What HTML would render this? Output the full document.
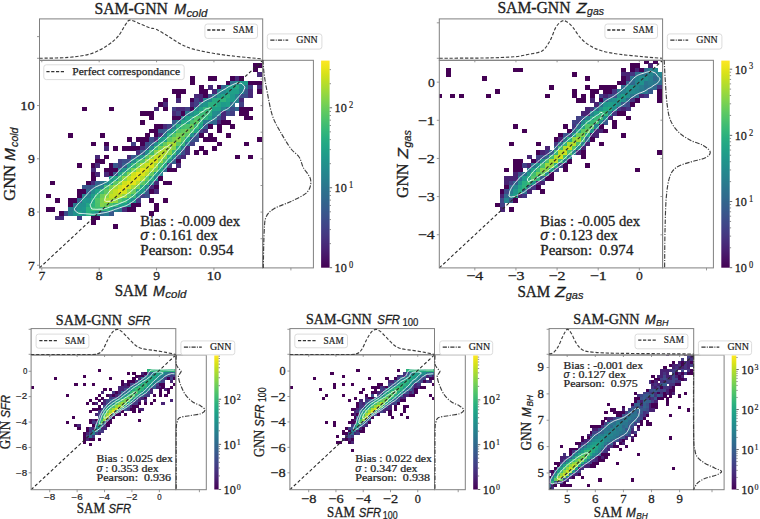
<!DOCTYPE html>
<html><head><meta charset="utf-8"><style>html,body{margin:0;padding:0;background:#fff;overflow:hidden}svg{display:block}</style></head>
<body>
<svg width="760" height="519" viewBox="0 0 760 519">
<rect width="760" height="519" fill="#ffffff"/>
<defs><linearGradient id="vir" x1="0" y1="1" x2="0" y2="0"><stop offset="0.0000" stop-color="#440154"/><stop offset="0.0312" stop-color="#470d60"/><stop offset="0.0625" stop-color="#48186a"/><stop offset="0.0938" stop-color="#482374"/><stop offset="0.1250" stop-color="#472d7b"/><stop offset="0.1562" stop-color="#453781"/><stop offset="0.1875" stop-color="#424086"/><stop offset="0.2188" stop-color="#3e4989"/><stop offset="0.2500" stop-color="#3b528b"/><stop offset="0.2812" stop-color="#375b8d"/><stop offset="0.3125" stop-color="#33638d"/><stop offset="0.3438" stop-color="#2f6b8e"/><stop offset="0.3750" stop-color="#2c728e"/><stop offset="0.4062" stop-color="#297a8e"/><stop offset="0.4375" stop-color="#26828e"/><stop offset="0.4688" stop-color="#23898e"/><stop offset="0.5000" stop-color="#21918c"/><stop offset="0.5312" stop-color="#1f988b"/><stop offset="0.5625" stop-color="#1fa088"/><stop offset="0.5938" stop-color="#22a785"/><stop offset="0.6250" stop-color="#28ae80"/><stop offset="0.6562" stop-color="#32b67a"/><stop offset="0.6875" stop-color="#3fbc73"/><stop offset="0.7188" stop-color="#4ec36b"/><stop offset="0.7500" stop-color="#5ec962"/><stop offset="0.7812" stop-color="#70cf57"/><stop offset="0.8125" stop-color="#84d44b"/><stop offset="0.8438" stop-color="#98d83e"/><stop offset="0.8750" stop-color="#addc30"/><stop offset="0.9062" stop-color="#c2df23"/><stop offset="0.9375" stop-color="#d8e219"/><stop offset="0.9688" stop-color="#ece51b"/><stop offset="1.0000" stop-color="#fde725"/></linearGradient></defs>
<g shape-rendering="crispEdges">
<rect x="252.80" y="63.30" width="4.80" height="4.65" fill="#440154"/>
<rect x="257.30" y="63.30" width="4.80" height="4.65" fill="#440154"/>
<rect x="252.80" y="67.65" width="4.80" height="4.65" fill="#440154"/>
<rect x="144.80" y="72.00" width="4.80" height="4.65" fill="#440154"/>
<rect x="257.30" y="72.00" width="4.80" height="4.65" fill="#482979"/>
<rect x="189.80" y="76.35" width="4.80" height="4.65" fill="#440154"/>
<rect x="207.80" y="76.35" width="4.80" height="4.65" fill="#440154"/>
<rect x="212.30" y="76.35" width="4.80" height="4.65" fill="#440154"/>
<rect x="230.30" y="76.35" width="4.80" height="4.65" fill="#440154"/>
<rect x="234.80" y="76.35" width="4.80" height="4.65" fill="#482979"/>
<rect x="239.30" y="76.35" width="4.80" height="4.65" fill="#440154"/>
<rect x="189.80" y="80.70" width="4.80" height="4.65" fill="#440154"/>
<rect x="225.80" y="80.70" width="4.80" height="4.65" fill="#440154"/>
<rect x="230.30" y="80.70" width="4.80" height="4.65" fill="#2d718e"/>
<rect x="234.80" y="80.70" width="4.80" height="4.65" fill="#238a8d"/>
<rect x="239.30" y="80.70" width="4.80" height="4.65" fill="#1f988b"/>
<rect x="243.80" y="80.70" width="4.80" height="4.65" fill="#1e9d89"/>
<rect x="248.30" y="80.70" width="4.80" height="4.65" fill="#440154"/>
<rect x="252.80" y="80.70" width="4.80" height="4.65" fill="#440154"/>
<rect x="257.30" y="80.70" width="4.80" height="4.65" fill="#440154"/>
<rect x="198.80" y="85.05" width="4.80" height="4.65" fill="#440154"/>
<rect x="207.80" y="85.05" width="4.80" height="4.65" fill="#482979"/>
<rect x="216.80" y="85.05" width="4.80" height="4.65" fill="#440154"/>
<rect x="221.30" y="85.05" width="4.80" height="4.65" fill="#31668e"/>
<rect x="225.80" y="85.05" width="4.80" height="4.65" fill="#1f968b"/>
<rect x="230.30" y="85.05" width="4.80" height="4.65" fill="#1fa088"/>
<rect x="234.80" y="85.05" width="4.80" height="4.65" fill="#24aa83"/>
<rect x="239.30" y="85.05" width="4.80" height="4.65" fill="#218f8d"/>
<rect x="243.80" y="85.05" width="4.80" height="4.65" fill="#2a788e"/>
<rect x="248.30" y="85.05" width="4.80" height="4.65" fill="#423f85"/>
<rect x="257.30" y="85.05" width="4.80" height="4.65" fill="#482979"/>
<rect x="171.80" y="89.40" width="4.80" height="4.65" fill="#440154"/>
<rect x="176.30" y="89.40" width="4.80" height="4.65" fill="#440154"/>
<rect x="180.80" y="89.40" width="4.80" height="4.65" fill="#440154"/>
<rect x="198.80" y="89.40" width="4.80" height="4.65" fill="#440154"/>
<rect x="203.30" y="89.40" width="4.80" height="4.65" fill="#440154"/>
<rect x="212.30" y="89.40" width="4.80" height="4.65" fill="#482979"/>
<rect x="216.80" y="89.40" width="4.80" height="4.65" fill="#26828e"/>
<rect x="221.30" y="89.40" width="4.80" height="4.65" fill="#23888e"/>
<rect x="225.80" y="89.40" width="4.80" height="4.65" fill="#1e9b8a"/>
<rect x="230.30" y="89.40" width="4.80" height="4.65" fill="#1fa088"/>
<rect x="234.80" y="89.40" width="4.80" height="4.65" fill="#1fa088"/>
<rect x="239.30" y="89.40" width="4.80" height="4.65" fill="#23888e"/>
<rect x="243.80" y="89.40" width="4.80" height="4.65" fill="#38588c"/>
<rect x="248.30" y="89.40" width="4.80" height="4.65" fill="#482979"/>
<rect x="257.30" y="89.40" width="4.80" height="4.65" fill="#440154"/>
<rect x="176.30" y="93.75" width="4.80" height="4.65" fill="#440154"/>
<rect x="194.30" y="93.75" width="4.80" height="4.65" fill="#482979"/>
<rect x="198.80" y="93.75" width="4.80" height="4.65" fill="#482979"/>
<rect x="203.30" y="93.75" width="4.80" height="4.65" fill="#440154"/>
<rect x="207.80" y="93.75" width="4.80" height="4.65" fill="#3d4d8a"/>
<rect x="212.30" y="93.75" width="4.80" height="4.65" fill="#2a788e"/>
<rect x="216.80" y="93.75" width="4.80" height="4.65" fill="#1f988b"/>
<rect x="221.30" y="93.75" width="4.80" height="4.65" fill="#21a585"/>
<rect x="225.80" y="93.75" width="4.80" height="4.65" fill="#28ae80"/>
<rect x="230.30" y="93.75" width="4.80" height="4.65" fill="#1f9a8a"/>
<rect x="234.80" y="93.75" width="4.80" height="4.65" fill="#25858e"/>
<rect x="239.30" y="93.75" width="4.80" height="4.65" fill="#3d4d8a"/>
<rect x="243.80" y="93.75" width="4.80" height="4.65" fill="#3d4d8a"/>
<rect x="248.30" y="93.75" width="4.80" height="4.65" fill="#482979"/>
<rect x="162.80" y="98.10" width="4.80" height="4.65" fill="#440154"/>
<rect x="176.30" y="98.10" width="4.80" height="4.65" fill="#482979"/>
<rect x="189.80" y="98.10" width="4.80" height="4.65" fill="#440154"/>
<rect x="194.30" y="98.10" width="4.80" height="4.65" fill="#423f85"/>
<rect x="198.80" y="98.10" width="4.80" height="4.65" fill="#482979"/>
<rect x="203.30" y="98.10" width="4.80" height="4.65" fill="#25858e"/>
<rect x="207.80" y="98.10" width="4.80" height="4.65" fill="#238a8d"/>
<rect x="212.30" y="98.10" width="4.80" height="4.65" fill="#25ab82"/>
<rect x="216.80" y="98.10" width="4.80" height="4.65" fill="#29af7f"/>
<rect x="221.30" y="98.10" width="4.80" height="4.65" fill="#2fb47c"/>
<rect x="225.80" y="98.10" width="4.80" height="4.65" fill="#21a585"/>
<rect x="230.30" y="98.10" width="4.80" height="4.65" fill="#1f9a8a"/>
<rect x="234.80" y="98.10" width="4.80" height="4.65" fill="#27808e"/>
<rect x="239.30" y="98.10" width="4.80" height="4.65" fill="#482979"/>
<rect x="158.30" y="102.45" width="4.80" height="4.65" fill="#440154"/>
<rect x="162.80" y="102.45" width="4.80" height="4.65" fill="#482979"/>
<rect x="189.80" y="102.45" width="4.80" height="4.65" fill="#482979"/>
<rect x="194.30" y="102.45" width="4.80" height="4.65" fill="#423f85"/>
<rect x="198.80" y="102.45" width="4.80" height="4.65" fill="#238a8d"/>
<rect x="203.30" y="102.45" width="4.80" height="4.65" fill="#1f968b"/>
<rect x="207.80" y="102.45" width="4.80" height="4.65" fill="#29af7f"/>
<rect x="212.30" y="102.45" width="4.80" height="4.65" fill="#2ab07f"/>
<rect x="216.80" y="102.45" width="4.80" height="4.65" fill="#21a585"/>
<rect x="221.30" y="102.45" width="4.80" height="4.65" fill="#1e9b8a"/>
<rect x="225.80" y="102.45" width="4.80" height="4.65" fill="#1fa088"/>
<rect x="230.30" y="102.45" width="4.80" height="4.65" fill="#2d718e"/>
<rect x="239.30" y="102.45" width="4.80" height="4.65" fill="#423f85"/>
<rect x="261.80" y="102.45" width="1.20" height="4.65" fill="#440154"/>
<rect x="81.80" y="106.80" width="4.80" height="4.65" fill="#440154"/>
<rect x="108.80" y="106.80" width="4.80" height="4.65" fill="#440154"/>
<rect x="153.80" y="106.80" width="4.80" height="4.65" fill="#482979"/>
<rect x="162.80" y="106.80" width="4.80" height="4.65" fill="#440154"/>
<rect x="171.80" y="106.80" width="4.80" height="4.65" fill="#423f85"/>
<rect x="176.30" y="106.80" width="4.80" height="4.65" fill="#482979"/>
<rect x="180.80" y="106.80" width="4.80" height="4.65" fill="#482979"/>
<rect x="185.30" y="106.80" width="4.80" height="4.65" fill="#423f85"/>
<rect x="189.80" y="106.80" width="4.80" height="4.65" fill="#440154"/>
<rect x="194.30" y="106.80" width="4.80" height="4.65" fill="#238a8d"/>
<rect x="198.80" y="106.80" width="4.80" height="4.65" fill="#1fa287"/>
<rect x="203.30" y="106.80" width="4.80" height="4.65" fill="#31b57b"/>
<rect x="207.80" y="106.80" width="4.80" height="4.65" fill="#3bbb75"/>
<rect x="212.30" y="106.80" width="4.80" height="4.65" fill="#1fa287"/>
<rect x="216.80" y="106.80" width="4.80" height="4.65" fill="#1fa088"/>
<rect x="221.30" y="106.80" width="4.80" height="4.65" fill="#25858e"/>
<rect x="225.80" y="106.80" width="4.80" height="4.65" fill="#2f6c8e"/>
<rect x="230.30" y="106.80" width="4.80" height="4.65" fill="#3d4d8a"/>
<rect x="234.80" y="106.80" width="4.80" height="4.65" fill="#31668e"/>
<rect x="239.30" y="106.80" width="4.80" height="4.65" fill="#440154"/>
<rect x="243.80" y="106.80" width="4.80" height="4.65" fill="#440154"/>
<rect x="248.30" y="106.80" width="4.80" height="4.65" fill="#440154"/>
<rect x="140.30" y="111.15" width="4.80" height="4.65" fill="#440154"/>
<rect x="144.80" y="111.15" width="4.80" height="4.65" fill="#440154"/>
<rect x="149.30" y="111.15" width="4.80" height="4.65" fill="#440154"/>
<rect x="171.80" y="111.15" width="4.80" height="4.65" fill="#482979"/>
<rect x="176.30" y="111.15" width="4.80" height="4.65" fill="#423f85"/>
<rect x="180.80" y="111.15" width="4.80" height="4.65" fill="#440154"/>
<rect x="185.30" y="111.15" width="4.80" height="4.65" fill="#2b748e"/>
<rect x="189.80" y="111.15" width="4.80" height="4.65" fill="#21918c"/>
<rect x="194.30" y="111.15" width="4.80" height="4.65" fill="#1fa287"/>
<rect x="198.80" y="111.15" width="4.80" height="4.65" fill="#38b977"/>
<rect x="203.30" y="111.15" width="4.80" height="4.65" fill="#3dbc74"/>
<rect x="207.80" y="111.15" width="4.80" height="4.65" fill="#29af7f"/>
<rect x="212.30" y="111.15" width="4.80" height="4.65" fill="#228d8d"/>
<rect x="216.80" y="111.15" width="4.80" height="4.65" fill="#25858e"/>
<rect x="221.30" y="111.15" width="4.80" height="4.65" fill="#482979"/>
<rect x="225.80" y="111.15" width="4.80" height="4.65" fill="#3d4d8a"/>
<rect x="230.30" y="111.15" width="4.80" height="4.65" fill="#423f85"/>
<rect x="239.30" y="111.15" width="4.80" height="4.65" fill="#440154"/>
<rect x="243.80" y="111.15" width="4.80" height="4.65" fill="#440154"/>
<rect x="149.30" y="115.50" width="4.80" height="4.65" fill="#440154"/>
<rect x="171.80" y="115.50" width="4.80" height="4.65" fill="#440154"/>
<rect x="176.30" y="115.50" width="4.80" height="4.65" fill="#440154"/>
<rect x="180.80" y="115.50" width="4.80" height="4.65" fill="#2a788e"/>
<rect x="185.30" y="115.50" width="4.80" height="4.65" fill="#1fa088"/>
<rect x="189.80" y="115.50" width="4.80" height="4.65" fill="#24aa83"/>
<rect x="194.30" y="115.50" width="4.80" height="4.65" fill="#50c46a"/>
<rect x="198.80" y="115.50" width="4.80" height="4.65" fill="#48c16e"/>
<rect x="203.30" y="115.50" width="4.80" height="4.65" fill="#2db27d"/>
<rect x="207.80" y="115.50" width="4.80" height="4.65" fill="#1fa088"/>
<rect x="212.30" y="115.50" width="4.80" height="4.65" fill="#27808e"/>
<rect x="216.80" y="115.50" width="4.80" height="4.65" fill="#3d4d8a"/>
<rect x="221.30" y="115.50" width="4.80" height="4.65" fill="#482979"/>
<rect x="243.80" y="115.50" width="4.80" height="4.65" fill="#440154"/>
<rect x="248.30" y="115.50" width="4.80" height="4.65" fill="#440154"/>
<rect x="140.30" y="119.85" width="4.80" height="4.65" fill="#440154"/>
<rect x="171.80" y="119.85" width="4.80" height="4.65" fill="#38588c"/>
<rect x="176.30" y="119.85" width="4.80" height="4.65" fill="#2a788e"/>
<rect x="180.80" y="119.85" width="4.80" height="4.65" fill="#22a884"/>
<rect x="185.30" y="119.85" width="4.80" height="4.65" fill="#21a685"/>
<rect x="189.80" y="119.85" width="4.80" height="4.65" fill="#4ac16d"/>
<rect x="194.30" y="119.85" width="4.80" height="4.65" fill="#5ec962"/>
<rect x="198.80" y="119.85" width="4.80" height="4.65" fill="#27ad81"/>
<rect x="203.30" y="119.85" width="4.80" height="4.65" fill="#287c8e"/>
<rect x="207.80" y="119.85" width="4.80" height="4.65" fill="#2d718e"/>
<rect x="212.30" y="119.85" width="4.80" height="4.65" fill="#31668e"/>
<rect x="216.80" y="119.85" width="4.80" height="4.65" fill="#482979"/>
<rect x="221.30" y="119.85" width="4.80" height="4.65" fill="#440154"/>
<rect x="225.80" y="119.85" width="4.80" height="4.65" fill="#440154"/>
<rect x="153.80" y="124.20" width="4.80" height="4.65" fill="#440154"/>
<rect x="158.30" y="124.20" width="4.80" height="4.65" fill="#440154"/>
<rect x="162.80" y="124.20" width="4.80" height="4.65" fill="#482979"/>
<rect x="167.30" y="124.20" width="4.80" height="4.65" fill="#423f85"/>
<rect x="171.80" y="124.20" width="4.80" height="4.65" fill="#287c8e"/>
<rect x="176.30" y="124.20" width="4.80" height="4.65" fill="#26ad81"/>
<rect x="180.80" y="124.20" width="4.80" height="4.65" fill="#40bd72"/>
<rect x="185.30" y="124.20" width="4.80" height="4.65" fill="#4ac16d"/>
<rect x="189.80" y="124.20" width="4.80" height="4.65" fill="#6ece58"/>
<rect x="194.30" y="124.20" width="4.80" height="4.65" fill="#35b779"/>
<rect x="198.80" y="124.20" width="4.80" height="4.65" fill="#1fa088"/>
<rect x="203.30" y="124.20" width="4.80" height="4.65" fill="#38588c"/>
<rect x="207.80" y="124.20" width="4.80" height="4.65" fill="#440154"/>
<rect x="216.80" y="124.20" width="4.80" height="4.65" fill="#440154"/>
<rect x="230.30" y="124.20" width="4.80" height="4.65" fill="#440154"/>
<rect x="149.30" y="128.55" width="4.80" height="4.65" fill="#440154"/>
<rect x="153.80" y="128.55" width="4.80" height="4.65" fill="#440154"/>
<rect x="158.30" y="128.55" width="4.80" height="4.65" fill="#38588c"/>
<rect x="162.80" y="128.55" width="4.80" height="4.65" fill="#38588c"/>
<rect x="167.30" y="128.55" width="4.80" height="4.65" fill="#238a8d"/>
<rect x="171.80" y="128.55" width="4.80" height="4.65" fill="#1fa287"/>
<rect x="176.30" y="128.55" width="4.80" height="4.65" fill="#52c569"/>
<rect x="180.80" y="128.55" width="4.80" height="4.65" fill="#60ca60"/>
<rect x="185.30" y="128.55" width="4.80" height="4.65" fill="#73d056"/>
<rect x="189.80" y="128.55" width="4.80" height="4.65" fill="#46c06f"/>
<rect x="194.30" y="128.55" width="4.80" height="4.65" fill="#21a585"/>
<rect x="198.80" y="128.55" width="4.80" height="4.65" fill="#423f85"/>
<rect x="203.30" y="128.55" width="4.80" height="4.65" fill="#482979"/>
<rect x="216.80" y="128.55" width="4.80" height="4.65" fill="#440154"/>
<rect x="68.30" y="132.90" width="4.80" height="4.65" fill="#440154"/>
<rect x="99.80" y="132.90" width="4.80" height="4.65" fill="#440154"/>
<rect x="144.80" y="132.90" width="4.80" height="4.65" fill="#440154"/>
<rect x="153.80" y="132.90" width="4.80" height="4.65" fill="#440154"/>
<rect x="158.30" y="132.90" width="4.80" height="4.65" fill="#482979"/>
<rect x="162.80" y="132.90" width="4.80" height="4.65" fill="#287c8e"/>
<rect x="167.30" y="132.90" width="4.80" height="4.65" fill="#27ad81"/>
<rect x="171.80" y="132.90" width="4.80" height="4.65" fill="#52c569"/>
<rect x="176.30" y="132.90" width="4.80" height="4.65" fill="#75d054"/>
<rect x="180.80" y="132.90" width="4.80" height="4.65" fill="#77d153"/>
<rect x="185.30" y="132.90" width="4.80" height="4.65" fill="#56c667"/>
<rect x="189.80" y="132.90" width="4.80" height="4.65" fill="#1f948c"/>
<rect x="194.30" y="132.90" width="4.80" height="4.65" fill="#355f8d"/>
<rect x="198.80" y="132.90" width="4.80" height="4.65" fill="#440154"/>
<rect x="207.80" y="132.90" width="4.80" height="4.65" fill="#440154"/>
<rect x="225.80" y="132.90" width="4.80" height="4.65" fill="#440154"/>
<rect x="126.80" y="137.25" width="4.80" height="4.65" fill="#440154"/>
<rect x="135.80" y="137.25" width="4.80" height="4.65" fill="#440154"/>
<rect x="140.30" y="137.25" width="4.80" height="4.65" fill="#440154"/>
<rect x="144.80" y="137.25" width="4.80" height="4.65" fill="#440154"/>
<rect x="149.30" y="137.25" width="4.80" height="4.65" fill="#3d4d8a"/>
<rect x="153.80" y="137.25" width="4.80" height="4.65" fill="#482979"/>
<rect x="158.30" y="137.25" width="4.80" height="4.65" fill="#1f968b"/>
<rect x="162.80" y="137.25" width="4.80" height="4.65" fill="#1fa287"/>
<rect x="167.30" y="137.25" width="4.80" height="4.65" fill="#5cc863"/>
<rect x="171.80" y="137.25" width="4.80" height="4.65" fill="#7ad151"/>
<rect x="176.30" y="137.25" width="4.80" height="4.65" fill="#8ed645"/>
<rect x="180.80" y="137.25" width="4.80" height="4.65" fill="#5ac864"/>
<rect x="185.30" y="137.25" width="4.80" height="4.65" fill="#1fa187"/>
<rect x="189.80" y="137.25" width="4.80" height="4.65" fill="#38588c"/>
<rect x="194.30" y="137.25" width="4.80" height="4.65" fill="#3d4d8a"/>
<rect x="203.30" y="137.25" width="4.80" height="4.65" fill="#440154"/>
<rect x="207.80" y="137.25" width="4.80" height="4.65" fill="#440154"/>
<rect x="212.30" y="137.25" width="4.80" height="4.65" fill="#440154"/>
<rect x="257.30" y="137.25" width="4.80" height="4.65" fill="#440154"/>
<rect x="90.80" y="141.60" width="4.80" height="4.65" fill="#440154"/>
<rect x="104.30" y="141.60" width="4.80" height="4.65" fill="#440154"/>
<rect x="131.30" y="141.60" width="4.80" height="4.65" fill="#423f85"/>
<rect x="140.30" y="141.60" width="4.80" height="4.65" fill="#440154"/>
<rect x="144.80" y="141.60" width="4.80" height="4.65" fill="#3d4d8a"/>
<rect x="149.30" y="141.60" width="4.80" height="4.65" fill="#355f8d"/>
<rect x="153.80" y="141.60" width="4.80" height="4.65" fill="#218f8d"/>
<rect x="158.30" y="141.60" width="4.80" height="4.65" fill="#34b679"/>
<rect x="162.80" y="141.60" width="4.80" height="4.65" fill="#65cb5e"/>
<rect x="167.30" y="141.60" width="4.80" height="4.65" fill="#9bd93c"/>
<rect x="171.80" y="141.60" width="4.80" height="4.65" fill="#addc30"/>
<rect x="176.30" y="141.60" width="4.80" height="4.65" fill="#5ec962"/>
<rect x="180.80" y="141.60" width="4.80" height="4.65" fill="#31b57b"/>
<rect x="185.30" y="141.60" width="4.80" height="4.65" fill="#2b748e"/>
<rect x="189.80" y="141.60" width="4.80" height="4.65" fill="#423f85"/>
<rect x="216.80" y="141.60" width="4.80" height="4.65" fill="#440154"/>
<rect x="243.80" y="141.60" width="4.80" height="4.65" fill="#440154"/>
<rect x="104.30" y="145.95" width="4.80" height="4.65" fill="#482979"/>
<rect x="113.30" y="145.95" width="4.80" height="4.65" fill="#440154"/>
<rect x="122.30" y="145.95" width="4.80" height="4.65" fill="#440154"/>
<rect x="126.80" y="145.95" width="4.80" height="4.65" fill="#440154"/>
<rect x="131.30" y="145.95" width="4.80" height="4.65" fill="#440154"/>
<rect x="135.80" y="145.95" width="4.80" height="4.65" fill="#440154"/>
<rect x="140.30" y="145.95" width="4.80" height="4.65" fill="#482979"/>
<rect x="144.80" y="145.95" width="4.80" height="4.65" fill="#3d4d8a"/>
<rect x="149.30" y="145.95" width="4.80" height="4.65" fill="#23888e"/>
<rect x="153.80" y="145.95" width="4.80" height="4.65" fill="#3bbb75"/>
<rect x="158.30" y="145.95" width="4.80" height="4.65" fill="#6ece58"/>
<rect x="162.80" y="145.95" width="4.80" height="4.65" fill="#a5db36"/>
<rect x="167.30" y="145.95" width="4.80" height="4.65" fill="#a0da39"/>
<rect x="171.80" y="145.95" width="4.80" height="4.65" fill="#84d44b"/>
<rect x="176.30" y="145.95" width="4.80" height="4.65" fill="#2ab07f"/>
<rect x="180.80" y="145.95" width="4.80" height="4.65" fill="#27808e"/>
<rect x="185.30" y="145.95" width="4.80" height="4.65" fill="#482979"/>
<rect x="198.80" y="145.95" width="4.80" height="4.65" fill="#440154"/>
<rect x="212.30" y="145.95" width="4.80" height="4.65" fill="#440154"/>
<rect x="135.80" y="150.30" width="4.80" height="4.65" fill="#482979"/>
<rect x="140.30" y="150.30" width="4.80" height="4.65" fill="#355f8d"/>
<rect x="144.80" y="150.30" width="4.80" height="4.65" fill="#228d8d"/>
<rect x="149.30" y="150.30" width="4.80" height="4.65" fill="#40bd72"/>
<rect x="153.80" y="150.30" width="4.80" height="4.65" fill="#86d549"/>
<rect x="158.30" y="150.30" width="4.80" height="4.65" fill="#b8de29"/>
<rect x="162.80" y="150.30" width="4.80" height="4.65" fill="#b2dd2d"/>
<rect x="167.30" y="150.30" width="4.80" height="4.65" fill="#86d549"/>
<rect x="171.80" y="150.30" width="4.80" height="4.65" fill="#3aba76"/>
<rect x="176.30" y="150.30" width="4.80" height="4.65" fill="#23888e"/>
<rect x="180.80" y="150.30" width="4.80" height="4.65" fill="#3d4d8a"/>
<rect x="185.30" y="150.30" width="4.80" height="4.65" fill="#482979"/>
<rect x="194.30" y="150.30" width="4.80" height="4.65" fill="#440154"/>
<rect x="203.30" y="150.30" width="4.80" height="4.65" fill="#440154"/>
<rect x="95.30" y="154.65" width="4.80" height="4.65" fill="#482979"/>
<rect x="104.30" y="154.65" width="4.80" height="4.65" fill="#440154"/>
<rect x="126.80" y="154.65" width="4.80" height="4.65" fill="#482979"/>
<rect x="131.30" y="154.65" width="4.80" height="4.65" fill="#38588c"/>
<rect x="135.80" y="154.65" width="4.80" height="4.65" fill="#287c8e"/>
<rect x="140.30" y="154.65" width="4.80" height="4.65" fill="#1f988b"/>
<rect x="144.80" y="154.65" width="4.80" height="4.65" fill="#58c765"/>
<rect x="149.30" y="154.65" width="4.80" height="4.65" fill="#8ed645"/>
<rect x="153.80" y="154.65" width="4.80" height="4.65" fill="#c8e020"/>
<rect x="158.30" y="154.65" width="4.80" height="4.65" fill="#c8e020"/>
<rect x="162.80" y="154.65" width="4.80" height="4.65" fill="#89d548"/>
<rect x="167.30" y="154.65" width="4.80" height="4.65" fill="#35b779"/>
<rect x="171.80" y="154.65" width="4.80" height="4.65" fill="#218f8d"/>
<rect x="176.30" y="154.65" width="4.80" height="4.65" fill="#423f85"/>
<rect x="180.80" y="154.65" width="4.80" height="4.65" fill="#482979"/>
<rect x="234.80" y="154.65" width="4.80" height="4.65" fill="#440154"/>
<rect x="248.30" y="154.65" width="4.80" height="4.65" fill="#440154"/>
<rect x="95.30" y="159.00" width="4.80" height="4.65" fill="#440154"/>
<rect x="99.80" y="159.00" width="4.80" height="4.65" fill="#440154"/>
<rect x="117.80" y="159.00" width="4.80" height="4.65" fill="#423f85"/>
<rect x="122.30" y="159.00" width="4.80" height="4.65" fill="#3d4d8a"/>
<rect x="126.80" y="159.00" width="4.80" height="4.65" fill="#3d4d8a"/>
<rect x="131.30" y="159.00" width="4.80" height="4.65" fill="#228d8d"/>
<rect x="135.80" y="159.00" width="4.80" height="4.65" fill="#2fb47c"/>
<rect x="140.30" y="159.00" width="4.80" height="4.65" fill="#54c568"/>
<rect x="144.80" y="159.00" width="4.80" height="4.65" fill="#95d840"/>
<rect x="149.30" y="159.00" width="4.80" height="4.65" fill="#d0e11c"/>
<rect x="153.80" y="159.00" width="4.80" height="4.65" fill="#d8e219"/>
<rect x="158.30" y="159.00" width="4.80" height="4.65" fill="#95d840"/>
<rect x="162.80" y="159.00" width="4.80" height="4.65" fill="#4ac16d"/>
<rect x="167.30" y="159.00" width="4.80" height="4.65" fill="#1f9a8a"/>
<rect x="171.80" y="159.00" width="4.80" height="4.65" fill="#355f8d"/>
<rect x="176.30" y="159.00" width="4.80" height="4.65" fill="#440154"/>
<rect x="77.30" y="163.35" width="4.80" height="4.65" fill="#440154"/>
<rect x="90.80" y="163.35" width="4.80" height="4.65" fill="#440154"/>
<rect x="95.30" y="163.35" width="4.80" height="4.65" fill="#482979"/>
<rect x="108.80" y="163.35" width="4.80" height="4.65" fill="#440154"/>
<rect x="113.30" y="163.35" width="4.80" height="4.65" fill="#38588c"/>
<rect x="117.80" y="163.35" width="4.80" height="4.65" fill="#423f85"/>
<rect x="122.30" y="163.35" width="4.80" height="4.65" fill="#355f8d"/>
<rect x="126.80" y="163.35" width="4.80" height="4.65" fill="#1f968b"/>
<rect x="131.30" y="163.35" width="4.80" height="4.65" fill="#31b57b"/>
<rect x="135.80" y="163.35" width="4.80" height="4.65" fill="#5cc863"/>
<rect x="140.30" y="163.35" width="4.80" height="4.65" fill="#b2dd2d"/>
<rect x="144.80" y="163.35" width="4.80" height="4.65" fill="#cde11d"/>
<rect x="149.30" y="163.35" width="4.80" height="4.65" fill="#dde318"/>
<rect x="153.80" y="163.35" width="4.80" height="4.65" fill="#98d83e"/>
<rect x="158.30" y="163.35" width="4.80" height="4.65" fill="#4ac16d"/>
<rect x="162.80" y="163.35" width="4.80" height="4.65" fill="#21a585"/>
<rect x="167.30" y="163.35" width="4.80" height="4.65" fill="#423f85"/>
<rect x="176.30" y="163.35" width="4.80" height="4.65" fill="#482979"/>
<rect x="90.80" y="167.70" width="4.80" height="4.65" fill="#482979"/>
<rect x="104.30" y="167.70" width="4.80" height="4.65" fill="#440154"/>
<rect x="108.80" y="167.70" width="4.80" height="4.65" fill="#440154"/>
<rect x="113.30" y="167.70" width="4.80" height="4.65" fill="#440154"/>
<rect x="117.80" y="167.70" width="4.80" height="4.65" fill="#287c8e"/>
<rect x="122.30" y="167.70" width="4.80" height="4.65" fill="#20928c"/>
<rect x="126.80" y="167.70" width="4.80" height="4.65" fill="#38b977"/>
<rect x="131.30" y="167.70" width="4.80" height="4.65" fill="#75d054"/>
<rect x="135.80" y="167.70" width="4.80" height="4.65" fill="#b5de2b"/>
<rect x="140.30" y="167.70" width="4.80" height="4.65" fill="#e7e419"/>
<rect x="144.80" y="167.70" width="4.80" height="4.65" fill="#d2e21b"/>
<rect x="149.30" y="167.70" width="4.80" height="4.65" fill="#a5db36"/>
<rect x="153.80" y="167.70" width="4.80" height="4.65" fill="#6ece58"/>
<rect x="158.30" y="167.70" width="4.80" height="4.65" fill="#22a884"/>
<rect x="162.80" y="167.70" width="4.80" height="4.65" fill="#2f6c8e"/>
<rect x="167.30" y="167.70" width="4.80" height="4.65" fill="#440154"/>
<rect x="171.80" y="167.70" width="4.80" height="4.65" fill="#440154"/>
<rect x="90.80" y="172.05" width="4.80" height="4.65" fill="#440154"/>
<rect x="95.30" y="172.05" width="4.80" height="4.65" fill="#482979"/>
<rect x="104.30" y="172.05" width="4.80" height="4.65" fill="#482979"/>
<rect x="108.80" y="172.05" width="4.80" height="4.65" fill="#440154"/>
<rect x="113.30" y="172.05" width="4.80" height="4.65" fill="#38588c"/>
<rect x="117.80" y="172.05" width="4.80" height="4.65" fill="#1fa088"/>
<rect x="122.30" y="172.05" width="4.80" height="4.65" fill="#40bd72"/>
<rect x="126.80" y="172.05" width="4.80" height="4.65" fill="#7fd34e"/>
<rect x="131.30" y="172.05" width="4.80" height="4.65" fill="#cde11d"/>
<rect x="135.80" y="172.05" width="4.80" height="4.65" fill="#eae51a"/>
<rect x="140.30" y="172.05" width="4.80" height="4.65" fill="#dae319"/>
<rect x="144.80" y="172.05" width="4.80" height="4.65" fill="#b5de2b"/>
<rect x="149.30" y="172.05" width="4.80" height="4.65" fill="#65cb5e"/>
<rect x="153.80" y="172.05" width="4.80" height="4.65" fill="#1fa088"/>
<rect x="158.30" y="172.05" width="4.80" height="4.65" fill="#25858e"/>
<rect x="90.80" y="176.40" width="4.80" height="4.65" fill="#440154"/>
<rect x="108.80" y="176.40" width="4.80" height="4.65" fill="#1f948c"/>
<rect x="113.30" y="176.40" width="4.80" height="4.65" fill="#21a585"/>
<rect x="117.80" y="176.40" width="4.80" height="4.65" fill="#4cc26c"/>
<rect x="122.30" y="176.40" width="4.80" height="4.65" fill="#8bd646"/>
<rect x="126.80" y="176.40" width="4.80" height="4.65" fill="#c2df23"/>
<rect x="131.30" y="176.40" width="4.80" height="4.65" fill="#dfe318"/>
<rect x="135.80" y="176.40" width="4.80" height="4.65" fill="#dfe318"/>
<rect x="140.30" y="176.40" width="4.80" height="4.65" fill="#b5de2b"/>
<rect x="144.80" y="176.40" width="4.80" height="4.65" fill="#5cc863"/>
<rect x="149.30" y="176.40" width="4.80" height="4.65" fill="#2ab07f"/>
<rect x="153.80" y="176.40" width="4.80" height="4.65" fill="#23888e"/>
<rect x="158.30" y="176.40" width="4.80" height="4.65" fill="#440154"/>
<rect x="50.30" y="180.75" width="4.80" height="4.65" fill="#440154"/>
<rect x="86.30" y="180.75" width="4.80" height="4.65" fill="#440154"/>
<rect x="90.80" y="180.75" width="4.80" height="4.65" fill="#482979"/>
<rect x="95.30" y="180.75" width="4.80" height="4.65" fill="#355f8d"/>
<rect x="99.80" y="180.75" width="4.80" height="4.65" fill="#2d718e"/>
<rect x="104.30" y="180.75" width="4.80" height="4.65" fill="#228d8d"/>
<rect x="108.80" y="180.75" width="4.80" height="4.65" fill="#21a585"/>
<rect x="113.30" y="180.75" width="4.80" height="4.65" fill="#5cc863"/>
<rect x="117.80" y="180.75" width="4.80" height="4.65" fill="#89d548"/>
<rect x="122.30" y="180.75" width="4.80" height="4.65" fill="#cde11d"/>
<rect x="126.80" y="180.75" width="4.80" height="4.65" fill="#e2e418"/>
<rect x="131.30" y="180.75" width="4.80" height="4.65" fill="#e5e419"/>
<rect x="135.80" y="180.75" width="4.80" height="4.65" fill="#b8de29"/>
<rect x="140.30" y="180.75" width="4.80" height="4.65" fill="#5ac864"/>
<rect x="144.80" y="180.75" width="4.80" height="4.65" fill="#38b977"/>
<rect x="149.30" y="180.75" width="4.80" height="4.65" fill="#228d8d"/>
<rect x="153.80" y="180.75" width="4.80" height="4.65" fill="#482979"/>
<rect x="162.80" y="180.75" width="4.80" height="4.65" fill="#440154"/>
<rect x="167.30" y="180.75" width="4.80" height="4.65" fill="#440154"/>
<rect x="81.80" y="185.10" width="4.80" height="4.65" fill="#38588c"/>
<rect x="86.30" y="185.10" width="4.80" height="4.65" fill="#38588c"/>
<rect x="90.80" y="185.10" width="4.80" height="4.65" fill="#355f8d"/>
<rect x="95.30" y="185.10" width="4.80" height="4.65" fill="#27808e"/>
<rect x="99.80" y="185.10" width="4.80" height="4.65" fill="#25858e"/>
<rect x="104.30" y="185.10" width="4.80" height="4.65" fill="#40bd72"/>
<rect x="108.80" y="185.10" width="4.80" height="4.65" fill="#70cf57"/>
<rect x="113.30" y="185.10" width="4.80" height="4.65" fill="#a2da37"/>
<rect x="117.80" y="185.10" width="4.80" height="4.65" fill="#cae11f"/>
<rect x="122.30" y="185.10" width="4.80" height="4.65" fill="#e5e419"/>
<rect x="126.80" y="185.10" width="4.80" height="4.65" fill="#d2e21b"/>
<rect x="131.30" y="185.10" width="4.80" height="4.65" fill="#a0da39"/>
<rect x="135.80" y="185.10" width="4.80" height="4.65" fill="#6ccd5a"/>
<rect x="140.30" y="185.10" width="4.80" height="4.65" fill="#29af7f"/>
<rect x="144.80" y="185.10" width="4.80" height="4.65" fill="#23888e"/>
<rect x="149.30" y="185.10" width="4.80" height="4.65" fill="#482979"/>
<rect x="153.80" y="185.10" width="4.80" height="4.65" fill="#440154"/>
<rect x="77.30" y="189.45" width="4.80" height="4.65" fill="#440154"/>
<rect x="81.80" y="189.45" width="4.80" height="4.65" fill="#440154"/>
<rect x="86.30" y="189.45" width="4.80" height="4.65" fill="#31668e"/>
<rect x="90.80" y="189.45" width="4.80" height="4.65" fill="#238a8d"/>
<rect x="95.30" y="189.45" width="4.80" height="4.65" fill="#1fa187"/>
<rect x="99.80" y="189.45" width="4.80" height="4.65" fill="#3dbc74"/>
<rect x="104.30" y="189.45" width="4.80" height="4.65" fill="#5cc863"/>
<rect x="108.80" y="189.45" width="4.80" height="4.65" fill="#aadc32"/>
<rect x="113.30" y="189.45" width="4.80" height="4.65" fill="#c5e021"/>
<rect x="117.80" y="189.45" width="4.80" height="4.65" fill="#e5e419"/>
<rect x="122.30" y="189.45" width="4.80" height="4.65" fill="#d2e21b"/>
<rect x="126.80" y="189.45" width="4.80" height="4.65" fill="#90d743"/>
<rect x="131.30" y="189.45" width="4.80" height="4.65" fill="#65cb5e"/>
<rect x="135.80" y="189.45" width="4.80" height="4.65" fill="#21a685"/>
<rect x="140.30" y="189.45" width="4.80" height="4.65" fill="#1f988b"/>
<rect x="144.80" y="189.45" width="4.80" height="4.65" fill="#38588c"/>
<rect x="149.30" y="189.45" width="4.80" height="4.65" fill="#440154"/>
<rect x="153.80" y="189.45" width="4.80" height="4.65" fill="#482979"/>
<rect x="45.80" y="193.80" width="4.80" height="4.65" fill="#440154"/>
<rect x="77.30" y="193.80" width="4.80" height="4.65" fill="#440154"/>
<rect x="81.80" y="193.80" width="4.80" height="4.65" fill="#26828e"/>
<rect x="86.30" y="193.80" width="4.80" height="4.65" fill="#25858e"/>
<rect x="90.80" y="193.80" width="4.80" height="4.65" fill="#1e9d89"/>
<rect x="95.30" y="193.80" width="4.80" height="4.65" fill="#3aba76"/>
<rect x="99.80" y="193.80" width="4.80" height="4.65" fill="#6ccd5a"/>
<rect x="104.30" y="193.80" width="4.80" height="4.65" fill="#86d549"/>
<rect x="108.80" y="193.80" width="4.80" height="4.65" fill="#c2df23"/>
<rect x="113.30" y="193.80" width="4.80" height="4.65" fill="#c5e021"/>
<rect x="117.80" y="193.80" width="4.80" height="4.65" fill="#bade28"/>
<rect x="122.30" y="193.80" width="4.80" height="4.65" fill="#90d743"/>
<rect x="126.80" y="193.80" width="4.80" height="4.65" fill="#56c667"/>
<rect x="131.30" y="193.80" width="4.80" height="4.65" fill="#34b679"/>
<rect x="135.80" y="193.80" width="4.80" height="4.65" fill="#238a8d"/>
<rect x="140.30" y="193.80" width="4.80" height="4.65" fill="#423f85"/>
<rect x="144.80" y="193.80" width="4.80" height="4.65" fill="#3d4d8a"/>
<rect x="54.80" y="198.15" width="4.80" height="4.65" fill="#440154"/>
<rect x="68.30" y="198.15" width="4.80" height="4.65" fill="#440154"/>
<rect x="72.80" y="198.15" width="4.80" height="4.65" fill="#440154"/>
<rect x="77.30" y="198.15" width="4.80" height="4.65" fill="#31668e"/>
<rect x="81.80" y="198.15" width="4.80" height="4.65" fill="#1f988b"/>
<rect x="86.30" y="198.15" width="4.80" height="4.65" fill="#1f948c"/>
<rect x="90.80" y="198.15" width="4.80" height="4.65" fill="#25ac82"/>
<rect x="95.30" y="198.15" width="4.80" height="4.65" fill="#4ec36b"/>
<rect x="99.80" y="198.15" width="4.80" height="4.65" fill="#7ad151"/>
<rect x="104.30" y="198.15" width="4.80" height="4.65" fill="#a8db34"/>
<rect x="108.80" y="198.15" width="4.80" height="4.65" fill="#addc30"/>
<rect x="113.30" y="198.15" width="4.80" height="4.65" fill="#90d743"/>
<rect x="117.80" y="198.15" width="4.80" height="4.65" fill="#52c569"/>
<rect x="122.30" y="198.15" width="4.80" height="4.65" fill="#3aba76"/>
<rect x="126.80" y="198.15" width="4.80" height="4.65" fill="#1fa088"/>
<rect x="131.30" y="198.15" width="4.80" height="4.65" fill="#20928c"/>
<rect x="135.80" y="198.15" width="4.80" height="4.65" fill="#423f85"/>
<rect x="149.30" y="198.15" width="4.80" height="4.65" fill="#440154"/>
<rect x="162.80" y="198.15" width="4.80" height="4.65" fill="#440154"/>
<rect x="68.30" y="202.50" width="4.80" height="4.65" fill="#440154"/>
<rect x="72.80" y="202.50" width="4.80" height="4.65" fill="#2a788e"/>
<rect x="77.30" y="202.50" width="4.80" height="4.65" fill="#21918c"/>
<rect x="81.80" y="202.50" width="4.80" height="4.65" fill="#21918c"/>
<rect x="86.30" y="202.50" width="4.80" height="4.65" fill="#21a685"/>
<rect x="90.80" y="202.50" width="4.80" height="4.65" fill="#2db27d"/>
<rect x="95.30" y="202.50" width="4.80" height="4.65" fill="#4ac16d"/>
<rect x="99.80" y="202.50" width="4.80" height="4.65" fill="#84d44b"/>
<rect x="104.30" y="202.50" width="4.80" height="4.65" fill="#70cf57"/>
<rect x="108.80" y="202.50" width="4.80" height="4.65" fill="#48c16e"/>
<rect x="113.30" y="202.50" width="4.80" height="4.65" fill="#34b679"/>
<rect x="117.80" y="202.50" width="4.80" height="4.65" fill="#1fa088"/>
<rect x="122.30" y="202.50" width="4.80" height="4.65" fill="#1fa287"/>
<rect x="126.80" y="202.50" width="4.80" height="4.65" fill="#26828e"/>
<rect x="131.30" y="202.50" width="4.80" height="4.65" fill="#440154"/>
<rect x="135.80" y="202.50" width="4.80" height="4.65" fill="#440154"/>
<rect x="153.80" y="202.50" width="4.80" height="4.65" fill="#440154"/>
<rect x="45.80" y="206.85" width="4.80" height="4.65" fill="#440154"/>
<rect x="50.30" y="206.85" width="4.80" height="4.65" fill="#440154"/>
<rect x="68.30" y="206.85" width="4.80" height="4.65" fill="#2a788e"/>
<rect x="72.80" y="206.85" width="4.80" height="4.65" fill="#25858e"/>
<rect x="77.30" y="206.85" width="4.80" height="4.65" fill="#20928c"/>
<rect x="81.80" y="206.85" width="4.80" height="4.65" fill="#1f968b"/>
<rect x="86.30" y="206.85" width="4.80" height="4.65" fill="#2cb17e"/>
<rect x="90.80" y="206.85" width="4.80" height="4.65" fill="#3dbc74"/>
<rect x="95.30" y="206.85" width="4.80" height="4.65" fill="#40bd72"/>
<rect x="99.80" y="206.85" width="4.80" height="4.65" fill="#3bbb75"/>
<rect x="104.30" y="206.85" width="4.80" height="4.65" fill="#31b57b"/>
<rect x="108.80" y="206.85" width="4.80" height="4.65" fill="#1f9f88"/>
<rect x="113.30" y="206.85" width="4.80" height="4.65" fill="#27808e"/>
<rect x="117.80" y="206.85" width="4.80" height="4.65" fill="#2b748e"/>
<rect x="122.30" y="206.85" width="4.80" height="4.65" fill="#482979"/>
<rect x="126.80" y="206.85" width="4.80" height="4.65" fill="#440154"/>
<rect x="131.30" y="206.85" width="4.80" height="4.65" fill="#440154"/>
<rect x="153.80" y="206.85" width="4.80" height="4.65" fill="#440154"/>
<rect x="59.30" y="211.20" width="4.80" height="4.65" fill="#440154"/>
<rect x="63.80" y="211.20" width="4.80" height="4.65" fill="#3d4d8a"/>
<rect x="68.30" y="211.20" width="4.80" height="4.65" fill="#287c8e"/>
<rect x="72.80" y="211.20" width="4.80" height="4.65" fill="#20928c"/>
<rect x="77.30" y="211.20" width="4.80" height="4.65" fill="#1f9f88"/>
<rect x="81.80" y="211.20" width="4.80" height="4.65" fill="#218f8d"/>
<rect x="86.30" y="211.20" width="4.80" height="4.65" fill="#2ab07f"/>
<rect x="90.80" y="211.20" width="4.80" height="4.65" fill="#21a685"/>
<rect x="95.30" y="211.20" width="4.80" height="4.65" fill="#21918c"/>
<rect x="99.80" y="211.20" width="4.80" height="4.65" fill="#2f6c8e"/>
<rect x="104.30" y="211.20" width="4.80" height="4.65" fill="#287c8e"/>
<rect x="108.80" y="211.20" width="4.80" height="4.65" fill="#38588c"/>
<rect x="149.30" y="211.20" width="4.80" height="4.65" fill="#440154"/>
<rect x="54.80" y="215.55" width="4.80" height="4.65" fill="#482979"/>
<rect x="59.30" y="215.55" width="4.80" height="4.65" fill="#482979"/>
<rect x="77.30" y="215.55" width="4.80" height="4.65" fill="#423f85"/>
<rect x="90.80" y="215.55" width="4.80" height="4.65" fill="#440154"/>
<rect x="95.30" y="215.55" width="4.80" height="4.65" fill="#440154"/>
<rect x="90.80" y="219.90" width="4.80" height="4.65" fill="#440154"/>
<rect x="113.30" y="224.25" width="4.80" height="4.65" fill="#440154"/>
</g>
<path d="M93.4,214.3 L92.3,214.3 L92.1,214.2 L91.1,214.2 L90.0,214.1 L88.9,214.0 L87.8,213.9 L86.7,213.8 L85.6,213.7 L84.5,213.6 L83.4,213.5 L82.3,213.5 L81.2,213.5 L80.1,213.4 L79.0,213.3 L78.5,213.2 L77.8,212.8 L76.8,212.1 L76.7,212.1 L75.6,211.3 L75.4,211.0 L74.6,210.0 L74.5,209.7 L74.3,208.9 L74.5,208.5 L75.1,207.8 L75.6,207.0 L75.9,206.7 L76.7,205.7 L76.7,205.6 L77.4,204.6 L77.8,204.2 L78.6,203.5 L79.0,203.2 L79.7,202.5 L80.1,202.1 L80.8,201.4 L81.2,200.9 L81.6,200.3 L82.3,199.7 L82.7,199.3 L83.4,198.4 L83.6,198.2 L84.5,197.2 L84.5,197.1 L85.6,196.0 L85.6,196.0 L86.6,195.0 L86.7,194.8 L87.5,193.9 L87.8,193.6 L88.5,192.8 L88.9,192.3 L89.4,191.8 L90.0,191.2 L90.6,190.7 L91.1,190.2 L91.9,189.6 L92.3,189.3 L93.2,188.5 L93.4,188.4 L94.5,187.7 L94.8,187.5 L95.6,187.0 L96.7,186.5 L96.8,186.4 L97.8,186.0 L98.9,185.5 L99.3,185.3 L100.0,185.1 L101.1,184.6 L102.1,184.3 L102.2,184.2 L103.3,183.6 L104.1,183.2 L104.4,183.0 L105.6,182.5 L106.3,182.1 L106.7,181.9 L107.8,181.2 L107.9,181.1 L108.9,180.3 L109.3,180.0 L110.0,179.4 L110.6,178.9 L111.1,178.4 L111.8,177.8 L112.2,177.4 L113.0,176.8 L113.3,176.5 L114.2,175.7 L114.4,175.5 L115.5,174.6 L115.5,174.6 L116.5,173.6 L116.6,173.4 L117.4,172.5 L117.7,172.1 L118.4,171.4 L118.9,170.9 L119.3,170.3 L120.0,169.6 L120.3,169.3 L121.1,168.5 L121.4,168.2 L122.2,167.4 L122.5,167.1 L123.3,166.5 L123.8,166.1 L124.4,165.7 L125.3,165.0 L125.5,164.8 L126.6,164.0 L126.8,163.9 L127.7,163.3 L128.4,162.8 L128.8,162.6 L129.9,161.8 L129.9,161.7 L131.0,160.9 L131.3,160.7 L132.2,160.1 L132.9,159.6 L133.3,159.4 L134.4,158.7 L134.5,158.6 L135.5,157.9 L136.1,157.5 L136.6,157.1 L137.6,156.4 L137.7,156.4 L138.8,155.6 L139.2,155.4 L139.9,154.8 L140.7,154.3 L141.0,154.1 L142.1,153.3 L142.2,153.2 L143.2,152.4 L143.5,152.1 L144.3,151.4 L144.7,151.1 L145.5,150.4 L145.9,150.0 L146.6,149.4 L147.1,148.9 L147.7,148.4 L148.3,147.9 L148.8,147.3 L149.2,146.8 L149.9,146.1 L150.3,145.7 L151.0,145.1 L151.5,144.6 L152.1,144.1 L152.8,143.6 L153.2,143.2 L154.3,142.5 L154.3,142.5 L155.4,141.7 L155.9,141.4 L156.5,141.0 L157.3,140.4 L157.6,140.1 L158.6,139.3 L158.8,139.2 L159.7,138.2 L159.9,138.1 L160.9,137.1 L161.0,137.1 L162.0,136.1 L162.1,136.0 L163.1,135.0 L163.2,134.8 L163.9,133.9 L164.3,133.6 L165.0,132.9 L165.4,132.4 L166.1,131.8 L166.5,131.4 L167.2,130.7 L167.6,130.4 L168.7,129.7 L168.8,129.7 L169.8,129.0 L170.4,128.6 L170.9,128.1 L171.7,127.5 L172.1,127.2 L172.9,126.4 L173.2,126.2 L174.1,125.4 L174.3,125.2 L175.4,124.3 L175.4,124.3 L176.5,123.3 L176.6,123.2 L177.6,122.3 L177.8,122.2 L178.7,121.2 L178.9,121.1 L179.8,120.3 L180.2,120.0 L180.9,119.4 L181.5,118.9 L182.0,118.5 L182.8,117.9 L183.1,117.6 L184.0,116.8 L184.2,116.6 L185.3,115.7 L185.4,115.7 L186.5,114.9 L186.7,114.7 L187.6,114.1 L188.3,113.6 L188.7,113.4 L189.8,112.7 L190.1,112.5 L190.9,112.1 L192.0,111.5 L192.0,111.5 L193.1,110.7 L193.6,110.4 L194.2,109.9 L194.9,109.3 L195.3,108.8 L195.9,108.2 L196.4,107.7 L197.0,107.2 L197.5,106.6 L198.1,106.1 L198.7,105.6 L199.2,105.0 L199.8,104.5 L200.3,104.0 L200.9,103.5 L201.7,102.9 L202.0,102.7 L203.1,102.0 L203.4,101.8 L204.2,101.3 L205.1,100.7 L205.3,100.6 L206.4,100.1 L207.2,99.7 L207.5,99.5 L208.6,99.0 L209.5,98.6 L209.7,98.5 L210.8,98.0 L211.7,97.5 L212.0,97.4 L213.1,96.7 L213.4,96.5 L214.2,95.9 L215.0,95.4 L215.3,95.2 L216.4,94.5 L216.7,94.3 L217.5,93.8 L218.2,93.2 L218.6,93.0 L219.7,92.2 L219.7,92.2 L220.8,91.5 L221.4,91.1 L221.9,90.8 L223.0,90.1 L223.2,90.0 L224.1,89.5 L225.1,89.0 L225.3,88.9 L226.4,88.2 L226.7,87.9 L227.5,87.4 L228.4,86.8 L228.6,86.7 L229.7,86.2 L230.6,85.8 L230.8,85.7 L231.9,85.0 L232.6,84.7 L233.0,84.5 L234.1,84.1 L235.2,83.6 L235.3,83.6 L236.3,83.2 L237.4,82.9 L238.6,83.0 L239.7,83.2 L240.8,83.3 L241.9,83.6 L241.9,83.6 L242.9,84.7 L243.0,84.7 L243.9,85.8 L244.1,86.0 L244.7,86.8 L244.8,87.9 L244.3,89.0 L244.1,89.5 L243.9,90.0 L243.5,91.1 L243.0,91.8 L242.8,92.2 L241.9,93.1 L241.8,93.2 L240.8,94.3 L240.7,94.3 L239.8,95.4 L239.7,95.6 L238.9,96.5 L238.6,96.9 L238.0,97.5 L237.4,98.2 L237.1,98.6 L236.3,99.5 L236.2,99.7 L235.3,100.7 L235.2,100.9 L234.4,101.8 L234.1,102.2 L233.6,102.9 L233.0,103.6 L232.7,104.0 L231.9,105.0 L231.8,105.0 L230.8,106.1 L230.8,106.1 L229.7,107.2 L229.7,107.2 L228.6,108.2 L228.5,108.2 L227.5,108.9 L226.7,109.3 L226.4,109.5 L225.3,110.0 L224.5,110.4 L224.1,110.5 L223.0,111.2 L222.6,111.5 L221.9,112.0 L221.2,112.5 L220.8,112.9 L220.0,113.6 L219.7,113.9 L218.9,114.7 L218.6,114.9 L217.8,115.7 L217.5,116.0 L216.7,116.8 L216.4,117.1 L215.7,117.9 L215.3,118.2 L214.2,118.9 L214.2,118.9 L213.1,119.6 L212.4,120.0 L212.0,120.3 L210.8,120.9 L210.6,121.1 L209.7,121.6 L208.9,122.2 L208.6,122.3 L207.5,123.0 L207.2,123.2 L206.4,123.8 L205.8,124.3 L205.3,124.7 L204.6,125.4 L204.2,125.8 L203.6,126.4 L203.1,127.0 L202.6,127.5 L202.0,128.1 L201.5,128.6 L200.9,129.2 L200.4,129.7 L199.8,130.3 L199.4,130.7 L198.7,131.6 L198.5,131.8 L197.5,132.8 L197.5,132.9 L196.5,133.9 L196.4,134.1 L195.6,135.0 L195.3,135.3 L194.6,136.1 L194.2,136.5 L193.6,137.1 L193.1,137.7 L192.7,138.2 L192.0,139.0 L191.7,139.3 L190.9,140.2 L190.7,140.4 L189.8,141.4 L189.8,141.4 L188.9,142.5 L188.7,142.7 L188.0,143.6 L187.6,144.1 L187.1,144.6 L186.5,145.4 L186.2,145.7 L185.4,146.8 L185.3,146.8 L184.5,147.9 L184.2,148.2 L183.7,148.9 L183.1,149.7 L182.8,150.0 L182.0,150.9 L181.9,151.1 L181.0,152.1 L180.9,152.2 L180.0,153.2 L179.8,153.4 L178.9,154.3 L178.7,154.5 L177.8,155.4 L177.6,155.6 L176.8,156.4 L176.5,156.8 L175.8,157.5 L175.4,157.9 L174.7,158.6 L174.3,159.0 L173.6,159.6 L173.2,160.1 L172.6,160.7 L172.1,161.2 L171.5,161.8 L170.9,162.3 L170.4,162.8 L169.8,163.4 L169.3,163.9 L168.7,164.5 L168.3,165.0 L167.6,165.8 L167.4,166.1 L166.5,167.0 L166.4,167.1 L165.4,168.2 L165.4,168.2 L164.4,169.3 L164.3,169.4 L163.5,170.3 L163.2,170.6 L162.5,171.4 L162.1,171.9 L161.5,172.5 L161.0,173.1 L160.6,173.6 L159.9,174.4 L159.7,174.6 L158.8,175.7 L158.8,175.7 L157.9,176.8 L157.6,177.0 L157.0,177.8 L156.5,178.4 L156.1,178.9 L155.4,179.7 L155.2,180.0 L154.3,181.0 L154.3,181.1 L153.4,182.1 L153.2,182.3 L152.5,183.2 L152.1,183.7 L151.6,184.3 L151.0,185.0 L150.7,185.3 L149.9,186.2 L149.7,186.4 L148.8,187.5 L148.8,187.5 L147.9,188.5 L147.7,188.8 L146.9,189.6 L146.6,190.0 L145.9,190.7 L145.5,191.2 L144.9,191.8 L144.3,192.2 L143.6,192.8 L143.2,193.1 L142.2,193.9 L142.1,194.0 L141.0,194.9 L140.9,195.0 L139.9,195.8 L139.6,196.0 L138.8,196.7 L138.3,197.1 L137.7,197.6 L137.0,198.2 L136.6,198.5 L135.7,199.3 L135.5,199.5 L134.6,200.3 L134.4,200.5 L133.3,201.4 L133.2,201.4 L132.2,202.1 L131.6,202.5 L131.0,202.8 L130.0,203.5 L129.9,203.6 L128.8,204.3 L128.3,204.6 L127.7,204.9 L126.6,205.4 L126.0,205.7 L125.5,205.9 L124.4,206.3 L123.3,206.7 L123.0,206.7 L122.2,207.0 L121.1,207.4 L120.0,207.7 L119.7,207.8 L118.9,208.1 L117.7,208.5 L116.6,208.9 L116.6,208.9 L115.5,209.2 L114.4,209.6 L113.6,210.0 L113.3,210.1 L112.2,210.5 L111.1,211.0 L110.8,211.0 L110.0,211.3 L108.9,211.6 L107.8,212.0 L107.4,212.1 L106.7,212.3 L105.6,212.5 L104.4,212.7 L103.3,212.9 L102.2,213.1 L101.6,213.2 L101.1,213.3 L100.0,213.5 L98.9,213.6 L97.8,213.9 L96.7,214.0 L95.6,214.1 L94.5,214.2 L94.0,214.2 L93.4,214.3" fill="none" stroke="#ffffff" stroke-opacity="0.9" stroke-width="1.0"/>
<path d="M103.3,208.9 L102.2,209.1 L101.1,209.1 L100.0,209.2 L98.9,209.2 L97.8,209.3 L96.7,209.3 L95.6,209.3 L94.5,209.2 L93.4,209.2 L92.3,209.0 L91.7,208.9 L91.2,207.8 L91.1,207.7 L90.7,206.7 L90.4,205.7 L90.2,204.6 L90.9,203.5 L91.1,203.1 L91.5,202.5 L92.0,201.4 L92.3,200.9 L92.5,200.3 L93.3,199.3 L93.4,199.2 L94.1,198.2 L94.5,197.6 L94.8,197.1 L95.4,196.0 L95.6,195.8 L96.4,195.0 L96.7,194.7 L97.5,193.9 L97.8,193.6 L98.6,192.8 L98.9,192.5 L99.7,191.8 L100.0,191.5 L101.1,190.8 L101.3,190.7 L102.2,190.0 L102.8,189.6 L103.3,189.2 L104.2,188.5 L104.4,188.4 L105.5,187.5 L105.6,187.4 L106.7,186.8 L107.3,186.4 L107.8,186.1 L108.9,185.4 L109.0,185.3 L110.0,184.6 L110.4,184.3 L111.1,183.6 L111.6,183.2 L112.2,182.8 L113.1,182.1 L113.3,182.0 L114.4,181.1 L114.5,181.1 L115.5,180.1 L115.7,180.0 L116.6,179.3 L117.1,178.9 L117.7,178.4 L118.4,177.8 L118.9,177.4 L119.6,176.8 L120.0,176.4 L120.8,175.7 L121.1,175.5 L122.0,174.6 L122.2,174.5 L123.2,173.6 L123.3,173.4 L124.3,172.5 L124.4,172.4 L125.5,171.5 L125.6,171.4 L126.6,170.5 L126.8,170.3 L127.7,169.6 L128.1,169.3 L128.8,168.7 L129.4,168.2 L129.9,167.8 L130.8,167.1 L131.0,166.9 L132.0,166.1 L132.2,166.0 L133.3,165.0 L133.3,165.0 L134.4,164.3 L134.9,163.9 L135.5,163.5 L136.3,162.8 L136.6,162.6 L137.6,161.8 L137.7,161.7 L138.8,160.9 L139.1,160.7 L139.9,160.2 L140.8,159.6 L141.0,159.5 L142.1,158.7 L142.4,158.6 L143.2,157.9 L143.8,157.5 L144.3,157.1 L145.2,156.4 L145.5,156.2 L146.6,155.4 L146.6,155.4 L147.7,154.6 L148.0,154.3 L148.8,153.7 L149.3,153.2 L149.9,152.7 L150.5,152.1 L151.0,151.7 L151.7,151.1 L152.1,150.7 L153.0,150.0 L153.2,149.8 L154.2,148.9 L154.3,148.8 L155.3,147.9 L155.4,147.7 L156.5,146.8 L156.6,146.8 L157.6,146.0 L158.0,145.7 L158.8,145.1 L159.3,144.6 L159.9,144.1 L160.5,143.6 L161.0,143.2 L162.0,142.5 L162.1,142.5 L163.2,141.6 L163.4,141.4 L164.3,140.7 L164.6,140.4 L165.4,139.6 L165.8,139.3 L166.5,138.7 L167.1,138.2 L167.6,137.8 L168.3,137.1 L168.7,136.7 L169.3,136.1 L169.8,135.5 L170.5,135.0 L170.9,134.7 L171.9,133.9 L172.1,133.8 L173.1,132.9 L173.2,132.8 L174.3,131.8 L174.3,131.8 L175.4,130.8 L175.5,130.7 L176.5,130.0 L176.9,129.7 L177.6,129.0 L178.1,128.6 L178.7,128.0 L179.4,127.5 L179.8,127.2 L180.7,126.4 L180.9,126.3 L182.0,125.5 L182.2,125.4 L183.1,124.7 L183.9,124.3 L184.2,124.1 L185.4,123.4 L185.5,123.2 L186.5,122.4 L186.8,122.2 L187.6,121.5 L188.4,121.1 L188.7,120.9 L189.8,120.2 L190.1,120.0 L190.9,119.4 L191.4,118.9 L192.0,118.3 L192.6,117.9 L193.1,117.7 L194.2,117.1 L194.7,116.8 L195.3,116.5 L196.4,115.7 L196.4,115.7 L197.5,115.2 L198.4,114.7 L198.7,114.5 L199.5,113.6 L199.8,113.4 L200.7,112.5 L200.9,112.4 L202.0,111.9 L203.0,111.5 L203.1,111.4 L204.2,110.5 L204.4,110.4 L205.1,109.3 L205.3,109.2 L206.4,108.8 L207.5,108.6 L208.6,108.3 L208.7,108.2 L209.7,107.9 L210.8,108.2 L210.8,108.3 L211.1,109.3 L210.8,109.7 L210.3,110.4 L209.8,111.5 L209.7,111.6 L209.2,112.5 L208.6,113.3 L208.5,113.6 L207.5,114.3 L207.0,114.7 L206.4,115.3 L206.0,115.7 L205.3,116.6 L205.1,116.8 L204.2,117.7 L204.0,117.9 L203.1,118.5 L202.6,118.9 L202.0,119.6 L201.6,120.0 L200.9,121.1 L200.9,121.2 L200.1,122.2 L199.8,122.4 L198.9,123.2 L198.7,123.5 L198.1,124.3 L197.5,125.2 L197.5,125.4 L196.9,126.4 L196.4,127.0 L195.6,127.5 L195.3,127.8 L194.5,128.6 L194.2,128.9 L193.7,129.7 L193.1,130.7 L193.1,130.7 L192.1,131.8 L192.0,131.9 L190.9,132.8 L190.9,132.9 L189.9,133.9 L189.8,134.1 L189.2,135.0 L188.7,135.6 L188.3,136.1 L187.6,137.0 L187.4,137.1 L186.5,138.1 L186.4,138.2 L185.6,139.3 L185.4,139.6 L184.7,140.4 L184.2,141.0 L183.9,141.4 L183.2,142.5 L183.1,142.6 L182.3,143.6 L182.0,143.9 L181.3,144.6 L180.9,145.1 L180.4,145.7 L179.8,146.4 L179.5,146.8 L178.8,147.9 L178.7,148.0 L177.8,148.9 L177.6,149.1 L176.7,150.0 L176.5,150.2 L175.8,151.1 L175.4,151.5 L174.9,152.1 L174.3,152.9 L173.9,153.2 L173.2,153.9 L172.8,154.3 L172.1,155.0 L171.8,155.4 L170.9,156.4 L170.9,156.4 L169.9,157.5 L169.8,157.6 L168.8,158.6 L168.7,158.6 L167.8,159.6 L167.6,159.8 L166.9,160.7 L166.5,161.1 L166.0,161.8 L165.4,162.5 L165.0,162.8 L164.3,163.6 L164.0,163.9 L163.2,164.9 L163.1,165.0 L162.2,166.1 L162.1,166.2 L161.3,167.1 L161.0,167.5 L160.3,168.2 L159.9,168.7 L159.4,169.3 L158.8,169.9 L158.4,170.3 L157.6,171.1 L157.4,171.4 L156.5,172.5 L156.5,172.5 L155.6,173.6 L155.4,173.7 L154.6,174.6 L154.3,174.9 L153.5,175.7 L153.2,176.1 L152.6,176.8 L152.1,177.4 L151.8,177.8 L151.0,178.8 L150.8,178.9 L149.9,179.8 L149.7,180.0 L148.8,180.9 L148.7,181.1 L147.8,182.1 L147.7,182.2 L146.8,183.2 L146.6,183.4 L145.6,184.3 L145.5,184.4 L144.6,185.3 L144.3,185.6 L143.6,186.4 L143.2,186.8 L142.6,187.5 L142.1,187.9 L141.4,188.5 L141.0,188.9 L140.2,189.6 L139.9,189.9 L139.0,190.7 L138.8,190.9 L137.9,191.8 L137.7,191.9 L136.6,192.8 L136.5,192.8 L135.5,193.7 L135.3,193.9 L134.4,194.8 L134.2,195.0 L133.3,196.0 L133.2,196.0 L132.2,196.7 L131.5,197.1 L131.0,197.4 L130.0,198.2 L129.9,198.3 L128.8,199.1 L128.6,199.3 L127.7,199.8 L126.9,200.3 L126.6,200.5 L125.5,201.1 L124.8,201.4 L124.4,201.6 L123.3,202.0 L122.2,202.5 L122.2,202.5 L121.1,202.9 L120.0,203.4 L119.7,203.5 L118.9,203.9 L117.7,204.3 L117.1,204.6 L116.6,204.7 L115.5,205.1 L114.4,205.4 L113.6,205.7 L113.3,205.8 L112.2,206.2 L111.1,206.6 L110.6,206.7 L110.0,207.0 L108.9,207.3 L107.8,207.8 L107.6,207.8 L106.7,208.3 L105.6,208.5 L104.4,208.7 L103.6,208.9 L103.3,208.9" fill="none" stroke="#ffffff" stroke-opacity="0.9" stroke-width="1.0"/>
<path d="M106.7,201.4 L106.5,201.4 L105.6,201.0 L104.5,200.3 L104.9,199.3 L105.2,198.2 L105.4,197.1 L105.6,196.2 L105.6,196.0 L106.6,195.0 L106.7,194.9 L107.6,193.9 L107.8,193.7 L108.4,192.8 L108.9,192.1 L109.0,191.8 L110.0,190.9 L110.2,190.7 L111.1,189.9 L111.4,189.6 L112.2,189.0 L112.7,188.5 L113.3,187.9 L113.6,187.5 L114.4,186.9 L115.0,186.4 L115.5,186.0 L116.6,185.3 L116.6,185.3 L117.7,184.4 L117.9,184.3 L118.9,183.3 L119.0,183.2 L120.0,182.4 L120.4,182.1 L121.1,181.6 L121.9,181.1 L122.2,180.8 L123.1,180.0 L123.3,179.8 L124.1,178.9 L124.4,178.6 L125.4,177.8 L125.5,177.8 L126.6,177.0 L126.9,176.8 L127.7,176.0 L128.0,175.7 L128.8,174.8 L129.1,174.6 L129.9,174.0 L130.4,173.6 L131.0,173.1 L131.8,172.5 L132.2,172.2 L133.0,171.4 L133.3,171.1 L134.2,170.3 L134.4,170.2 L135.5,169.4 L135.6,169.3 L136.6,168.6 L137.1,168.2 L137.7,167.7 L138.4,167.1 L138.8,166.8 L139.8,166.1 L139.9,166.0 L141.0,165.1 L141.2,165.0 L142.1,164.3 L142.8,163.9 L143.2,163.6 L144.3,162.9 L144.4,162.8 L145.5,162.0 L145.6,161.8 L146.6,161.0 L146.9,160.7 L147.7,160.2 L148.7,159.6 L148.8,159.6 L149.9,158.7 L150.0,158.6 L151.0,157.5 L151.1,157.5 L152.1,156.6 L152.4,156.4 L153.2,156.0 L154.1,155.4 L154.3,155.2 L155.4,154.3 L155.4,154.2 L156.5,153.2 L156.5,153.2 L157.6,152.5 L158.1,152.1 L158.8,151.8 L159.7,151.1 L159.9,150.9 L161.0,150.2 L161.4,150.0 L162.1,149.6 L163.0,148.9 L163.2,148.8 L164.1,147.9 L164.3,147.8 L165.4,147.1 L166.5,146.9 L166.9,146.8 L167.6,146.5 L168.7,145.7 L168.7,145.7 L169.7,144.6 L169.8,144.5 L170.1,144.6 L170.6,145.7 L170.7,146.8 L170.8,147.9 L170.0,148.9 L169.8,149.2 L168.8,150.0 L168.7,150.1 L167.9,151.1 L167.6,151.7 L167.5,152.1 L166.6,153.2 L166.5,153.3 L165.7,154.3 L165.4,154.8 L165.0,155.4 L164.4,156.4 L164.3,156.5 L163.3,157.5 L163.2,157.6 L162.3,158.6 L162.1,158.9 L161.6,159.6 L161.0,160.7 L161.0,160.8 L160.1,161.8 L159.9,162.0 L158.9,162.8 L158.8,163.0 L158.0,163.9 L157.6,164.4 L157.3,165.0 L156.5,166.0 L156.5,166.1 L155.4,167.1 L155.4,167.1 L154.3,168.2 L154.3,168.2 L153.4,169.3 L153.2,169.5 L152.6,170.3 L152.1,170.8 L151.5,171.4 L151.0,172.0 L150.4,172.5 L149.9,173.1 L149.5,173.6 L148.8,174.4 L148.6,174.6 L147.7,175.6 L147.6,175.7 L146.6,176.8 L146.6,176.8 L145.5,177.8 L145.5,177.9 L144.5,178.9 L144.3,179.0 L143.4,180.0 L143.2,180.1 L142.3,181.1 L142.1,181.2 L141.2,182.1 L141.0,182.3 L140.2,183.2 L139.9,183.4 L139.0,184.3 L138.8,184.4 L137.8,185.3 L137.7,185.5 L136.6,186.4 L136.6,186.4 L135.5,187.4 L135.4,187.5 L134.4,188.4 L134.1,188.5 L133.3,189.3 L132.9,189.6 L132.2,190.2 L131.6,190.7 L131.0,191.2 L130.4,191.8 L129.9,192.2 L129.1,192.8 L128.8,193.0 L127.7,193.7 L127.4,193.9 L126.6,194.5 L126.0,195.0 L125.5,195.3 L124.6,196.0 L124.4,196.2 L123.3,196.6 L122.2,197.0 L122.0,197.1 L121.1,197.5 L120.0,198.1 L119.6,198.2 L118.9,198.4 L117.7,198.9 L116.8,199.3 L116.6,199.4 L115.5,200.0 L114.5,200.3 L114.4,200.3 L113.3,200.6 L112.2,200.8 L111.1,201.2 L110.0,201.2 L108.9,201.3 L107.8,201.3 L107.1,201.4 L106.7,201.4" fill="none" stroke="#ffffff" stroke-opacity="0.9" stroke-width="1.0"/>
<line x1="39.50" y1="267.90" x2="262.70" y2="60.30" stroke="#2a2a2a" stroke-width="1.1" stroke-dasharray="3.2,2.2"/>
<rect x="39.50" y="18.90" width="223.20" height="41.40" fill="none" stroke="#808080" stroke-width="1"/>
<rect x="262.70" y="60.30" width="50.70" height="207.60" fill="none" stroke="#808080" stroke-width="1"/>
<rect x="39.50" y="60.30" width="223.20" height="207.60" fill="none" stroke="#808080" stroke-width="1"/>
<line x1="41.80" y1="267.90" x2="41.80" y2="270.40" stroke="#808080" stroke-width="0.8"/>
<line x1="41.80" y1="60.30" x2="41.80" y2="62.30" stroke="#808080" stroke-width="0.8"/>
<text x="41.8" y="280.4" font-family='"Liberation Serif", serif' font-size="13" text-anchor="middle" fill="#1e1e1e" stroke="#1e1e1e" stroke-width="0.29" style="" textLength="6.8" lengthAdjust="spacingAndGlyphs">7</text>
<line x1="99.17" y1="267.90" x2="99.17" y2="270.40" stroke="#808080" stroke-width="0.8"/>
<line x1="99.17" y1="60.30" x2="99.17" y2="62.30" stroke="#808080" stroke-width="0.8"/>
<text x="99.2" y="280.4" font-family='"Liberation Serif", serif' font-size="13" text-anchor="middle" fill="#1e1e1e" stroke="#1e1e1e" stroke-width="0.29" style="" textLength="6.8" lengthAdjust="spacingAndGlyphs">8</text>
<line x1="156.55" y1="267.90" x2="156.55" y2="270.40" stroke="#808080" stroke-width="0.8"/>
<line x1="156.55" y1="60.30" x2="156.55" y2="62.30" stroke="#808080" stroke-width="0.8"/>
<text x="156.6" y="280.4" font-family='"Liberation Serif", serif' font-size="13" text-anchor="middle" fill="#1e1e1e" stroke="#1e1e1e" stroke-width="0.29" style="" textLength="6.8" lengthAdjust="spacingAndGlyphs">9</text>
<line x1="213.93" y1="267.90" x2="213.93" y2="270.40" stroke="#808080" stroke-width="0.8"/>
<line x1="213.93" y1="60.30" x2="213.93" y2="62.30" stroke="#808080" stroke-width="0.8"/>
<text x="213.9" y="280.4" font-family='"Liberation Serif", serif' font-size="13" text-anchor="middle" fill="#1e1e1e" stroke="#1e1e1e" stroke-width="0.29" style="" textLength="14.5" lengthAdjust="spacingAndGlyphs">10</text>
<line x1="37.00" y1="265.24" x2="39.50" y2="265.24" stroke="#808080" stroke-width="0.8"/>
<text x="34.8" y="269.6" font-family='"Liberation Serif", serif' font-size="13" text-anchor="end" fill="#1e1e1e" stroke="#1e1e1e" stroke-width="0.29" style="" textLength="6.8" lengthAdjust="spacingAndGlyphs">7</text>
<line x1="37.00" y1="212.01" x2="39.50" y2="212.01" stroke="#808080" stroke-width="0.8"/>
<text x="34.8" y="216.4" font-family='"Liberation Serif", serif' font-size="13" text-anchor="end" fill="#1e1e1e" stroke="#1e1e1e" stroke-width="0.29" style="" textLength="6.8" lengthAdjust="spacingAndGlyphs">8</text>
<line x1="37.00" y1="158.78" x2="39.50" y2="158.78" stroke="#808080" stroke-width="0.8"/>
<text x="34.8" y="163.2" font-family='"Liberation Serif", serif' font-size="13" text-anchor="end" fill="#1e1e1e" stroke="#1e1e1e" stroke-width="0.29" style="" textLength="6.8" lengthAdjust="spacingAndGlyphs">9</text>
<line x1="37.00" y1="105.55" x2="39.50" y2="105.55" stroke="#808080" stroke-width="0.8"/>
<text x="34.8" y="109.9" font-family='"Liberation Serif", serif' font-size="13" text-anchor="end" fill="#1e1e1e" stroke="#1e1e1e" stroke-width="0.29" style="" textLength="14.5" lengthAdjust="spacingAndGlyphs">10</text>
<line x1="37.00" y1="36.60" x2="39.50" y2="36.60" stroke="#808080" stroke-width="0.8"/>
<line x1="37.00" y1="58.30" x2="39.50" y2="58.30" stroke="#808080" stroke-width="0.8"/>
<line x1="260.50" y1="238.70" x2="262.70" y2="238.70" stroke="#808080" stroke-width="0.8"/>
<line x1="260.50" y1="212.10" x2="262.70" y2="212.10" stroke="#808080" stroke-width="0.8"/>
<line x1="260.50" y1="185.50" x2="262.70" y2="185.50" stroke="#808080" stroke-width="0.8"/>
<line x1="260.50" y1="158.80" x2="262.70" y2="158.80" stroke="#808080" stroke-width="0.8"/>
<line x1="260.50" y1="132.20" x2="262.70" y2="132.20" stroke="#808080" stroke-width="0.8"/>
<line x1="260.50" y1="105.60" x2="262.70" y2="105.60" stroke="#808080" stroke-width="0.8"/>
<line x1="260.50" y1="79.00" x2="262.70" y2="79.00" stroke="#808080" stroke-width="0.8"/>
<line x1="290.90" y1="267.90" x2="290.90" y2="270.40" stroke="#808080" stroke-width="0.8"/>
<path d="M39.5,58.3 C44.3,58.1 59.7,58.2 68.3,57.4 C76.9,56.6 84.5,55.7 91.0,53.7 C97.5,51.7 103.1,48.2 107.6,45.3 C112.1,42.4 115.2,39.7 118.2,36.2 C121.2,32.7 123.8,26.8 125.8,24.1 C127.8,21.4 127.8,20.1 130.3,20.1 C132.8,20.1 137.6,22.8 140.9,24.1 C144.2,25.4 147.5,27.1 150.0,28.0 C152.5,28.9 153.0,27.8 156.0,29.2 C159.0,30.6 164.1,33.8 168.1,36.2 C172.1,38.6 176.1,41.7 180.2,43.8 C184.2,45.9 187.3,47.4 192.4,48.9 C197.5,50.4 203.9,51.6 210.5,52.8 C217.1,54.0 223.1,54.9 231.7,55.9 C240.3,56.9 256.9,58.4 262.0,58.9" fill="none" stroke="#404040" stroke-width="1.15" stroke-dasharray="3.3,1.8"/>
<path d="M262.9,60.0 C263.1,62.4 263.5,69.3 264.2,74.5 C264.9,79.7 265.6,84.1 267.0,91.0 C268.4,97.9 270.1,108.8 272.4,115.7 C274.7,122.6 277.5,126.7 280.6,132.2 C283.7,137.7 287.8,144.6 290.9,148.7 C294.0,152.8 297.1,153.9 299.1,157.0 C301.2,160.1 301.3,163.5 303.2,167.3 C305.1,171.1 309.9,175.5 310.6,179.6 C311.3,183.7 310.6,188.3 307.3,192.0 C304.0,195.7 296.4,198.8 290.9,201.5 C285.4,204.2 278.5,205.9 274.4,208.5 C270.3,211.1 267.9,213.0 266.2,216.8 C264.5,220.6 264.7,222.7 264.2,231.2 C263.7,239.7 263.4,261.8 263.3,267.9" fill="none" stroke="#404040" stroke-width="1.15" stroke-dasharray="4.6,1.4,1.2,1.4"/>
<rect x="43.80" y="64.80" width="140.40" height="14.80" fill="#ffffff" stroke="#dcdcdc" stroke-width="1" rx="2.5"/>
<line x1="46.40" y1="71.70" x2="65.00" y2="71.70" stroke="#333" stroke-width="1.3" stroke-dasharray="3.2,1.6"/>
<text x="72.3" y="74.8" font-family='"Liberation Serif", serif' font-size="11.3" text-anchor="start" fill="#1e1e1e" stroke="#1e1e1e" stroke-width="0.25" style="" textLength="107.8" lengthAdjust="spacingAndGlyphs">Perfect correspondance</text>
<rect x="204.90" y="24.00" width="52.60" height="14.40" fill="#ffffff" stroke="#dcdcdc" stroke-width="1" rx="2.5"/>
<line x1="207.30" y1="30.00" x2="225.40" y2="30.00" stroke="#333" stroke-width="1.3" stroke-dasharray="3.2,1.6"/>
<text x="233.0" y="33.4" font-family='"Liberation Serif", serif' font-size="9.5" text-anchor="start" fill="#1e1e1e" stroke="#1e1e1e" stroke-width="0.21" style="" textLength="20.5" lengthAdjust="spacingAndGlyphs">SAM</text>
<rect x="267.30" y="33.90" width="54.60" height="15.20" fill="#ffffff" stroke="#dcdcdc" stroke-width="1" rx="2.5"/>
<line x1="270.30" y1="40.20" x2="288.20" y2="40.20" stroke="#333" stroke-width="1.3" stroke-dasharray="4.2,1.2,1,1.2"/>
<text x="296.3" y="43.3" font-family='"Liberation Serif", serif' font-size="9.5" text-anchor="start" fill="#1e1e1e" stroke="#1e1e1e" stroke-width="0.21" style="" textLength="21.5" lengthAdjust="spacingAndGlyphs">GNN</text>
<rect x="321.10" y="60.60" width="8.50" height="207.10" fill="url(#vir)"/>
<line x1="329.60" y1="267.70" x2="332.10" y2="267.70" stroke="#444" stroke-width="0.8"/>
<text x="334.6" y="272.3" font-family='"Liberation Serif", serif' font-size="13.5" text-anchor="start" fill="#1e1e1e" stroke="#1e1e1e" stroke-width="0.30" style="" textLength="12.2" lengthAdjust="spacingAndGlyphs">10</text>
<text x="348.9" y="267.9" font-family='"Liberation Serif", serif' font-size="9.45" text-anchor="start" fill="#1e1e1e" stroke="#1e1e1e" stroke-width="0.21" style="" textLength="4.2" lengthAdjust="spacingAndGlyphs">0</text>
<line x1="329.60" y1="243.63" x2="331.00" y2="243.63" stroke="#444" stroke-width="0.6"/>
<line x1="329.60" y1="229.55" x2="331.00" y2="229.55" stroke="#444" stroke-width="0.6"/>
<line x1="329.60" y1="219.56" x2="331.00" y2="219.56" stroke="#444" stroke-width="0.6"/>
<line x1="329.60" y1="211.81" x2="331.00" y2="211.81" stroke="#444" stroke-width="0.6"/>
<line x1="329.60" y1="205.48" x2="331.00" y2="205.48" stroke="#444" stroke-width="0.6"/>
<line x1="329.60" y1="200.12" x2="331.00" y2="200.12" stroke="#444" stroke-width="0.6"/>
<line x1="329.60" y1="195.49" x2="331.00" y2="195.49" stroke="#444" stroke-width="0.6"/>
<line x1="329.60" y1="191.40" x2="331.00" y2="191.40" stroke="#444" stroke-width="0.6"/>
<line x1="329.60" y1="187.74" x2="332.10" y2="187.74" stroke="#444" stroke-width="0.8"/>
<text x="334.6" y="192.3" font-family='"Liberation Serif", serif' font-size="13.5" text-anchor="start" fill="#1e1e1e" stroke="#1e1e1e" stroke-width="0.30" style="" textLength="12.2" lengthAdjust="spacingAndGlyphs">10</text>
<text x="348.9" y="187.9" font-family='"Liberation Serif", serif' font-size="9.45" text-anchor="start" fill="#1e1e1e" stroke="#1e1e1e" stroke-width="0.21" style="" textLength="4.2" lengthAdjust="spacingAndGlyphs">1</text>
<line x1="329.60" y1="163.67" x2="331.00" y2="163.67" stroke="#444" stroke-width="0.6"/>
<line x1="329.60" y1="149.59" x2="331.00" y2="149.59" stroke="#444" stroke-width="0.6"/>
<line x1="329.60" y1="139.60" x2="331.00" y2="139.60" stroke="#444" stroke-width="0.6"/>
<line x1="329.60" y1="131.85" x2="331.00" y2="131.85" stroke="#444" stroke-width="0.6"/>
<line x1="329.60" y1="125.52" x2="331.00" y2="125.52" stroke="#444" stroke-width="0.6"/>
<line x1="329.60" y1="120.16" x2="331.00" y2="120.16" stroke="#444" stroke-width="0.6"/>
<line x1="329.60" y1="115.53" x2="331.00" y2="115.53" stroke="#444" stroke-width="0.6"/>
<line x1="329.60" y1="111.44" x2="331.00" y2="111.44" stroke="#444" stroke-width="0.6"/>
<line x1="329.60" y1="107.78" x2="332.10" y2="107.78" stroke="#444" stroke-width="0.8"/>
<text x="334.6" y="112.4" font-family='"Liberation Serif", serif' font-size="13.5" text-anchor="start" fill="#1e1e1e" stroke="#1e1e1e" stroke-width="0.30" style="" textLength="12.2" lengthAdjust="spacingAndGlyphs">10</text>
<text x="348.9" y="108.0" font-family='"Liberation Serif", serif' font-size="9.45" text-anchor="start" fill="#1e1e1e" stroke="#1e1e1e" stroke-width="0.21" style="" textLength="4.2" lengthAdjust="spacingAndGlyphs">2</text>
<line x1="329.60" y1="83.71" x2="331.00" y2="83.71" stroke="#444" stroke-width="0.6"/>
<line x1="329.60" y1="69.63" x2="331.00" y2="69.63" stroke="#444" stroke-width="0.6"/>
<text x="94.5" y="14.4" font-family='"Liberation Serif", serif' font-size="16" text-anchor="start" fill="#1e1e1e" stroke="#1e1e1e" stroke-width="0.35" style="" textLength="73.4" lengthAdjust="spacingAndGlyphs">SAM-GNN</text>
<text x="174.2" y="14.4" font-family='"Liberation Sans", sans-serif' font-size="15" text-anchor="start" fill="#1e1e1e" stroke="#1e1e1e" stroke-width="0.33" style="font-style:italic;" textLength="11.9" lengthAdjust="spacingAndGlyphs">M</text>
<text x="186.4" y="16.9" font-family='"Liberation Sans", sans-serif' font-size="11" text-anchor="start" fill="#1e1e1e" stroke="#1e1e1e" stroke-width="0.24" style="font-style:italic;" textLength="21.0" lengthAdjust="spacingAndGlyphs">cold</text>
<text x="114.7" y="295.7" font-family='"Liberation Serif", serif' font-size="16" text-anchor="start" fill="#1e1e1e" stroke="#1e1e1e" stroke-width="0.35" style="" textLength="32.7" lengthAdjust="spacingAndGlyphs">SAM</text>
<text x="153.0" y="295.7" font-family='"Liberation Sans", sans-serif' font-size="15" text-anchor="start" fill="#1e1e1e" stroke="#1e1e1e" stroke-width="0.33" style="font-style:italic;" textLength="12.0" lengthAdjust="spacingAndGlyphs">M</text>
<text x="165.3" y="298.2" font-family='"Liberation Sans", sans-serif' font-size="11" text-anchor="start" fill="#1e1e1e" stroke="#1e1e1e" stroke-width="0.24" style="font-style:italic;" textLength="21.0" lengthAdjust="spacingAndGlyphs">cold</text>
<g transform="translate(15.0,0) rotate(-90)">
<text x="-200.7" y="0.0" font-family='"Liberation Serif", serif' font-size="16" text-anchor="start" fill="#1e1e1e" stroke="#1e1e1e" stroke-width="0.35" style="" textLength="35.7" lengthAdjust="spacingAndGlyphs">GNN</text>
<text x="-160.7" y="0.0" font-family='"Liberation Sans", sans-serif' font-size="15" text-anchor="start" fill="#1e1e1e" stroke="#1e1e1e" stroke-width="0.33" style="font-style:italic;" textLength="12.5" lengthAdjust="spacingAndGlyphs">M</text>
<text x="-146.9" y="2.5" font-family='"Liberation Sans", sans-serif' font-size="11" text-anchor="start" fill="#1e1e1e" stroke="#1e1e1e" stroke-width="0.24" style="font-style:italic;" textLength="19.4" lengthAdjust="spacingAndGlyphs">cold</text>
</g>
<text x="140.3" y="226.0" font-family='"Liberation Serif", serif' font-size="14" text-anchor="start" fill="#1e1e1e" stroke="#1e1e1e" stroke-width="0.31" style="" textLength="99.8" lengthAdjust="spacingAndGlyphs">Bias : -0.009 dex</text>
<text x="140.3" y="240.1" font-family='"Liberation Sans", sans-serif' font-size="14" text-anchor="start" fill="#1e1e1e" stroke="#1e1e1e" stroke-width="0.31" style="font-style:italic;">σ</text>
<text x="148.0" y="240.1" font-family='"Liberation Serif", serif' font-size="14" text-anchor="start" fill="#1e1e1e" stroke="#1e1e1e" stroke-width="0.31" style="" textLength="69.6" lengthAdjust="spacingAndGlyphs"> : 0.161 dex</text>
<text x="140.3" y="255.2" font-family='"Liberation Serif", serif' font-size="14" text-anchor="start" fill="#1e1e1e" stroke="#1e1e1e" stroke-width="0.31" style="" textLength="93.1" lengthAdjust="spacingAndGlyphs">Pearson:  0.954</text>
<g shape-rendering="crispEdges">
<rect x="643.80" y="60.30" width="4.80" height="3.30" fill="#440154"/>
<rect x="652.80" y="60.30" width="4.80" height="3.30" fill="#440154"/>
<rect x="630.30" y="63.30" width="4.80" height="4.65" fill="#440154"/>
<rect x="634.80" y="63.30" width="4.80" height="4.65" fill="#440154"/>
<rect x="648.30" y="63.30" width="4.80" height="4.65" fill="#482374"/>
<rect x="445.80" y="67.65" width="4.80" height="4.65" fill="#440154"/>
<rect x="513.30" y="67.65" width="4.80" height="4.65" fill="#440154"/>
<rect x="517.80" y="67.65" width="4.80" height="4.65" fill="#440154"/>
<rect x="621.30" y="67.65" width="4.80" height="4.65" fill="#440154"/>
<rect x="630.30" y="67.65" width="4.80" height="4.65" fill="#440154"/>
<rect x="634.80" y="67.65" width="4.80" height="4.65" fill="#482374"/>
<rect x="639.30" y="67.65" width="4.80" height="4.65" fill="#440154"/>
<rect x="643.80" y="67.65" width="4.80" height="4.65" fill="#31688e"/>
<rect x="648.30" y="67.65" width="4.80" height="4.65" fill="#277f8e"/>
<rect x="652.80" y="67.65" width="4.80" height="4.65" fill="#23888e"/>
<rect x="445.80" y="72.00" width="4.80" height="4.65" fill="#440154"/>
<rect x="571.80" y="72.00" width="4.80" height="4.65" fill="#440154"/>
<rect x="621.30" y="72.00" width="4.80" height="4.65" fill="#482374"/>
<rect x="625.80" y="72.00" width="4.80" height="4.65" fill="#482374"/>
<rect x="630.30" y="72.00" width="4.80" height="4.65" fill="#453581"/>
<rect x="634.80" y="72.00" width="4.80" height="4.65" fill="#2e6e8e"/>
<rect x="639.30" y="72.00" width="4.80" height="4.65" fill="#2b748e"/>
<rect x="643.80" y="72.00" width="4.80" height="4.65" fill="#2a788e"/>
<rect x="648.30" y="72.00" width="4.80" height="4.65" fill="#24868e"/>
<rect x="652.80" y="72.00" width="4.80" height="4.65" fill="#2a768e"/>
<rect x="657.30" y="72.00" width="4.80" height="4.65" fill="#24878e"/>
<rect x="481.80" y="76.35" width="4.80" height="4.65" fill="#440154"/>
<rect x="585.30" y="76.35" width="4.80" height="4.65" fill="#440154"/>
<rect x="621.30" y="76.35" width="4.80" height="4.65" fill="#440154"/>
<rect x="625.80" y="76.35" width="4.80" height="4.65" fill="#482374"/>
<rect x="630.30" y="76.35" width="4.80" height="4.65" fill="#2d708e"/>
<rect x="634.80" y="76.35" width="4.80" height="4.65" fill="#25838e"/>
<rect x="639.30" y="76.35" width="4.80" height="4.65" fill="#218e8d"/>
<rect x="643.80" y="76.35" width="4.80" height="4.65" fill="#228d8d"/>
<rect x="648.30" y="76.35" width="4.80" height="4.65" fill="#26818e"/>
<rect x="652.80" y="76.35" width="4.80" height="4.65" fill="#31688e"/>
<rect x="657.30" y="76.35" width="4.80" height="4.65" fill="#2a788e"/>
<rect x="661.80" y="76.35" width="1.10" height="4.65" fill="#2a768e"/>
<rect x="616.80" y="80.70" width="4.80" height="4.65" fill="#440154"/>
<rect x="621.30" y="80.70" width="4.80" height="4.65" fill="#440154"/>
<rect x="625.80" y="80.70" width="4.80" height="4.65" fill="#34618d"/>
<rect x="630.30" y="80.70" width="4.80" height="4.65" fill="#31688e"/>
<rect x="634.80" y="80.70" width="4.80" height="4.65" fill="#23888e"/>
<rect x="639.30" y="80.70" width="4.80" height="4.65" fill="#20938c"/>
<rect x="643.80" y="80.70" width="4.80" height="4.65" fill="#2b748e"/>
<rect x="648.30" y="80.70" width="4.80" height="4.65" fill="#287c8e"/>
<rect x="652.80" y="80.70" width="4.80" height="4.65" fill="#2a768e"/>
<rect x="657.30" y="80.70" width="4.80" height="4.65" fill="#2c728e"/>
<rect x="661.80" y="80.70" width="1.10" height="4.65" fill="#453581"/>
<rect x="549.30" y="85.05" width="4.80" height="4.65" fill="#440154"/>
<rect x="585.30" y="85.05" width="4.80" height="4.65" fill="#440154"/>
<rect x="598.80" y="85.05" width="4.80" height="4.65" fill="#440154"/>
<rect x="603.30" y="85.05" width="4.80" height="4.65" fill="#440154"/>
<rect x="607.80" y="85.05" width="4.80" height="4.65" fill="#440154"/>
<rect x="612.30" y="85.05" width="4.80" height="4.65" fill="#440154"/>
<rect x="621.30" y="85.05" width="4.80" height="4.65" fill="#2f6b8e"/>
<rect x="625.80" y="85.05" width="4.80" height="4.65" fill="#21908d"/>
<rect x="630.30" y="85.05" width="4.80" height="4.65" fill="#20928c"/>
<rect x="634.80" y="85.05" width="4.80" height="4.65" fill="#23898e"/>
<rect x="639.30" y="85.05" width="4.80" height="4.65" fill="#277e8e"/>
<rect x="643.80" y="85.05" width="4.80" height="4.65" fill="#2d708e"/>
<rect x="648.30" y="85.05" width="4.80" height="4.65" fill="#2a768e"/>
<rect x="652.80" y="85.05" width="4.80" height="4.65" fill="#31688e"/>
<rect x="657.30" y="85.05" width="4.80" height="4.65" fill="#453581"/>
<rect x="661.80" y="85.05" width="1.10" height="4.65" fill="#440154"/>
<rect x="495.30" y="89.40" width="4.80" height="4.65" fill="#440154"/>
<rect x="571.80" y="89.40" width="4.80" height="4.65" fill="#440154"/>
<rect x="589.80" y="89.40" width="4.80" height="4.65" fill="#440154"/>
<rect x="594.30" y="89.40" width="4.80" height="4.65" fill="#440154"/>
<rect x="603.30" y="89.40" width="4.80" height="4.65" fill="#440154"/>
<rect x="607.80" y="89.40" width="4.80" height="4.65" fill="#440154"/>
<rect x="612.30" y="89.40" width="4.80" height="4.65" fill="#453581"/>
<rect x="616.80" y="89.40" width="4.80" height="4.65" fill="#2a768e"/>
<rect x="621.30" y="89.40" width="4.80" height="4.65" fill="#26828e"/>
<rect x="625.80" y="89.40" width="4.80" height="4.65" fill="#21918c"/>
<rect x="630.30" y="89.40" width="4.80" height="4.65" fill="#238a8d"/>
<rect x="634.80" y="89.40" width="4.80" height="4.65" fill="#25838e"/>
<rect x="639.30" y="89.40" width="4.80" height="4.65" fill="#297a8e"/>
<rect x="643.80" y="89.40" width="4.80" height="4.65" fill="#2a788e"/>
<rect x="648.30" y="89.40" width="4.80" height="4.65" fill="#365c8d"/>
<rect x="657.30" y="89.40" width="4.80" height="4.65" fill="#440154"/>
<rect x="439.30" y="93.75" width="2.30" height="4.65" fill="#440154"/>
<rect x="450.30" y="93.75" width="4.80" height="4.65" fill="#440154"/>
<rect x="459.30" y="93.75" width="4.80" height="4.65" fill="#440154"/>
<rect x="486.30" y="93.75" width="4.80" height="4.65" fill="#440154"/>
<rect x="544.80" y="93.75" width="4.80" height="4.65" fill="#440154"/>
<rect x="571.80" y="93.75" width="4.80" height="4.65" fill="#440154"/>
<rect x="580.80" y="93.75" width="4.80" height="4.65" fill="#440154"/>
<rect x="589.80" y="93.75" width="4.80" height="4.65" fill="#440154"/>
<rect x="598.80" y="93.75" width="4.80" height="4.65" fill="#424186"/>
<rect x="603.30" y="93.75" width="4.80" height="4.65" fill="#482374"/>
<rect x="607.80" y="93.75" width="4.80" height="4.65" fill="#424186"/>
<rect x="612.30" y="93.75" width="4.80" height="4.65" fill="#3b518b"/>
<rect x="616.80" y="93.75" width="4.80" height="4.65" fill="#21908d"/>
<rect x="621.30" y="93.75" width="4.80" height="4.65" fill="#1f9f88"/>
<rect x="625.80" y="93.75" width="4.80" height="4.65" fill="#21908d"/>
<rect x="630.30" y="93.75" width="4.80" height="4.65" fill="#2c728e"/>
<rect x="634.80" y="93.75" width="4.80" height="4.65" fill="#31688e"/>
<rect x="639.30" y="93.75" width="4.80" height="4.65" fill="#482374"/>
<rect x="643.80" y="93.75" width="4.80" height="4.65" fill="#453581"/>
<rect x="657.30" y="93.75" width="4.80" height="4.65" fill="#440154"/>
<rect x="576.30" y="98.10" width="4.80" height="4.65" fill="#440154"/>
<rect x="580.80" y="98.10" width="4.80" height="4.65" fill="#440154"/>
<rect x="589.80" y="98.10" width="4.80" height="4.65" fill="#482374"/>
<rect x="598.80" y="98.10" width="4.80" height="4.65" fill="#440154"/>
<rect x="603.30" y="98.10" width="4.80" height="4.65" fill="#34618d"/>
<rect x="607.80" y="98.10" width="4.80" height="4.65" fill="#24868e"/>
<rect x="612.30" y="98.10" width="4.80" height="4.65" fill="#218f8d"/>
<rect x="616.80" y="98.10" width="4.80" height="4.65" fill="#20a486"/>
<rect x="621.30" y="98.10" width="4.80" height="4.65" fill="#218f8d"/>
<rect x="625.80" y="98.10" width="4.80" height="4.65" fill="#2e6e8e"/>
<rect x="630.30" y="98.10" width="4.80" height="4.65" fill="#453581"/>
<rect x="634.80" y="98.10" width="4.80" height="4.65" fill="#440154"/>
<rect x="657.30" y="98.10" width="4.80" height="4.65" fill="#440154"/>
<rect x="594.30" y="102.45" width="4.80" height="4.65" fill="#482374"/>
<rect x="598.80" y="102.45" width="4.80" height="4.65" fill="#2d708e"/>
<rect x="603.30" y="102.45" width="4.80" height="4.65" fill="#1f978b"/>
<rect x="607.80" y="102.45" width="4.80" height="4.65" fill="#1f9e89"/>
<rect x="612.30" y="102.45" width="4.80" height="4.65" fill="#1e9b8a"/>
<rect x="616.80" y="102.45" width="4.80" height="4.65" fill="#228c8d"/>
<rect x="621.30" y="102.45" width="4.80" height="4.65" fill="#365c8d"/>
<rect x="625.80" y="102.45" width="4.80" height="4.65" fill="#3e4a89"/>
<rect x="630.30" y="102.45" width="4.80" height="4.65" fill="#440154"/>
<rect x="585.30" y="106.80" width="4.80" height="4.65" fill="#482374"/>
<rect x="589.80" y="106.80" width="4.80" height="4.65" fill="#453581"/>
<rect x="594.30" y="106.80" width="4.80" height="4.65" fill="#2c728e"/>
<rect x="598.80" y="106.80" width="4.80" height="4.65" fill="#20938c"/>
<rect x="603.30" y="106.80" width="4.80" height="4.65" fill="#21a685"/>
<rect x="607.80" y="106.80" width="4.80" height="4.65" fill="#28ae80"/>
<rect x="612.30" y="106.80" width="4.80" height="4.65" fill="#218e8d"/>
<rect x="616.80" y="106.80" width="4.80" height="4.65" fill="#453581"/>
<rect x="621.30" y="106.80" width="4.80" height="4.65" fill="#482374"/>
<rect x="625.80" y="106.80" width="4.80" height="4.65" fill="#453581"/>
<rect x="580.80" y="111.15" width="4.80" height="4.65" fill="#482374"/>
<rect x="585.30" y="111.15" width="4.80" height="4.65" fill="#482374"/>
<rect x="589.80" y="111.15" width="4.80" height="4.65" fill="#25848e"/>
<rect x="594.30" y="111.15" width="4.80" height="4.65" fill="#1e9d89"/>
<rect x="598.80" y="111.15" width="4.80" height="4.65" fill="#31b57b"/>
<rect x="603.30" y="111.15" width="4.80" height="4.65" fill="#35b779"/>
<rect x="607.80" y="111.15" width="4.80" height="4.65" fill="#25848e"/>
<rect x="612.30" y="111.15" width="4.80" height="4.65" fill="#453581"/>
<rect x="616.80" y="111.15" width="4.80" height="4.65" fill="#440154"/>
<rect x="621.30" y="111.15" width="4.80" height="4.65" fill="#440154"/>
<rect x="576.30" y="115.50" width="4.80" height="4.65" fill="#424186"/>
<rect x="580.80" y="115.50" width="4.80" height="4.65" fill="#3b518b"/>
<rect x="585.30" y="115.50" width="4.80" height="4.65" fill="#26818e"/>
<rect x="589.80" y="115.50" width="4.80" height="4.65" fill="#21a685"/>
<rect x="594.30" y="115.50" width="4.80" height="4.65" fill="#38b977"/>
<rect x="598.80" y="115.50" width="4.80" height="4.65" fill="#3fbc73"/>
<rect x="603.30" y="115.50" width="4.80" height="4.65" fill="#21918c"/>
<rect x="607.80" y="115.50" width="4.80" height="4.65" fill="#482374"/>
<rect x="625.80" y="115.50" width="4.80" height="4.65" fill="#440154"/>
<rect x="571.80" y="119.85" width="4.80" height="4.65" fill="#424186"/>
<rect x="576.30" y="119.85" width="4.80" height="4.65" fill="#424186"/>
<rect x="580.80" y="119.85" width="4.80" height="4.65" fill="#23898e"/>
<rect x="585.30" y="119.85" width="4.80" height="4.65" fill="#25ab82"/>
<rect x="589.80" y="119.85" width="4.80" height="4.65" fill="#38b977"/>
<rect x="594.30" y="119.85" width="4.80" height="4.65" fill="#44bf70"/>
<rect x="598.80" y="119.85" width="4.80" height="4.65" fill="#21908d"/>
<rect x="603.30" y="119.85" width="4.80" height="4.65" fill="#38588c"/>
<rect x="612.30" y="119.85" width="4.80" height="4.65" fill="#440154"/>
<rect x="513.30" y="124.20" width="4.80" height="4.65" fill="#440154"/>
<rect x="562.80" y="124.20" width="4.80" height="4.65" fill="#440154"/>
<rect x="571.80" y="124.20" width="4.80" height="4.65" fill="#453581"/>
<rect x="576.30" y="124.20" width="4.80" height="4.65" fill="#2c728e"/>
<rect x="580.80" y="124.20" width="4.80" height="4.65" fill="#21a685"/>
<rect x="585.30" y="124.20" width="4.80" height="4.65" fill="#54c568"/>
<rect x="589.80" y="124.20" width="4.80" height="4.65" fill="#58c765"/>
<rect x="594.30" y="124.20" width="4.80" height="4.65" fill="#23888e"/>
<rect x="598.80" y="124.20" width="4.80" height="4.65" fill="#440154"/>
<rect x="612.30" y="124.20" width="4.80" height="4.65" fill="#440154"/>
<rect x="522.30" y="128.55" width="4.80" height="4.65" fill="#440154"/>
<rect x="567.30" y="128.55" width="4.80" height="4.65" fill="#440154"/>
<rect x="571.80" y="128.55" width="4.80" height="4.65" fill="#2f6b8e"/>
<rect x="576.30" y="128.55" width="4.80" height="4.65" fill="#24aa83"/>
<rect x="580.80" y="128.55" width="4.80" height="4.65" fill="#5ec962"/>
<rect x="585.30" y="128.55" width="4.80" height="4.65" fill="#6ccd5a"/>
<rect x="589.80" y="128.55" width="4.80" height="4.65" fill="#1f978b"/>
<rect x="594.30" y="128.55" width="4.80" height="4.65" fill="#482374"/>
<rect x="598.80" y="128.55" width="4.80" height="4.65" fill="#482374"/>
<rect x="603.30" y="128.55" width="4.80" height="4.65" fill="#440154"/>
<rect x="558.30" y="132.90" width="4.80" height="4.65" fill="#440154"/>
<rect x="562.80" y="132.90" width="4.80" height="4.65" fill="#3b518b"/>
<rect x="567.30" y="132.90" width="4.80" height="4.65" fill="#365c8d"/>
<rect x="571.80" y="132.90" width="4.80" height="4.65" fill="#20a386"/>
<rect x="576.30" y="132.90" width="4.80" height="4.65" fill="#70cf57"/>
<rect x="580.80" y="132.90" width="4.80" height="4.65" fill="#84d44b"/>
<rect x="585.30" y="132.90" width="4.80" height="4.65" fill="#22a884"/>
<rect x="589.80" y="132.90" width="4.80" height="4.65" fill="#482374"/>
<rect x="594.30" y="132.90" width="4.80" height="4.65" fill="#482374"/>
<rect x="621.30" y="132.90" width="4.80" height="4.65" fill="#440154"/>
<rect x="553.80" y="137.25" width="4.80" height="4.65" fill="#440154"/>
<rect x="558.30" y="137.25" width="4.80" height="4.65" fill="#482374"/>
<rect x="562.80" y="137.25" width="4.80" height="4.65" fill="#2c728e"/>
<rect x="567.30" y="137.25" width="4.80" height="4.65" fill="#29af7f"/>
<rect x="571.80" y="137.25" width="4.80" height="4.65" fill="#8bd646"/>
<rect x="576.30" y="137.25" width="4.80" height="4.65" fill="#a8db34"/>
<rect x="580.80" y="137.25" width="4.80" height="4.65" fill="#40bd72"/>
<rect x="585.30" y="137.25" width="4.80" height="4.65" fill="#2f6b8e"/>
<rect x="589.80" y="137.25" width="4.80" height="4.65" fill="#440154"/>
<rect x="508.80" y="141.60" width="4.80" height="4.65" fill="#440154"/>
<rect x="535.80" y="141.60" width="4.80" height="4.65" fill="#440154"/>
<rect x="553.80" y="141.60" width="4.80" height="4.65" fill="#453581"/>
<rect x="558.30" y="141.60" width="4.80" height="4.65" fill="#2a768e"/>
<rect x="562.80" y="141.60" width="4.80" height="4.65" fill="#31b57b"/>
<rect x="567.30" y="141.60" width="4.80" height="4.65" fill="#a8db34"/>
<rect x="571.80" y="141.60" width="4.80" height="4.65" fill="#bade28"/>
<rect x="576.30" y="141.60" width="4.80" height="4.65" fill="#4cc26c"/>
<rect x="580.80" y="141.60" width="4.80" height="4.65" fill="#26828e"/>
<rect x="585.30" y="141.60" width="4.80" height="4.65" fill="#482374"/>
<rect x="598.80" y="141.60" width="4.80" height="4.65" fill="#440154"/>
<rect x="544.80" y="145.95" width="4.80" height="4.65" fill="#482374"/>
<rect x="553.80" y="145.95" width="4.80" height="4.65" fill="#31688e"/>
<rect x="558.30" y="145.95" width="4.80" height="4.65" fill="#42be71"/>
<rect x="562.80" y="145.95" width="4.80" height="4.65" fill="#b2dd2d"/>
<rect x="567.30" y="145.95" width="4.80" height="4.65" fill="#cae11f"/>
<rect x="571.80" y="145.95" width="4.80" height="4.65" fill="#56c667"/>
<rect x="576.30" y="145.95" width="4.80" height="4.65" fill="#23888e"/>
<rect x="580.80" y="145.95" width="4.80" height="4.65" fill="#482374"/>
<rect x="535.80" y="150.30" width="4.80" height="4.65" fill="#440154"/>
<rect x="540.30" y="150.30" width="4.80" height="4.65" fill="#482374"/>
<rect x="544.80" y="150.30" width="4.80" height="4.65" fill="#453581"/>
<rect x="549.30" y="150.30" width="4.80" height="4.65" fill="#32648e"/>
<rect x="553.80" y="150.30" width="4.80" height="4.65" fill="#38b977"/>
<rect x="558.30" y="150.30" width="4.80" height="4.65" fill="#bade28"/>
<rect x="562.80" y="150.30" width="4.80" height="4.65" fill="#cde11d"/>
<rect x="567.30" y="150.30" width="4.80" height="4.65" fill="#54c568"/>
<rect x="571.80" y="150.30" width="4.80" height="4.65" fill="#24878e"/>
<rect x="576.30" y="150.30" width="4.80" height="4.65" fill="#482374"/>
<rect x="580.80" y="150.30" width="4.80" height="4.65" fill="#440154"/>
<rect x="657.30" y="150.30" width="4.80" height="4.65" fill="#440154"/>
<rect x="526.80" y="154.65" width="4.80" height="4.65" fill="#482374"/>
<rect x="535.80" y="154.65" width="4.80" height="4.65" fill="#424186"/>
<rect x="540.30" y="154.65" width="4.80" height="4.65" fill="#3b518b"/>
<rect x="544.80" y="154.65" width="4.80" height="4.65" fill="#2f6b8e"/>
<rect x="549.30" y="154.65" width="4.80" height="4.65" fill="#3fbc73"/>
<rect x="553.80" y="154.65" width="4.80" height="4.65" fill="#b5de2b"/>
<rect x="558.30" y="154.65" width="4.80" height="4.65" fill="#d0e11c"/>
<rect x="562.80" y="154.65" width="4.80" height="4.65" fill="#44bf70"/>
<rect x="567.30" y="154.65" width="4.80" height="4.65" fill="#277e8e"/>
<rect x="580.80" y="154.65" width="4.80" height="4.65" fill="#440154"/>
<rect x="513.30" y="159.00" width="4.80" height="4.65" fill="#440154"/>
<rect x="517.80" y="159.00" width="4.80" height="4.65" fill="#440154"/>
<rect x="531.30" y="159.00" width="4.80" height="4.65" fill="#440154"/>
<rect x="535.80" y="159.00" width="4.80" height="4.65" fill="#424186"/>
<rect x="540.30" y="159.00" width="4.80" height="4.65" fill="#21908d"/>
<rect x="544.80" y="159.00" width="4.80" height="4.65" fill="#48c16e"/>
<rect x="549.30" y="159.00" width="4.80" height="4.65" fill="#addc30"/>
<rect x="553.80" y="159.00" width="4.80" height="4.65" fill="#bddf26"/>
<rect x="558.30" y="159.00" width="4.80" height="4.65" fill="#3dbc74"/>
<rect x="562.80" y="159.00" width="4.80" height="4.65" fill="#26818e"/>
<rect x="567.30" y="159.00" width="4.80" height="4.65" fill="#440154"/>
<rect x="513.30" y="163.35" width="4.80" height="4.65" fill="#440154"/>
<rect x="517.80" y="163.35" width="4.80" height="4.65" fill="#440154"/>
<rect x="522.30" y="163.35" width="4.80" height="4.65" fill="#424186"/>
<rect x="526.80" y="163.35" width="4.80" height="4.65" fill="#482374"/>
<rect x="531.30" y="163.35" width="4.80" height="4.65" fill="#2a768e"/>
<rect x="535.80" y="163.35" width="4.80" height="4.65" fill="#1f978b"/>
<rect x="540.30" y="163.35" width="4.80" height="4.65" fill="#48c16e"/>
<rect x="544.80" y="163.35" width="4.80" height="4.65" fill="#9dd93b"/>
<rect x="549.30" y="163.35" width="4.80" height="4.65" fill="#93d741"/>
<rect x="553.80" y="163.35" width="4.80" height="4.65" fill="#26ad81"/>
<rect x="558.30" y="163.35" width="4.80" height="4.65" fill="#3e4a89"/>
<rect x="562.80" y="163.35" width="4.80" height="4.65" fill="#440154"/>
<rect x="585.30" y="163.35" width="4.80" height="4.65" fill="#440154"/>
<rect x="504.30" y="167.70" width="4.80" height="4.65" fill="#440154"/>
<rect x="513.30" y="167.70" width="4.80" height="4.65" fill="#440154"/>
<rect x="517.80" y="167.70" width="4.80" height="4.65" fill="#440154"/>
<rect x="526.80" y="167.70" width="4.80" height="4.65" fill="#2a788e"/>
<rect x="531.30" y="167.70" width="4.80" height="4.65" fill="#1fa188"/>
<rect x="535.80" y="167.70" width="4.80" height="4.65" fill="#40bd72"/>
<rect x="540.30" y="167.70" width="4.80" height="4.65" fill="#89d548"/>
<rect x="544.80" y="167.70" width="4.80" height="4.65" fill="#81d34d"/>
<rect x="549.30" y="167.70" width="4.80" height="4.65" fill="#1e9b8a"/>
<rect x="553.80" y="167.70" width="4.80" height="4.65" fill="#424186"/>
<rect x="562.80" y="167.70" width="4.80" height="4.65" fill="#440154"/>
<rect x="634.80" y="167.70" width="4.80" height="4.65" fill="#440154"/>
<rect x="513.30" y="172.05" width="4.80" height="4.65" fill="#482374"/>
<rect x="517.80" y="172.05" width="4.80" height="4.65" fill="#3b518b"/>
<rect x="522.30" y="172.05" width="4.80" height="4.65" fill="#2c728e"/>
<rect x="526.80" y="172.05" width="4.80" height="4.65" fill="#1f9a8a"/>
<rect x="531.30" y="172.05" width="4.80" height="4.65" fill="#3fbc73"/>
<rect x="535.80" y="172.05" width="4.80" height="4.65" fill="#75d054"/>
<rect x="540.30" y="172.05" width="4.80" height="4.65" fill="#63cb5f"/>
<rect x="544.80" y="172.05" width="4.80" height="4.65" fill="#21908d"/>
<rect x="549.30" y="172.05" width="4.80" height="4.65" fill="#440154"/>
<rect x="504.30" y="176.40" width="4.80" height="4.65" fill="#482374"/>
<rect x="508.80" y="176.40" width="4.80" height="4.65" fill="#482374"/>
<rect x="513.30" y="176.40" width="4.80" height="4.65" fill="#482374"/>
<rect x="517.80" y="176.40" width="4.80" height="4.65" fill="#2b748e"/>
<rect x="522.30" y="176.40" width="4.80" height="4.65" fill="#1f9a8a"/>
<rect x="526.80" y="176.40" width="4.80" height="4.65" fill="#2cb17e"/>
<rect x="531.30" y="176.40" width="4.80" height="4.65" fill="#56c667"/>
<rect x="535.80" y="176.40" width="4.80" height="4.65" fill="#2eb37c"/>
<rect x="540.30" y="176.40" width="4.80" height="4.65" fill="#34618d"/>
<rect x="544.80" y="176.40" width="4.80" height="4.65" fill="#440154"/>
<rect x="549.30" y="176.40" width="4.80" height="4.65" fill="#440154"/>
<rect x="504.30" y="180.75" width="4.80" height="4.65" fill="#482374"/>
<rect x="508.80" y="180.75" width="4.80" height="4.65" fill="#424186"/>
<rect x="513.30" y="180.75" width="4.80" height="4.65" fill="#34618d"/>
<rect x="517.80" y="180.75" width="4.80" height="4.65" fill="#20928c"/>
<rect x="522.30" y="180.75" width="4.80" height="4.65" fill="#2ab07f"/>
<rect x="526.80" y="180.75" width="4.80" height="4.65" fill="#3dbc74"/>
<rect x="531.30" y="180.75" width="4.80" height="4.65" fill="#1f978b"/>
<rect x="535.80" y="180.75" width="4.80" height="4.65" fill="#482374"/>
<rect x="540.30" y="180.75" width="4.80" height="4.65" fill="#482374"/>
<rect x="504.30" y="185.10" width="4.80" height="4.65" fill="#440154"/>
<rect x="508.80" y="185.10" width="4.80" height="4.65" fill="#31688e"/>
<rect x="513.30" y="185.10" width="4.80" height="4.65" fill="#24868e"/>
<rect x="517.80" y="185.10" width="4.80" height="4.65" fill="#21a585"/>
<rect x="522.30" y="185.10" width="4.80" height="4.65" fill="#2fb47c"/>
<rect x="526.80" y="185.10" width="4.80" height="4.65" fill="#2e6e8e"/>
<rect x="531.30" y="185.10" width="4.80" height="4.65" fill="#453581"/>
<rect x="535.80" y="185.10" width="4.80" height="4.65" fill="#440154"/>
<rect x="499.80" y="189.45" width="4.80" height="4.65" fill="#440154"/>
<rect x="504.30" y="189.45" width="4.80" height="4.65" fill="#3e4a89"/>
<rect x="508.80" y="189.45" width="4.80" height="4.65" fill="#287c8e"/>
<rect x="513.30" y="189.45" width="4.80" height="4.65" fill="#1f968b"/>
<rect x="517.80" y="189.45" width="4.80" height="4.65" fill="#29af7f"/>
<rect x="522.30" y="189.45" width="4.80" height="4.65" fill="#2d708e"/>
<rect x="526.80" y="189.45" width="4.80" height="4.65" fill="#482374"/>
<rect x="540.30" y="189.45" width="4.80" height="4.65" fill="#440154"/>
<rect x="499.80" y="193.80" width="4.80" height="4.65" fill="#482374"/>
<rect x="504.30" y="193.80" width="4.80" height="4.65" fill="#31688e"/>
<rect x="508.80" y="193.80" width="4.80" height="4.65" fill="#218e8d"/>
<rect x="513.30" y="193.80" width="4.80" height="4.65" fill="#1fa088"/>
<rect x="517.80" y="193.80" width="4.80" height="4.65" fill="#482374"/>
<rect x="522.30" y="193.80" width="4.80" height="4.65" fill="#453581"/>
<rect x="499.80" y="198.15" width="4.80" height="4.65" fill="#3e4a89"/>
<rect x="504.30" y="198.15" width="4.80" height="4.65" fill="#25848e"/>
<rect x="508.80" y="198.15" width="4.80" height="4.65" fill="#38588c"/>
<rect x="513.30" y="198.15" width="4.80" height="4.65" fill="#440154"/>
<rect x="495.30" y="202.50" width="4.80" height="4.65" fill="#440154"/>
<rect x="499.80" y="202.50" width="4.80" height="4.65" fill="#424186"/>
<rect x="499.80" y="206.85" width="4.80" height="4.65" fill="#482374"/>
<rect x="508.80" y="206.85" width="4.80" height="4.65" fill="#440154"/>
</g>
<path d="M515.5,196.3 L514.4,196.5 L513.3,196.6 L512.2,196.8 L511.1,197.1 L510.0,196.7 L508.9,196.0 L509.1,195.0 L509.3,193.9 L509.5,192.8 L509.6,191.8 L510.0,190.8 L510.1,190.7 L510.6,189.6 L511.1,188.5 L511.1,188.5 L511.7,187.5 L512.2,186.7 L512.4,186.4 L513.2,185.3 L513.3,185.2 L514.0,184.3 L514.4,183.7 L514.8,183.2 L515.5,182.4 L515.8,182.1 L516.6,181.2 L516.7,181.1 L517.6,180.0 L517.7,179.9 L518.5,178.9 L518.9,178.5 L519.4,177.8 L520.0,177.3 L520.6,176.8 L521.1,176.3 L521.8,175.7 L522.2,175.4 L523.0,174.6 L523.3,174.4 L524.4,173.6 L524.4,173.6 L525.5,172.6 L525.7,172.5 L526.6,171.6 L526.8,171.4 L527.7,170.5 L527.9,170.3 L528.8,169.4 L529.0,169.3 L529.9,168.3 L530.1,168.2 L531.0,167.3 L531.2,167.1 L532.2,166.3 L532.5,166.1 L533.3,165.4 L533.8,165.0 L534.4,164.5 L535.2,163.9 L535.5,163.7 L536.5,162.8 L536.6,162.8 L537.7,161.9 L537.8,161.8 L538.8,160.9 L539.0,160.7 L539.9,159.8 L540.1,159.6 L541.0,158.8 L541.3,158.6 L542.1,157.9 L542.6,157.5 L543.2,157.0 L544.0,156.4 L544.3,156.2 L545.5,155.4 L545.6,155.4 L546.6,154.8 L547.3,154.3 L547.7,154.0 L548.8,153.2 L548.8,153.2 L549.9,152.5 L550.4,152.1 L551.0,151.8 L551.9,151.1 L552.1,150.9 L553.1,150.0 L553.2,149.9 L554.2,148.9 L554.3,148.8 L555.3,147.9 L555.4,147.7 L556.2,146.8 L556.5,146.4 L557.1,145.7 L557.6,145.1 L558.1,144.6 L558.8,143.8 L559.0,143.6 L559.9,142.6 L559.9,142.5 L561.0,141.5 L561.0,141.4 L562.1,140.4 L562.1,140.4 L563.2,139.4 L563.3,139.3 L564.3,138.3 L564.4,138.2 L565.4,137.4 L565.7,137.1 L566.5,136.5 L567.1,136.1 L567.6,135.7 L568.5,135.0 L568.7,134.8 L569.8,134.0 L569.9,133.9 L570.9,133.0 L571.0,132.9 L572.1,131.9 L572.2,131.8 L573.2,130.8 L573.2,130.7 L574.1,129.7 L574.3,129.4 L574.9,128.6 L575.4,128.0 L575.8,127.5 L576.5,126.6 L576.6,126.4 L577.3,125.4 L577.6,125.0 L578.1,124.3 L578.7,123.5 L578.9,123.2 L579.8,122.2 L579.8,122.2 L580.8,121.1 L580.9,121.0 L581.9,120.0 L582.0,119.9 L583.1,118.9 L583.1,118.9 L584.2,117.9 L584.3,117.9 L585.4,117.1 L585.7,116.8 L586.5,116.2 L587.1,115.7 L587.6,115.4 L588.5,114.7 L588.7,114.5 L589.8,113.6 L589.8,113.6 L590.9,112.7 L591.1,112.5 L592.0,111.8 L592.5,111.5 L593.1,111.0 L593.9,110.4 L594.2,110.2 L595.3,109.3 L595.3,109.3 L596.4,108.4 L596.6,108.2 L597.5,107.6 L598.1,107.2 L598.7,106.7 L599.4,106.1 L599.8,105.8 L600.7,105.0 L600.9,104.8 L601.9,104.0 L602.0,103.9 L603.1,103.0 L603.2,102.9 L604.2,102.0 L604.5,101.8 L605.3,101.1 L605.8,100.7 L606.4,100.3 L607.5,99.7 L607.5,99.6 L608.6,99.0 L609.3,98.6 L609.7,98.4 L610.8,97.8 L611.4,97.5 L612.0,97.2 L613.1,96.6 L613.3,96.5 L614.2,95.9 L614.9,95.4 L615.3,95.1 L616.4,94.3 L616.4,94.3 L617.5,93.5 L617.9,93.2 L618.6,92.7 L619.3,92.2 L619.7,91.8 L620.7,91.1 L620.8,91.0 L621.9,90.2 L622.1,90.0 L623.0,89.2 L623.4,89.0 L624.1,88.3 L624.6,87.9 L625.3,87.3 L625.7,86.8 L626.4,86.1 L626.7,85.8 L627.5,84.9 L627.8,84.7 L628.6,83.9 L628.9,83.6 L629.7,82.9 L630.0,82.5 L630.8,81.6 L630.9,81.5 L631.8,80.4 L631.9,80.3 L632.7,79.3 L633.0,78.9 L633.6,78.3 L634.1,77.9 L635.0,77.2 L635.2,77.0 L636.3,76.1 L636.4,76.1 L637.4,75.4 L638.3,75.0 L638.6,74.9 L639.7,74.5 L640.8,74.0 L640.9,74.0 L641.9,73.7 L643.0,73.4 L644.1,73.0 L644.5,72.9 L645.2,72.7 L646.3,72.3 L647.4,72.0 L648.2,71.8 L648.5,71.7 L649.6,71.4 L650.7,71.1 L651.9,71.6 L652.4,71.8 L653.0,72.1 L654.1,72.5 L655.0,72.9 L655.2,73.0 L656.3,73.9 L656.3,74.0 L657.0,75.0 L657.4,75.7 L657.7,76.1 L658.5,77.0 L658.7,77.2 L659.6,78.0 L660.0,78.3 L659.9,79.3 L659.6,80.0 L659.4,80.4 L658.7,81.5 L658.5,81.9 L658.1,82.5 L657.4,83.0 L656.6,83.6 L656.3,83.8 L655.2,84.5 L654.8,84.7 L654.1,85.1 L653.1,85.8 L653.0,85.8 L651.9,86.7 L651.8,86.8 L650.7,87.5 L650.0,87.9 L649.6,88.1 L648.5,88.6 L648.0,89.0 L647.4,89.3 L646.5,90.0 L646.3,90.2 L645.2,90.8 L644.8,91.1 L644.1,91.4 L643.0,91.8 L642.2,92.2 L641.9,92.3 L640.8,92.7 L639.7,93.1 L639.2,93.2 L638.6,93.5 L637.4,94.1 L636.9,94.3 L636.3,94.6 L635.2,95.3 L635.2,95.4 L634.1,96.0 L633.5,96.5 L633.0,96.8 L631.9,97.5 L631.8,97.5 L630.8,98.3 L630.4,98.6 L629.7,99.3 L629.3,99.7 L628.6,100.4 L628.2,100.7 L627.5,101.4 L626.9,101.8 L626.4,102.2 L625.5,102.9 L625.3,103.1 L624.2,104.0 L624.1,104.0 L623.0,104.8 L622.8,105.0 L621.9,105.5 L620.9,106.1 L620.8,106.1 L619.7,106.8 L619.1,107.2 L618.6,107.5 L617.7,108.2 L617.5,108.4 L616.5,109.3 L616.4,109.4 L615.3,110.2 L615.0,110.4 L614.2,111.0 L613.7,111.5 L613.1,112.0 L612.5,112.5 L612.0,113.1 L611.5,113.6 L610.8,114.2 L610.4,114.7 L609.7,115.2 L609.2,115.7 L608.6,116.4 L608.3,116.8 L607.5,117.7 L607.4,117.9 L606.4,118.9 L606.4,119.0 L605.3,120.0 L605.3,120.0 L604.2,121.1 L604.2,121.1 L603.2,122.2 L603.1,122.2 L602.0,123.2 L602.0,123.3 L600.9,124.3 L600.8,124.3 L599.8,125.3 L599.7,125.4 L598.7,126.4 L598.7,126.5 L597.8,127.5 L597.5,127.8 L596.8,128.6 L596.4,129.0 L595.9,129.7 L595.3,130.3 L595.0,130.7 L594.2,131.6 L594.1,131.8 L593.1,132.9 L593.1,132.9 L592.1,133.9 L592.0,134.0 L591.2,135.0 L590.9,135.5 L590.5,136.1 L589.8,137.0 L589.7,137.1 L588.9,138.2 L588.7,138.5 L588.1,139.3 L587.6,140.0 L587.3,140.4 L586.5,141.4 L586.5,141.4 L585.6,142.5 L585.4,142.9 L584.8,143.6 L584.2,144.3 L584.0,144.6 L583.1,145.6 L583.0,145.7 L582.0,146.7 L582.0,146.8 L581.0,147.9 L580.9,148.0 L580.0,148.9 L579.8,149.1 L578.9,150.0 L578.7,150.1 L577.6,151.1 L577.6,151.1 L576.5,152.0 L576.3,152.1 L575.4,152.9 L575.0,153.2 L574.3,153.7 L573.5,154.3 L573.2,154.6 L572.3,155.4 L572.1,155.5 L571.1,156.4 L570.9,156.6 L570.0,157.5 L569.8,157.7 L568.9,158.6 L568.7,158.7 L567.8,159.6 L567.6,159.8 L566.7,160.7 L566.5,160.9 L565.6,161.8 L565.4,161.9 L564.3,162.8 L564.3,162.8 L563.2,163.7 L562.8,163.9 L562.1,164.5 L561.3,165.0 L561.0,165.2 L559.9,166.0 L559.8,166.1 L558.8,166.9 L558.4,167.1 L557.6,167.7 L556.9,168.2 L556.5,168.4 L555.4,169.2 L555.4,169.3 L554.3,170.1 L554.1,170.3 L553.2,171.1 L552.8,171.4 L552.1,171.9 L551.3,172.5 L551.0,172.7 L550.0,173.6 L549.9,173.6 L548.8,174.6 L548.7,174.6 L547.7,175.5 L547.4,175.7 L546.6,176.3 L545.8,176.8 L545.5,177.0 L544.3,177.8 L544.3,177.8 L543.2,178.6 L542.9,178.9 L542.1,179.4 L541.3,180.0 L541.0,180.1 L539.9,180.9 L539.6,181.1 L538.8,181.6 L537.9,182.1 L537.7,182.3 L536.6,183.0 L536.4,183.2 L535.5,183.8 L534.8,184.3 L534.4,184.6 L533.3,185.3 L533.2,185.3 L532.2,186.0 L531.6,186.4 L531.0,186.8 L530.2,187.5 L529.9,187.7 L528.8,188.5 L528.7,188.5 L527.7,189.2 L527.2,189.6 L526.6,190.1 L525.9,190.7 L525.5,191.0 L524.6,191.8 L524.4,191.9 L523.3,192.5 L522.6,192.8 L522.2,193.0 L521.1,193.6 L520.4,193.9 L520.0,194.1 L518.9,194.5 L517.9,195.0 L517.7,195.0 L516.6,195.7 L516.1,196.0 L515.5,196.3" fill="none" stroke="#ffffff" stroke-opacity="0.9" stroke-width="1.0"/>
<path d="M528.8,181.8 L527.9,181.1 L527.7,180.7 L527.5,180.0 L527.4,178.9 L527.7,178.5 L528.2,177.8 L528.8,177.1 L529.3,176.8 L529.9,176.1 L530.3,175.7 L530.8,174.6 L531.0,174.3 L531.6,173.6 L532.2,173.0 L532.6,172.5 L533.3,171.6 L533.5,171.4 L534.3,170.3 L534.4,170.3 L535.5,169.3 L535.5,169.3 L536.6,168.4 L536.9,168.2 L537.7,167.4 L538.1,167.1 L538.8,166.5 L539.2,166.1 L539.9,165.4 L540.4,165.0 L541.0,164.5 L541.6,163.9 L542.1,163.5 L542.9,162.8 L543.2,162.5 L544.1,161.8 L544.3,161.5 L545.3,160.7 L545.5,160.6 L546.6,159.7 L546.7,159.6 L547.7,158.9 L548.2,158.6 L548.8,158.1 L549.4,157.5 L549.9,157.1 L550.6,156.4 L551.0,156.1 L552.1,155.4 L552.1,155.4 L553.2,154.5 L553.4,154.3 L554.3,153.4 L554.5,153.2 L555.4,152.2 L555.5,152.1 L556.5,151.3 L556.8,151.1 L557.6,150.2 L557.9,150.0 L558.8,149.0 L558.8,148.9 L559.6,147.9 L559.9,147.6 L560.7,146.8 L561.0,146.5 L561.9,145.7 L562.1,145.5 L562.9,144.6 L563.2,144.4 L563.9,143.6 L564.3,143.2 L565.1,142.5 L565.4,142.3 L566.5,141.4 L566.5,141.4 L567.6,140.5 L567.7,140.4 L568.7,139.4 L568.9,139.3 L569.8,138.6 L570.4,138.2 L570.9,137.9 L571.9,137.1 L572.1,137.0 L573.1,136.1 L573.2,136.0 L574.2,135.0 L574.3,134.9 L575.4,134.1 L575.6,133.9 L576.5,133.1 L576.7,132.9 L577.6,131.9 L577.7,131.8 L578.5,130.7 L578.7,130.5 L579.8,129.7 L579.8,129.6 L580.9,128.6 L580.9,128.6 L581.8,127.5 L582.0,127.3 L582.6,126.4 L583.1,125.8 L583.9,125.4 L584.2,125.1 L585.2,124.3 L585.4,124.2 L586.3,123.2 L586.5,123.0 L587.1,122.2 L587.6,121.7 L588.7,121.2 L589.0,121.1 L589.8,120.6 L590.6,120.0 L590.9,119.8 L591.7,118.9 L592.0,118.5 L592.9,117.9 L593.1,117.8 L594.2,117.2 L594.7,116.8 L595.3,116.4 L596.1,115.7 L596.4,115.4 L597.5,115.0 L598.3,114.7 L598.7,114.4 L599.3,113.6 L599.8,113.3 L600.7,112.5 L600.9,112.4 L602.0,112.5 L602.1,112.5 L603.1,113.5 L603.2,113.6 L603.1,113.6 L602.2,114.7 L602.0,115.2 L601.7,115.7 L601.4,116.8 L601.1,117.9 L600.9,118.1 L599.8,118.5 L599.0,118.9 L598.7,119.2 L597.9,120.0 L597.5,120.5 L597.3,121.1 L596.7,122.2 L596.4,122.5 L595.3,123.0 L595.1,123.2 L594.2,124.1 L594.0,124.3 L593.4,125.4 L593.1,126.1 L593.0,126.4 L592.1,127.5 L592.0,127.7 L590.9,128.6 L590.9,128.6 L590.1,129.7 L589.8,130.2 L589.6,130.7 L588.7,131.8 L588.7,131.8 L588.0,132.9 L587.6,133.6 L587.3,133.9 L586.6,135.0 L586.5,135.1 L585.7,136.1 L585.4,136.5 L584.9,137.1 L584.3,138.2 L584.2,138.4 L583.8,139.3 L583.1,140.2 L583.0,140.4 L582.0,141.3 L581.9,141.4 L581.0,142.5 L580.9,142.6 L580.3,143.6 L579.8,144.1 L579.4,144.6 L578.7,145.4 L578.3,145.7 L577.6,146.4 L577.2,146.8 L576.5,147.6 L576.3,147.9 L575.4,148.7 L575.1,148.9 L574.3,149.6 L573.8,150.0 L573.2,150.5 L572.5,151.1 L572.1,151.5 L571.4,152.1 L570.9,152.6 L570.3,153.2 L569.8,153.6 L568.9,154.3 L568.7,154.5 L567.7,155.4 L567.6,155.4 L566.7,156.4 L566.5,156.7 L565.7,157.5 L565.4,157.8 L564.4,158.6 L564.3,158.6 L563.2,159.5 L563.0,159.6 L562.1,160.5 L561.9,160.7 L561.0,161.5 L560.6,161.8 L559.9,162.2 L558.8,162.8 L558.8,162.9 L557.6,163.7 L557.3,163.9 L556.5,164.6 L556.0,165.0 L555.4,165.4 L554.5,166.1 L554.3,166.2 L553.2,166.9 L552.9,167.1 L552.1,167.8 L551.5,168.2 L551.0,168.6 L550.1,169.3 L549.9,169.4 L548.8,170.3 L548.8,170.4 L547.7,171.2 L547.3,171.4 L546.6,172.0 L545.6,172.5 L545.5,172.6 L544.3,173.5 L544.3,173.6 L543.2,174.4 L543.0,174.6 L542.1,175.1 L541.0,175.5 L540.7,175.7 L539.9,176.1 L538.8,176.8 L538.8,176.8 L537.7,177.5 L537.0,177.8 L536.6,178.0 L535.5,178.7 L535.2,178.9 L534.4,179.3 L533.3,179.8 L532.3,180.0 L532.2,180.0 L531.0,180.3 L529.9,180.9 L529.6,181.1 L528.8,181.8" fill="none" stroke="#ffffff" stroke-opacity="0.9" stroke-width="1.0"/>
<line x1="439.30" y1="267.90" x2="662.60" y2="60.30" stroke="#2a2a2a" stroke-width="1.1" stroke-dasharray="3.2,2.2"/>
<rect x="439.30" y="18.90" width="223.30" height="41.40" fill="none" stroke="#808080" stroke-width="1"/>
<rect x="662.60" y="60.30" width="50.80" height="207.60" fill="none" stroke="#808080" stroke-width="1"/>
<rect x="439.30" y="60.30" width="223.30" height="207.60" fill="none" stroke="#808080" stroke-width="1"/>
<line x1="474.83" y1="267.90" x2="474.83" y2="270.40" stroke="#808080" stroke-width="0.8"/>
<line x1="474.83" y1="60.30" x2="474.83" y2="62.30" stroke="#808080" stroke-width="0.8"/>
<text x="474.8" y="280.4" font-family='"Liberation Serif", serif' font-size="13" text-anchor="middle" fill="#1e1e1e" stroke="#1e1e1e" stroke-width="0.29" style="" textLength="17.0" lengthAdjust="spacingAndGlyphs">−4</text>
<line x1="515.95" y1="267.90" x2="515.95" y2="270.40" stroke="#808080" stroke-width="0.8"/>
<line x1="515.95" y1="60.30" x2="515.95" y2="62.30" stroke="#808080" stroke-width="0.8"/>
<text x="516.0" y="280.4" font-family='"Liberation Serif", serif' font-size="13" text-anchor="middle" fill="#1e1e1e" stroke="#1e1e1e" stroke-width="0.29" style="" textLength="17.0" lengthAdjust="spacingAndGlyphs">−3</text>
<line x1="557.08" y1="267.90" x2="557.08" y2="270.40" stroke="#808080" stroke-width="0.8"/>
<line x1="557.08" y1="60.30" x2="557.08" y2="62.30" stroke="#808080" stroke-width="0.8"/>
<text x="557.1" y="280.4" font-family='"Liberation Serif", serif' font-size="13" text-anchor="middle" fill="#1e1e1e" stroke="#1e1e1e" stroke-width="0.29" style="" textLength="17.0" lengthAdjust="spacingAndGlyphs">−2</text>
<line x1="598.20" y1="267.90" x2="598.20" y2="270.40" stroke="#808080" stroke-width="0.8"/>
<line x1="598.20" y1="60.30" x2="598.20" y2="62.30" stroke="#808080" stroke-width="0.8"/>
<text x="598.2" y="280.4" font-family='"Liberation Serif", serif' font-size="13" text-anchor="middle" fill="#1e1e1e" stroke="#1e1e1e" stroke-width="0.29" style="" textLength="17.0" lengthAdjust="spacingAndGlyphs">−1</text>
<line x1="639.32" y1="267.90" x2="639.32" y2="270.40" stroke="#808080" stroke-width="0.8"/>
<line x1="639.32" y1="60.30" x2="639.32" y2="62.30" stroke="#808080" stroke-width="0.8"/>
<text x="639.3" y="280.4" font-family='"Liberation Serif", serif' font-size="13" text-anchor="middle" fill="#1e1e1e" stroke="#1e1e1e" stroke-width="0.29" style="" textLength="6.8" lengthAdjust="spacingAndGlyphs">0</text>
<line x1="436.80" y1="234.72" x2="439.30" y2="234.72" stroke="#808080" stroke-width="0.8"/>
<text x="434.8" y="239.1" font-family='"Liberation Serif", serif' font-size="13" text-anchor="end" fill="#1e1e1e" stroke="#1e1e1e" stroke-width="0.29" style="" textLength="17.0" lengthAdjust="spacingAndGlyphs">−4</text>
<line x1="436.80" y1="196.58" x2="439.30" y2="196.58" stroke="#808080" stroke-width="0.8"/>
<text x="434.8" y="201.0" font-family='"Liberation Serif", serif' font-size="13" text-anchor="end" fill="#1e1e1e" stroke="#1e1e1e" stroke-width="0.29" style="" textLength="17.0" lengthAdjust="spacingAndGlyphs">−3</text>
<line x1="436.80" y1="158.44" x2="439.30" y2="158.44" stroke="#808080" stroke-width="0.8"/>
<text x="434.8" y="162.8" font-family='"Liberation Serif", serif' font-size="13" text-anchor="end" fill="#1e1e1e" stroke="#1e1e1e" stroke-width="0.29" style="" textLength="17.0" lengthAdjust="spacingAndGlyphs">−2</text>
<line x1="436.80" y1="120.30" x2="439.30" y2="120.30" stroke="#808080" stroke-width="0.8"/>
<text x="434.8" y="124.7" font-family='"Liberation Serif", serif' font-size="13" text-anchor="end" fill="#1e1e1e" stroke="#1e1e1e" stroke-width="0.29" style="" textLength="17.0" lengthAdjust="spacingAndGlyphs">−1</text>
<line x1="436.80" y1="82.15" x2="439.30" y2="82.15" stroke="#808080" stroke-width="0.8"/>
<text x="434.8" y="86.6" font-family='"Liberation Serif", serif' font-size="13" text-anchor="end" fill="#1e1e1e" stroke="#1e1e1e" stroke-width="0.29" style="" textLength="6.8" lengthAdjust="spacingAndGlyphs">0</text>
<line x1="436.80" y1="22.80" x2="439.30" y2="22.80" stroke="#808080" stroke-width="0.8"/>
<line x1="436.80" y1="58.30" x2="439.30" y2="58.30" stroke="#808080" stroke-width="0.8"/>
<line x1="660.40" y1="120.20" x2="662.60" y2="120.20" stroke="#808080" stroke-width="0.8"/>
<line x1="660.40" y1="158.40" x2="662.60" y2="158.40" stroke="#808080" stroke-width="0.8"/>
<line x1="660.40" y1="196.50" x2="662.60" y2="196.50" stroke="#808080" stroke-width="0.8"/>
<line x1="660.40" y1="234.80" x2="662.60" y2="234.80" stroke="#808080" stroke-width="0.8"/>
<line x1="706.50" y1="267.90" x2="706.50" y2="270.40" stroke="#808080" stroke-width="0.8"/>
<path d="M439.5,58.3 C446.8,58.2 471.0,58.2 483.4,58.0 C495.8,57.8 506.1,57.4 513.7,56.8 C521.3,56.2 524.0,55.3 528.8,54.3 C533.6,53.3 538.9,53.0 542.4,50.7 C545.9,48.4 547.7,44.6 550.0,40.7 C552.3,36.8 554.0,30.4 556.0,27.1 C558.0,23.8 560.3,22.0 562.1,21.1 C563.9,20.2 564.8,20.7 566.6,21.7 C568.4,22.7 570.4,24.4 572.7,27.1 C575.0,29.8 577.5,34.7 580.3,37.7 C583.1,40.7 585.8,43.1 589.3,45.3 C592.8,47.5 596.3,49.2 601.4,50.7 C606.5,52.2 612.5,53.3 619.6,54.3 C626.7,55.3 636.7,56.1 643.8,56.8 C650.9,57.5 659.0,58.0 662.0,58.3" fill="none" stroke="#404040" stroke-width="1.15" stroke-dasharray="3.3,1.8"/>
<path d="M664.2,60.1 C664.4,63.9 664.9,75.5 665.4,82.7 C665.9,89.9 666.2,97.2 667.0,103.4 C667.8,109.6 668.4,115.1 670.3,119.9 C672.2,124.7 675.2,128.8 678.6,132.2 C682.0,135.6 686.8,138.3 690.9,140.5 C695.0,142.7 700.0,143.5 703.2,145.4 C706.4,147.3 709.9,149.9 710.2,152.0 C710.6,154.1 708.5,156.2 705.3,157.8 C702.1,159.5 695.7,160.3 690.9,161.9 C686.1,163.5 680.1,164.7 676.5,167.3 C672.9,169.9 671.2,172.4 669.5,177.6 C667.8,182.8 667.0,189.3 666.2,198.2 C665.5,207.1 665.3,219.6 665.0,231.2 C664.7,242.8 664.7,261.8 664.6,267.9" fill="none" stroke="#404040" stroke-width="1.15" stroke-dasharray="4.6,1.4,1.2,1.4"/>
<rect x="604.90" y="24.00" width="52.60" height="14.40" fill="#ffffff" stroke="#dcdcdc" stroke-width="1" rx="2.5"/>
<line x1="607.30" y1="30.00" x2="625.40" y2="30.00" stroke="#333" stroke-width="1.3" stroke-dasharray="3.2,1.6"/>
<text x="633.0" y="33.4" font-family='"Liberation Serif", serif' font-size="9.5" text-anchor="start" fill="#1e1e1e" stroke="#1e1e1e" stroke-width="0.21" style="" textLength="20.5" lengthAdjust="spacingAndGlyphs">SAM</text>
<rect x="667.30" y="33.90" width="54.60" height="15.20" fill="#ffffff" stroke="#dcdcdc" stroke-width="1" rx="2.5"/>
<line x1="670.30" y1="40.20" x2="688.20" y2="40.20" stroke="#333" stroke-width="1.3" stroke-dasharray="4.2,1.2,1,1.2"/>
<text x="696.3" y="43.3" font-family='"Liberation Serif", serif' font-size="9.5" text-anchor="start" fill="#1e1e1e" stroke="#1e1e1e" stroke-width="0.21" style="" textLength="21.5" lengthAdjust="spacingAndGlyphs">GNN</text>
<rect x="721.30" y="60.60" width="8.40" height="207.10" fill="url(#vir)"/>
<line x1="729.70" y1="267.70" x2="732.20" y2="267.70" stroke="#444" stroke-width="0.8"/>
<text x="734.7" y="272.3" font-family='"Liberation Serif", serif' font-size="13.5" text-anchor="start" fill="#1e1e1e" stroke="#1e1e1e" stroke-width="0.30" style="" textLength="12.2" lengthAdjust="spacingAndGlyphs">10</text>
<text x="749.0" y="267.9" font-family='"Liberation Serif", serif' font-size="9.45" text-anchor="start" fill="#1e1e1e" stroke="#1e1e1e" stroke-width="0.21" style="" textLength="4.2" lengthAdjust="spacingAndGlyphs">0</text>
<line x1="729.70" y1="247.78" x2="731.10" y2="247.78" stroke="#444" stroke-width="0.6"/>
<line x1="729.70" y1="236.13" x2="731.10" y2="236.13" stroke="#444" stroke-width="0.6"/>
<line x1="729.70" y1="227.86" x2="731.10" y2="227.86" stroke="#444" stroke-width="0.6"/>
<line x1="729.70" y1="221.45" x2="731.10" y2="221.45" stroke="#444" stroke-width="0.6"/>
<line x1="729.70" y1="216.21" x2="731.10" y2="216.21" stroke="#444" stroke-width="0.6"/>
<line x1="729.70" y1="211.78" x2="731.10" y2="211.78" stroke="#444" stroke-width="0.6"/>
<line x1="729.70" y1="207.95" x2="731.10" y2="207.95" stroke="#444" stroke-width="0.6"/>
<line x1="729.70" y1="204.56" x2="731.10" y2="204.56" stroke="#444" stroke-width="0.6"/>
<line x1="729.70" y1="201.53" x2="732.20" y2="201.53" stroke="#444" stroke-width="0.8"/>
<text x="734.7" y="206.1" font-family='"Liberation Serif", serif' font-size="13.5" text-anchor="start" fill="#1e1e1e" stroke="#1e1e1e" stroke-width="0.30" style="" textLength="12.2" lengthAdjust="spacingAndGlyphs">10</text>
<text x="749.0" y="201.7" font-family='"Liberation Serif", serif' font-size="9.45" text-anchor="start" fill="#1e1e1e" stroke="#1e1e1e" stroke-width="0.21" style="" textLength="4.2" lengthAdjust="spacingAndGlyphs">1</text>
<line x1="729.70" y1="181.62" x2="731.10" y2="181.62" stroke="#444" stroke-width="0.6"/>
<line x1="729.70" y1="169.96" x2="731.10" y2="169.96" stroke="#444" stroke-width="0.6"/>
<line x1="729.70" y1="161.70" x2="731.10" y2="161.70" stroke="#444" stroke-width="0.6"/>
<line x1="729.70" y1="155.29" x2="731.10" y2="155.29" stroke="#444" stroke-width="0.6"/>
<line x1="729.70" y1="150.05" x2="731.10" y2="150.05" stroke="#444" stroke-width="0.6"/>
<line x1="729.70" y1="145.62" x2="731.10" y2="145.62" stroke="#444" stroke-width="0.6"/>
<line x1="729.70" y1="141.78" x2="731.10" y2="141.78" stroke="#444" stroke-width="0.6"/>
<line x1="729.70" y1="138.40" x2="731.10" y2="138.40" stroke="#444" stroke-width="0.6"/>
<line x1="729.70" y1="135.37" x2="732.20" y2="135.37" stroke="#444" stroke-width="0.8"/>
<text x="734.7" y="140.0" font-family='"Liberation Serif", serif' font-size="13.5" text-anchor="start" fill="#1e1e1e" stroke="#1e1e1e" stroke-width="0.30" style="" textLength="12.2" lengthAdjust="spacingAndGlyphs">10</text>
<text x="749.0" y="135.6" font-family='"Liberation Serif", serif' font-size="9.45" text-anchor="start" fill="#1e1e1e" stroke="#1e1e1e" stroke-width="0.21" style="" textLength="4.2" lengthAdjust="spacingAndGlyphs">2</text>
<line x1="729.70" y1="115.45" x2="731.10" y2="115.45" stroke="#444" stroke-width="0.6"/>
<line x1="729.70" y1="103.80" x2="731.10" y2="103.80" stroke="#444" stroke-width="0.6"/>
<line x1="729.70" y1="95.53" x2="731.10" y2="95.53" stroke="#444" stroke-width="0.6"/>
<line x1="729.70" y1="89.12" x2="731.10" y2="89.12" stroke="#444" stroke-width="0.6"/>
<line x1="729.70" y1="83.88" x2="731.10" y2="83.88" stroke="#444" stroke-width="0.6"/>
<line x1="729.70" y1="79.45" x2="731.10" y2="79.45" stroke="#444" stroke-width="0.6"/>
<line x1="729.70" y1="75.61" x2="731.10" y2="75.61" stroke="#444" stroke-width="0.6"/>
<line x1="729.70" y1="72.23" x2="731.10" y2="72.23" stroke="#444" stroke-width="0.6"/>
<line x1="729.70" y1="69.20" x2="732.20" y2="69.20" stroke="#444" stroke-width="0.8"/>
<text x="734.7" y="73.8" font-family='"Liberation Serif", serif' font-size="13.5" text-anchor="start" fill="#1e1e1e" stroke="#1e1e1e" stroke-width="0.30" style="" textLength="12.2" lengthAdjust="spacingAndGlyphs">10</text>
<text x="749.0" y="69.4" font-family='"Liberation Serif", serif' font-size="9.45" text-anchor="start" fill="#1e1e1e" stroke="#1e1e1e" stroke-width="0.21" style="" textLength="4.2" lengthAdjust="spacingAndGlyphs">3</text>
<text x="497.4" y="12.5" font-family='"Liberation Serif", serif' font-size="16" text-anchor="start" fill="#1e1e1e" stroke="#1e1e1e" stroke-width="0.35" style="" textLength="73.1" lengthAdjust="spacingAndGlyphs">SAM-GNN</text>
<text x="576.5" y="12.5" font-family='"Liberation Sans", sans-serif' font-size="15" text-anchor="start" fill="#1e1e1e" stroke="#1e1e1e" stroke-width="0.33" style="font-style:italic;" textLength="10.1" lengthAdjust="spacingAndGlyphs">Z</text>
<text x="587.1" y="15.0" font-family='"Liberation Sans", sans-serif' font-size="11" text-anchor="start" fill="#1e1e1e" stroke="#1e1e1e" stroke-width="0.24" style="font-style:italic;" textLength="16.9" lengthAdjust="spacingAndGlyphs">gas</text>
<text x="517.4" y="296.8" font-family='"Liberation Serif", serif' font-size="16" text-anchor="start" fill="#1e1e1e" stroke="#1e1e1e" stroke-width="0.35" style="" textLength="32.8" lengthAdjust="spacingAndGlyphs">SAM</text>
<text x="555.0" y="296.8" font-family='"Liberation Sans", sans-serif' font-size="15" text-anchor="start" fill="#1e1e1e" stroke="#1e1e1e" stroke-width="0.33" style="font-style:italic;" textLength="10.5" lengthAdjust="spacingAndGlyphs">Z</text>
<text x="565.7" y="299.3" font-family='"Liberation Sans", sans-serif' font-size="11" text-anchor="start" fill="#1e1e1e" stroke="#1e1e1e" stroke-width="0.24" style="font-style:italic;" textLength="17.7" lengthAdjust="spacingAndGlyphs">gas</text>
<g transform="translate(408.0,0) rotate(-90)">
<text x="-197.9" y="0.0" font-family='"Liberation Serif", serif' font-size="16" text-anchor="start" fill="#1e1e1e" stroke="#1e1e1e" stroke-width="0.35" style="" textLength="34.2" lengthAdjust="spacingAndGlyphs">GNN</text>
<text x="-158.6" y="0.0" font-family='"Liberation Sans", sans-serif' font-size="15" text-anchor="start" fill="#1e1e1e" stroke="#1e1e1e" stroke-width="0.33" style="font-style:italic;" textLength="10.4" lengthAdjust="spacingAndGlyphs">Z</text>
<text x="-147.6" y="2.5" font-family='"Liberation Sans", sans-serif' font-size="11" text-anchor="start" fill="#1e1e1e" stroke="#1e1e1e" stroke-width="0.24" style="font-style:italic;" textLength="17.4" lengthAdjust="spacingAndGlyphs">gas</text>
</g>
<text x="540.3" y="226.0" font-family='"Liberation Serif", serif' font-size="14" text-anchor="start" fill="#1e1e1e" stroke="#1e1e1e" stroke-width="0.31" style="" textLength="99.8" lengthAdjust="spacingAndGlyphs">Bias : -0.005 dex</text>
<text x="540.3" y="240.1" font-family='"Liberation Sans", sans-serif' font-size="14" text-anchor="start" fill="#1e1e1e" stroke="#1e1e1e" stroke-width="0.31" style="font-style:italic;">σ</text>
<text x="548.0" y="240.1" font-family='"Liberation Serif", serif' font-size="14" text-anchor="start" fill="#1e1e1e" stroke="#1e1e1e" stroke-width="0.31" style="" textLength="69.6" lengthAdjust="spacingAndGlyphs"> : 0.123 dex</text>
<text x="540.3" y="255.2" font-family='"Liberation Serif", serif' font-size="14" text-anchor="start" fill="#1e1e1e" stroke="#1e1e1e" stroke-width="0.31" style="" textLength="93.1" lengthAdjust="spacingAndGlyphs">Pearson:  0.974</text>
<g shape-rendering="crispEdges">
<rect x="97.60" y="369.00" width="3.20" height="3.05" fill="#440154"/>
<rect x="146.90" y="369.00" width="3.20" height="3.05" fill="#2eb37c"/>
<rect x="149.80" y="369.00" width="3.20" height="3.05" fill="#35b779"/>
<rect x="152.70" y="369.00" width="3.20" height="3.05" fill="#2db27d"/>
<rect x="155.60" y="369.00" width="3.20" height="3.05" fill="#2db27d"/>
<rect x="158.50" y="369.00" width="3.20" height="3.05" fill="#2ab07f"/>
<rect x="161.40" y="369.00" width="3.20" height="3.05" fill="#38b977"/>
<rect x="164.30" y="369.00" width="3.20" height="3.05" fill="#2cb17e"/>
<rect x="167.20" y="369.00" width="3.20" height="3.05" fill="#2db27d"/>
<rect x="170.10" y="369.00" width="3.20" height="3.05" fill="#2eb37c"/>
<rect x="173.00" y="369.00" width="3.10" height="3.05" fill="#34b679"/>
<rect x="126.60" y="371.75" width="3.20" height="3.05" fill="#440154"/>
<rect x="132.40" y="371.75" width="3.20" height="3.05" fill="#440154"/>
<rect x="141.10" y="371.75" width="3.20" height="3.05" fill="#482475"/>
<rect x="144.00" y="371.75" width="3.20" height="3.05" fill="#440154"/>
<rect x="146.90" y="371.75" width="3.20" height="3.05" fill="#39558c"/>
<rect x="149.80" y="371.75" width="3.20" height="3.05" fill="#2f6c8e"/>
<rect x="152.70" y="371.75" width="3.20" height="3.05" fill="#238a8d"/>
<rect x="155.60" y="371.75" width="3.20" height="3.05" fill="#23a983"/>
<rect x="158.50" y="371.75" width="3.20" height="3.05" fill="#1e9c89"/>
<rect x="161.40" y="371.75" width="3.20" height="3.05" fill="#1f998a"/>
<rect x="164.30" y="371.75" width="3.20" height="3.05" fill="#277e8e"/>
<rect x="167.20" y="371.75" width="3.20" height="3.05" fill="#2b748e"/>
<rect x="170.10" y="371.75" width="3.20" height="3.05" fill="#39558c"/>
<rect x="173.00" y="371.75" width="3.10" height="3.05" fill="#2d708e"/>
<rect x="83.10" y="374.50" width="3.20" height="3.05" fill="#440154"/>
<rect x="135.30" y="374.50" width="3.20" height="3.05" fill="#440154"/>
<rect x="138.20" y="374.50" width="3.20" height="3.05" fill="#440154"/>
<rect x="141.10" y="374.50" width="3.20" height="3.05" fill="#440154"/>
<rect x="144.00" y="374.50" width="3.20" height="3.05" fill="#3d4e8a"/>
<rect x="146.90" y="374.50" width="3.20" height="3.05" fill="#24878e"/>
<rect x="149.80" y="374.50" width="3.20" height="3.05" fill="#1f988b"/>
<rect x="152.70" y="374.50" width="3.20" height="3.05" fill="#24aa83"/>
<rect x="155.60" y="374.50" width="3.20" height="3.05" fill="#1f998a"/>
<rect x="158.50" y="374.50" width="3.20" height="3.05" fill="#25848e"/>
<rect x="161.40" y="374.50" width="3.20" height="3.05" fill="#287c8e"/>
<rect x="164.30" y="374.50" width="3.20" height="3.05" fill="#2f6c8e"/>
<rect x="167.20" y="374.50" width="3.20" height="3.05" fill="#3d4e8a"/>
<rect x="170.10" y="374.50" width="3.20" height="3.05" fill="#453882"/>
<rect x="173.00" y="374.50" width="3.10" height="3.05" fill="#453882"/>
<rect x="54.10" y="377.25" width="3.20" height="3.05" fill="#440154"/>
<rect x="109.20" y="377.25" width="3.20" height="3.05" fill="#440154"/>
<rect x="132.40" y="377.25" width="3.20" height="3.05" fill="#440154"/>
<rect x="138.20" y="377.25" width="3.20" height="3.05" fill="#482475"/>
<rect x="141.10" y="377.25" width="3.20" height="3.05" fill="#30698e"/>
<rect x="144.00" y="377.25" width="3.20" height="3.05" fill="#25848e"/>
<rect x="146.90" y="377.25" width="3.20" height="3.05" fill="#1f9f88"/>
<rect x="149.80" y="377.25" width="3.20" height="3.05" fill="#26ad81"/>
<rect x="152.70" y="377.25" width="3.20" height="3.05" fill="#20a386"/>
<rect x="155.60" y="377.25" width="3.20" height="3.05" fill="#21908d"/>
<rect x="158.50" y="377.25" width="3.20" height="3.05" fill="#27808e"/>
<rect x="161.40" y="377.25" width="3.20" height="3.05" fill="#2c728e"/>
<rect x="164.30" y="377.25" width="3.20" height="3.05" fill="#453882"/>
<rect x="167.20" y="377.25" width="3.20" height="3.05" fill="#440154"/>
<rect x="170.10" y="377.25" width="3.20" height="3.05" fill="#414487"/>
<rect x="173.00" y="377.25" width="3.10" height="3.05" fill="#440154"/>
<rect x="120.80" y="380.00" width="3.20" height="3.05" fill="#440154"/>
<rect x="126.60" y="380.00" width="3.20" height="3.05" fill="#440154"/>
<rect x="129.50" y="380.00" width="3.20" height="3.05" fill="#440154"/>
<rect x="132.40" y="380.00" width="3.20" height="3.05" fill="#440154"/>
<rect x="135.30" y="380.00" width="3.20" height="3.05" fill="#453882"/>
<rect x="138.20" y="380.00" width="3.20" height="3.05" fill="#27808e"/>
<rect x="141.10" y="380.00" width="3.20" height="3.05" fill="#21908d"/>
<rect x="144.00" y="380.00" width="3.20" height="3.05" fill="#25ab82"/>
<rect x="146.90" y="380.00" width="3.20" height="3.05" fill="#2ab07f"/>
<rect x="149.80" y="380.00" width="3.20" height="3.05" fill="#20a386"/>
<rect x="152.70" y="380.00" width="3.20" height="3.05" fill="#238a8d"/>
<rect x="155.60" y="380.00" width="3.20" height="3.05" fill="#277e8e"/>
<rect x="158.50" y="380.00" width="3.20" height="3.05" fill="#32658e"/>
<rect x="161.40" y="380.00" width="3.20" height="3.05" fill="#414487"/>
<rect x="170.10" y="380.00" width="3.20" height="3.05" fill="#482475"/>
<rect x="74.40" y="382.75" width="3.20" height="3.05" fill="#440154"/>
<rect x="83.10" y="382.75" width="3.20" height="3.05" fill="#440154"/>
<rect x="91.80" y="382.75" width="3.20" height="3.05" fill="#440154"/>
<rect x="120.80" y="382.75" width="3.20" height="3.05" fill="#440154"/>
<rect x="123.70" y="382.75" width="3.20" height="3.05" fill="#482475"/>
<rect x="126.60" y="382.75" width="3.20" height="3.05" fill="#440154"/>
<rect x="129.50" y="382.75" width="3.20" height="3.05" fill="#414487"/>
<rect x="132.40" y="382.75" width="3.20" height="3.05" fill="#3d4e8a"/>
<rect x="135.30" y="382.75" width="3.20" height="3.05" fill="#27808e"/>
<rect x="138.20" y="382.75" width="3.20" height="3.05" fill="#1f9a8a"/>
<rect x="141.10" y="382.75" width="3.20" height="3.05" fill="#2cb17e"/>
<rect x="144.00" y="382.75" width="3.20" height="3.05" fill="#3aba76"/>
<rect x="146.90" y="382.75" width="3.20" height="3.05" fill="#1e9d89"/>
<rect x="149.80" y="382.75" width="3.20" height="3.05" fill="#1f998a"/>
<rect x="152.70" y="382.75" width="3.20" height="3.05" fill="#2d708e"/>
<rect x="155.60" y="382.75" width="3.20" height="3.05" fill="#453882"/>
<rect x="158.50" y="382.75" width="3.20" height="3.05" fill="#440154"/>
<rect x="161.40" y="382.75" width="3.20" height="3.05" fill="#440154"/>
<rect x="173.00" y="382.75" width="3.10" height="3.05" fill="#440154"/>
<rect x="31.10" y="385.50" width="3.00" height="3.05" fill="#440154"/>
<rect x="117.90" y="385.50" width="3.20" height="3.05" fill="#482475"/>
<rect x="120.80" y="385.50" width="3.20" height="3.05" fill="#482475"/>
<rect x="123.70" y="385.50" width="3.20" height="3.05" fill="#482475"/>
<rect x="126.60" y="385.50" width="3.20" height="3.05" fill="#482475"/>
<rect x="129.50" y="385.50" width="3.20" height="3.05" fill="#29798e"/>
<rect x="132.40" y="385.50" width="3.20" height="3.05" fill="#228c8d"/>
<rect x="135.30" y="385.50" width="3.20" height="3.05" fill="#21a585"/>
<rect x="138.20" y="385.50" width="3.20" height="3.05" fill="#40bd72"/>
<rect x="141.10" y="385.50" width="3.20" height="3.05" fill="#35b779"/>
<rect x="144.00" y="385.50" width="3.20" height="3.05" fill="#2ab07f"/>
<rect x="146.90" y="385.50" width="3.20" height="3.05" fill="#1f9a8a"/>
<rect x="149.80" y="385.50" width="3.20" height="3.05" fill="#2b748e"/>
<rect x="152.70" y="385.50" width="3.20" height="3.05" fill="#375b8d"/>
<rect x="155.60" y="385.50" width="3.20" height="3.05" fill="#482475"/>
<rect x="158.50" y="385.50" width="3.20" height="3.05" fill="#482475"/>
<rect x="161.40" y="385.50" width="3.20" height="3.05" fill="#440154"/>
<rect x="170.10" y="385.50" width="3.20" height="3.05" fill="#440154"/>
<rect x="103.40" y="388.25" width="3.20" height="3.05" fill="#440154"/>
<rect x="109.20" y="388.25" width="3.20" height="3.05" fill="#440154"/>
<rect x="117.90" y="388.25" width="3.20" height="3.05" fill="#482475"/>
<rect x="120.80" y="388.25" width="3.20" height="3.05" fill="#482475"/>
<rect x="123.70" y="388.25" width="3.20" height="3.05" fill="#414487"/>
<rect x="126.60" y="388.25" width="3.20" height="3.05" fill="#2b748e"/>
<rect x="129.50" y="388.25" width="3.20" height="3.05" fill="#228c8d"/>
<rect x="132.40" y="388.25" width="3.20" height="3.05" fill="#25ab82"/>
<rect x="135.30" y="388.25" width="3.20" height="3.05" fill="#3dbc74"/>
<rect x="138.20" y="388.25" width="3.20" height="3.05" fill="#3dbc74"/>
<rect x="141.10" y="388.25" width="3.20" height="3.05" fill="#2eb37c"/>
<rect x="144.00" y="388.25" width="3.20" height="3.05" fill="#228c8d"/>
<rect x="146.90" y="388.25" width="3.20" height="3.05" fill="#29798e"/>
<rect x="149.80" y="388.25" width="3.20" height="3.05" fill="#482475"/>
<rect x="158.50" y="388.25" width="3.20" height="3.05" fill="#440154"/>
<rect x="164.30" y="388.25" width="3.20" height="3.05" fill="#482475"/>
<rect x="167.20" y="388.25" width="3.20" height="3.05" fill="#440154"/>
<rect x="100.50" y="391.00" width="3.20" height="3.05" fill="#482475"/>
<rect x="112.10" y="391.00" width="3.20" height="3.05" fill="#453882"/>
<rect x="115.00" y="391.00" width="3.20" height="3.05" fill="#440154"/>
<rect x="117.90" y="391.00" width="3.20" height="3.05" fill="#482475"/>
<rect x="120.80" y="391.00" width="3.20" height="3.05" fill="#32658e"/>
<rect x="123.70" y="391.00" width="3.20" height="3.05" fill="#30698e"/>
<rect x="126.60" y="391.00" width="3.20" height="3.05" fill="#24878e"/>
<rect x="129.50" y="391.00" width="3.20" height="3.05" fill="#2cb17e"/>
<rect x="132.40" y="391.00" width="3.20" height="3.05" fill="#48c16e"/>
<rect x="135.30" y="391.00" width="3.20" height="3.05" fill="#52c569"/>
<rect x="138.20" y="391.00" width="3.20" height="3.05" fill="#29af7f"/>
<rect x="141.10" y="391.00" width="3.20" height="3.05" fill="#20928c"/>
<rect x="144.00" y="391.00" width="3.20" height="3.05" fill="#277e8e"/>
<rect x="146.90" y="391.00" width="3.20" height="3.05" fill="#3d4e8a"/>
<rect x="149.80" y="391.00" width="3.20" height="3.05" fill="#482475"/>
<rect x="158.50" y="391.00" width="3.20" height="3.05" fill="#440154"/>
<rect x="167.20" y="391.00" width="3.20" height="3.05" fill="#440154"/>
<rect x="65.70" y="393.75" width="3.20" height="3.05" fill="#440154"/>
<rect x="97.60" y="393.75" width="3.20" height="3.05" fill="#440154"/>
<rect x="106.30" y="393.75" width="3.20" height="3.05" fill="#440154"/>
<rect x="109.20" y="393.75" width="3.20" height="3.05" fill="#482475"/>
<rect x="112.10" y="393.75" width="3.20" height="3.05" fill="#440154"/>
<rect x="115.00" y="393.75" width="3.20" height="3.05" fill="#482475"/>
<rect x="117.90" y="393.75" width="3.20" height="3.05" fill="#414487"/>
<rect x="120.80" y="393.75" width="3.20" height="3.05" fill="#287c8e"/>
<rect x="123.70" y="393.75" width="3.20" height="3.05" fill="#1f998a"/>
<rect x="126.60" y="393.75" width="3.20" height="3.05" fill="#34b679"/>
<rect x="129.50" y="393.75" width="3.20" height="3.05" fill="#5ac864"/>
<rect x="132.40" y="393.75" width="3.20" height="3.05" fill="#58c765"/>
<rect x="135.30" y="393.75" width="3.20" height="3.05" fill="#27ad81"/>
<rect x="138.20" y="393.75" width="3.20" height="3.05" fill="#24878e"/>
<rect x="141.10" y="393.75" width="3.20" height="3.05" fill="#30698e"/>
<rect x="144.00" y="393.75" width="3.20" height="3.05" fill="#414487"/>
<rect x="146.90" y="393.75" width="3.20" height="3.05" fill="#453882"/>
<rect x="152.70" y="393.75" width="3.20" height="3.05" fill="#440154"/>
<rect x="158.50" y="393.75" width="3.20" height="3.05" fill="#440154"/>
<rect x="164.30" y="393.75" width="3.20" height="3.05" fill="#440154"/>
<rect x="94.70" y="396.50" width="3.20" height="3.05" fill="#440154"/>
<rect x="100.50" y="396.50" width="3.20" height="3.05" fill="#440154"/>
<rect x="109.20" y="396.50" width="3.20" height="3.05" fill="#453882"/>
<rect x="112.10" y="396.50" width="3.20" height="3.05" fill="#414487"/>
<rect x="115.00" y="396.50" width="3.20" height="3.05" fill="#3d4e8a"/>
<rect x="117.90" y="396.50" width="3.20" height="3.05" fill="#29798e"/>
<rect x="120.80" y="396.50" width="3.20" height="3.05" fill="#20a386"/>
<rect x="123.70" y="396.50" width="3.20" height="3.05" fill="#3fbc73"/>
<rect x="126.60" y="396.50" width="3.20" height="3.05" fill="#6ccd5a"/>
<rect x="129.50" y="396.50" width="3.20" height="3.05" fill="#75d054"/>
<rect x="132.40" y="396.50" width="3.20" height="3.05" fill="#2cb17e"/>
<rect x="135.30" y="396.50" width="3.20" height="3.05" fill="#26828e"/>
<rect x="138.20" y="396.50" width="3.20" height="3.05" fill="#453882"/>
<rect x="141.10" y="396.50" width="3.20" height="3.05" fill="#482475"/>
<rect x="144.00" y="396.50" width="3.20" height="3.05" fill="#440154"/>
<rect x="88.90" y="399.25" width="3.20" height="3.05" fill="#440154"/>
<rect x="97.60" y="399.25" width="3.20" height="3.05" fill="#440154"/>
<rect x="103.40" y="399.25" width="3.20" height="3.05" fill="#482475"/>
<rect x="106.30" y="399.25" width="3.20" height="3.05" fill="#414487"/>
<rect x="109.20" y="399.25" width="3.20" height="3.05" fill="#34608d"/>
<rect x="112.10" y="399.25" width="3.20" height="3.05" fill="#2d708e"/>
<rect x="115.00" y="399.25" width="3.20" height="3.05" fill="#1f998a"/>
<rect x="117.90" y="399.25" width="3.20" height="3.05" fill="#25ac82"/>
<rect x="120.80" y="399.25" width="3.20" height="3.05" fill="#63cb5f"/>
<rect x="123.70" y="399.25" width="3.20" height="3.05" fill="#81d34d"/>
<rect x="126.60" y="399.25" width="3.20" height="3.05" fill="#6ece58"/>
<rect x="129.50" y="399.25" width="3.20" height="3.05" fill="#25ab82"/>
<rect x="132.40" y="399.25" width="3.20" height="3.05" fill="#287c8e"/>
<rect x="135.30" y="399.25" width="3.20" height="3.05" fill="#414487"/>
<rect x="138.20" y="399.25" width="3.20" height="3.05" fill="#482475"/>
<rect x="144.00" y="399.25" width="3.20" height="3.05" fill="#482475"/>
<rect x="152.70" y="399.25" width="3.20" height="3.05" fill="#440154"/>
<rect x="170.10" y="399.25" width="3.20" height="3.05" fill="#482475"/>
<rect x="86.00" y="402.00" width="3.20" height="3.05" fill="#440154"/>
<rect x="91.80" y="402.00" width="3.20" height="3.05" fill="#440154"/>
<rect x="94.70" y="402.00" width="3.20" height="3.05" fill="#482475"/>
<rect x="100.50" y="402.00" width="3.20" height="3.05" fill="#440154"/>
<rect x="103.40" y="402.00" width="3.20" height="3.05" fill="#482475"/>
<rect x="106.30" y="402.00" width="3.20" height="3.05" fill="#3d4e8a"/>
<rect x="109.20" y="402.00" width="3.20" height="3.05" fill="#2d708e"/>
<rect x="112.10" y="402.00" width="3.20" height="3.05" fill="#1f948c"/>
<rect x="115.00" y="402.00" width="3.20" height="3.05" fill="#46c06f"/>
<rect x="117.90" y="402.00" width="3.20" height="3.05" fill="#7ad151"/>
<rect x="120.80" y="402.00" width="3.20" height="3.05" fill="#a2da37"/>
<rect x="123.70" y="402.00" width="3.20" height="3.05" fill="#69cd5b"/>
<rect x="126.60" y="402.00" width="3.20" height="3.05" fill="#1fa187"/>
<rect x="129.50" y="402.00" width="3.20" height="3.05" fill="#2b748e"/>
<rect x="132.40" y="402.00" width="3.20" height="3.05" fill="#453882"/>
<rect x="135.30" y="402.00" width="3.20" height="3.05" fill="#453882"/>
<rect x="138.20" y="402.00" width="3.20" height="3.05" fill="#440154"/>
<rect x="144.00" y="402.00" width="3.20" height="3.05" fill="#440154"/>
<rect x="149.80" y="402.00" width="3.20" height="3.05" fill="#440154"/>
<rect x="161.40" y="402.00" width="3.20" height="3.05" fill="#482475"/>
<rect x="97.60" y="404.75" width="3.20" height="3.05" fill="#440154"/>
<rect x="103.40" y="404.75" width="3.20" height="3.05" fill="#3d4e8a"/>
<rect x="106.30" y="404.75" width="3.20" height="3.05" fill="#228d8d"/>
<rect x="109.20" y="404.75" width="3.20" height="3.05" fill="#25ab82"/>
<rect x="112.10" y="404.75" width="3.20" height="3.05" fill="#4cc26c"/>
<rect x="115.00" y="404.75" width="3.20" height="3.05" fill="#95d840"/>
<rect x="117.90" y="404.75" width="3.20" height="3.05" fill="#c2df23"/>
<rect x="120.80" y="404.75" width="3.20" height="3.05" fill="#6ece58"/>
<rect x="123.70" y="404.75" width="3.20" height="3.05" fill="#1f978b"/>
<rect x="126.60" y="404.75" width="3.20" height="3.05" fill="#375b8d"/>
<rect x="129.50" y="404.75" width="3.20" height="3.05" fill="#482475"/>
<rect x="132.40" y="404.75" width="3.20" height="3.05" fill="#440154"/>
<rect x="135.30" y="404.75" width="3.20" height="3.05" fill="#440154"/>
<rect x="91.80" y="407.50" width="3.20" height="3.05" fill="#440154"/>
<rect x="94.70" y="407.50" width="3.20" height="3.05" fill="#440154"/>
<rect x="97.60" y="407.50" width="3.20" height="3.05" fill="#440154"/>
<rect x="100.50" y="407.50" width="3.20" height="3.05" fill="#453882"/>
<rect x="103.40" y="407.50" width="3.20" height="3.05" fill="#25848e"/>
<rect x="106.30" y="407.50" width="3.20" height="3.05" fill="#28ae80"/>
<rect x="109.20" y="407.50" width="3.20" height="3.05" fill="#60ca60"/>
<rect x="112.10" y="407.50" width="3.20" height="3.05" fill="#a0da39"/>
<rect x="115.00" y="407.50" width="3.20" height="3.05" fill="#d8e219"/>
<rect x="117.90" y="407.50" width="3.20" height="3.05" fill="#54c568"/>
<rect x="120.80" y="407.50" width="3.20" height="3.05" fill="#24878e"/>
<rect x="123.70" y="407.50" width="3.20" height="3.05" fill="#375b8d"/>
<rect x="126.60" y="407.50" width="3.20" height="3.05" fill="#453882"/>
<rect x="129.50" y="407.50" width="3.20" height="3.05" fill="#440154"/>
<rect x="132.40" y="407.50" width="3.20" height="3.05" fill="#440154"/>
<rect x="138.20" y="407.50" width="3.20" height="3.05" fill="#482475"/>
<rect x="141.10" y="407.50" width="3.20" height="3.05" fill="#482475"/>
<rect x="88.90" y="410.25" width="3.20" height="3.05" fill="#440154"/>
<rect x="97.60" y="410.25" width="3.20" height="3.05" fill="#453882"/>
<rect x="100.50" y="410.25" width="3.20" height="3.05" fill="#34608d"/>
<rect x="103.40" y="410.25" width="3.20" height="3.05" fill="#1e9b8a"/>
<rect x="106.30" y="410.25" width="3.20" height="3.05" fill="#65cb5e"/>
<rect x="109.20" y="410.25" width="3.20" height="3.05" fill="#a0da39"/>
<rect x="112.10" y="410.25" width="3.20" height="3.05" fill="#dfe318"/>
<rect x="115.00" y="410.25" width="3.20" height="3.05" fill="#32b67a"/>
<rect x="117.90" y="410.25" width="3.20" height="3.05" fill="#39558c"/>
<rect x="120.80" y="410.25" width="3.20" height="3.05" fill="#440154"/>
<rect x="132.40" y="410.25" width="3.20" height="3.05" fill="#440154"/>
<rect x="138.20" y="410.25" width="3.20" height="3.05" fill="#440154"/>
<rect x="94.70" y="413.00" width="3.20" height="3.05" fill="#482475"/>
<rect x="97.60" y="413.00" width="3.20" height="3.05" fill="#414487"/>
<rect x="100.50" y="413.00" width="3.20" height="3.05" fill="#238a8d"/>
<rect x="103.40" y="413.00" width="3.20" height="3.05" fill="#40bd72"/>
<rect x="106.30" y="413.00" width="3.20" height="3.05" fill="#98d83e"/>
<rect x="109.20" y="413.00" width="3.20" height="3.05" fill="#e2e418"/>
<rect x="112.10" y="413.00" width="3.20" height="3.05" fill="#20928c"/>
<rect x="115.00" y="413.00" width="3.20" height="3.05" fill="#440154"/>
<rect x="117.90" y="413.00" width="3.20" height="3.05" fill="#440154"/>
<rect x="123.70" y="413.00" width="3.20" height="3.05" fill="#440154"/>
<rect x="71.50" y="415.75" width="3.20" height="3.05" fill="#440154"/>
<rect x="97.60" y="415.75" width="3.20" height="3.05" fill="#375b8d"/>
<rect x="100.50" y="415.75" width="3.20" height="3.05" fill="#21a685"/>
<rect x="103.40" y="415.75" width="3.20" height="3.05" fill="#77d153"/>
<rect x="106.30" y="415.75" width="3.20" height="3.05" fill="#c5e021"/>
<rect x="109.20" y="415.75" width="3.20" height="3.05" fill="#32658e"/>
<rect x="112.10" y="415.75" width="3.20" height="3.05" fill="#440154"/>
<rect x="88.90" y="418.50" width="3.20" height="3.05" fill="#440154"/>
<rect x="91.80" y="418.50" width="3.20" height="3.05" fill="#482475"/>
<rect x="94.70" y="418.50" width="3.20" height="3.05" fill="#440154"/>
<rect x="97.60" y="418.50" width="3.20" height="3.05" fill="#21918c"/>
<rect x="100.50" y="418.50" width="3.20" height="3.05" fill="#3dbc74"/>
<rect x="103.40" y="418.50" width="3.20" height="3.05" fill="#98d83e"/>
<rect x="106.30" y="418.50" width="3.20" height="3.05" fill="#2d708e"/>
<rect x="109.20" y="418.50" width="3.20" height="3.05" fill="#440154"/>
<rect x="138.20" y="418.50" width="3.20" height="3.05" fill="#440154"/>
<rect x="65.70" y="421.25" width="3.20" height="3.05" fill="#440154"/>
<rect x="88.90" y="421.25" width="3.20" height="3.05" fill="#440154"/>
<rect x="91.80" y="421.25" width="3.20" height="3.05" fill="#453882"/>
<rect x="94.70" y="421.25" width="3.20" height="3.05" fill="#453882"/>
<rect x="97.60" y="421.25" width="3.20" height="3.05" fill="#1fa287"/>
<rect x="100.50" y="421.25" width="3.20" height="3.05" fill="#67cc5c"/>
<rect x="103.40" y="421.25" width="3.20" height="3.05" fill="#277e8e"/>
<rect x="106.30" y="421.25" width="3.20" height="3.05" fill="#440154"/>
<rect x="109.20" y="421.25" width="3.20" height="3.05" fill="#440154"/>
<rect x="74.40" y="424.00" width="3.20" height="3.05" fill="#440154"/>
<rect x="77.30" y="424.00" width="3.20" height="3.05" fill="#482475"/>
<rect x="91.80" y="424.00" width="3.20" height="3.05" fill="#440154"/>
<rect x="94.70" y="424.00" width="3.20" height="3.05" fill="#287c8e"/>
<rect x="97.60" y="424.00" width="3.20" height="3.05" fill="#35b779"/>
<rect x="100.50" y="424.00" width="3.20" height="3.05" fill="#26828e"/>
<rect x="103.40" y="424.00" width="3.20" height="3.05" fill="#453882"/>
<rect x="106.30" y="424.00" width="3.20" height="3.05" fill="#440154"/>
<rect x="77.30" y="426.75" width="3.20" height="3.05" fill="#440154"/>
<rect x="86.00" y="426.75" width="3.20" height="3.05" fill="#440154"/>
<rect x="88.90" y="426.75" width="3.20" height="3.05" fill="#453882"/>
<rect x="91.80" y="426.75" width="3.20" height="3.05" fill="#482475"/>
<rect x="94.70" y="426.75" width="3.20" height="3.05" fill="#1f968b"/>
<rect x="97.60" y="426.75" width="3.20" height="3.05" fill="#238a8d"/>
<rect x="100.50" y="426.75" width="3.20" height="3.05" fill="#482475"/>
<rect x="103.40" y="426.75" width="3.20" height="3.05" fill="#482475"/>
<rect x="86.00" y="429.50" width="3.20" height="3.05" fill="#440154"/>
<rect x="88.90" y="429.50" width="3.20" height="3.05" fill="#453882"/>
<rect x="91.80" y="429.50" width="3.20" height="3.05" fill="#287c8e"/>
<rect x="94.70" y="429.50" width="3.20" height="3.05" fill="#228c8d"/>
<rect x="97.60" y="429.50" width="3.20" height="3.05" fill="#414487"/>
<rect x="100.50" y="429.50" width="3.20" height="3.05" fill="#453882"/>
<rect x="83.10" y="432.25" width="3.20" height="3.05" fill="#440154"/>
<rect x="86.00" y="432.25" width="3.20" height="3.05" fill="#482475"/>
<rect x="88.90" y="432.25" width="3.20" height="3.05" fill="#3d4e8a"/>
<rect x="91.80" y="432.25" width="3.20" height="3.05" fill="#26828e"/>
<rect x="94.70" y="432.25" width="3.20" height="3.05" fill="#414487"/>
<rect x="97.60" y="432.25" width="3.20" height="3.05" fill="#482475"/>
<rect x="83.10" y="435.00" width="3.20" height="3.05" fill="#440154"/>
<rect x="86.00" y="435.00" width="3.20" height="3.05" fill="#414487"/>
<rect x="88.90" y="435.00" width="3.20" height="3.05" fill="#2c728e"/>
<rect x="91.80" y="435.00" width="3.20" height="3.05" fill="#453882"/>
<rect x="83.10" y="437.75" width="3.20" height="3.05" fill="#440154"/>
<rect x="86.00" y="437.75" width="3.20" height="3.05" fill="#482475"/>
<rect x="88.90" y="437.75" width="3.20" height="3.05" fill="#440154"/>
<rect x="91.80" y="437.75" width="3.20" height="3.05" fill="#440154"/>
<rect x="97.60" y="437.75" width="3.20" height="3.05" fill="#440154"/>
<rect x="83.10" y="440.50" width="3.20" height="3.05" fill="#440154"/>
<rect x="88.90" y="443.25" width="3.20" height="3.05" fill="#440154"/>
</g>
<path d="M174.4,373.7 L173.7,373.7 L173.0,373.7 L172.3,373.6 L171.6,373.6 L170.9,373.8 L170.2,374.0 L169.5,374.2 L169.4,374.2 L168.7,374.3 L168.0,374.7 L167.6,374.9 L167.3,375.0 L166.6,375.4 L166.4,375.5 L165.9,375.8 L165.2,376.2 L165.2,376.2 L164.5,376.7 L164.2,376.9 L163.7,377.3 L163.4,377.6 L163.0,378.0 L162.7,378.3 L162.3,378.6 L161.9,378.9 L161.6,379.1 L160.9,379.6 L160.9,379.6 L160.2,380.2 L160.1,380.3 L159.5,380.8 L159.2,381.0 L158.7,381.2 L158.2,381.6 L158.0,381.7 L157.3,382.2 L157.1,382.3 L156.6,382.7 L156.2,383.0 L155.9,383.3 L155.4,383.7 L155.2,383.9 L154.7,384.3 L154.5,384.6 L153.9,385.0 L153.7,385.1 L153.1,385.7 L153.0,385.7 L152.3,386.4 L152.3,386.4 L151.6,387.1 L151.6,387.1 L150.9,387.6 L150.8,387.7 L150.2,388.3 L150.1,388.4 L149.5,389.1 L149.4,389.1 L148.9,389.8 L148.7,390.0 L148.4,390.4 L148.0,390.8 L147.8,391.1 L147.3,391.6 L147.1,391.8 L146.6,392.3 L146.5,392.5 L145.9,392.9 L145.6,393.1 L145.2,393.5 L144.6,393.8 L144.5,393.9 L143.7,394.4 L143.6,394.5 L143.0,394.8 L142.5,395.2 L142.3,395.3 L141.6,395.7 L141.3,395.9 L140.9,396.1 L140.2,396.5 L140.2,396.5 L139.5,397.0 L139.2,397.2 L138.7,397.6 L138.4,397.9 L138.0,398.3 L137.7,398.6 L137.3,399.0 L137.0,399.2 L136.6,399.6 L136.3,399.9 L135.9,400.3 L135.5,400.6 L135.2,400.9 L134.8,401.3 L134.5,401.5 L133.9,402.0 L133.7,402.0 L133.0,402.6 L133.0,402.6 L132.3,403.1 L132.1,403.3 L131.6,403.6 L131.1,404.0 L130.9,404.1 L130.2,404.7 L130.2,404.7 L129.5,405.2 L129.3,405.3 L128.7,405.8 L128.4,406.0 L128.0,406.3 L127.5,406.7 L127.3,406.8 L126.6,407.3 L126.5,407.4 L125.9,407.8 L125.4,408.0 L125.2,408.2 L124.5,408.7 L124.4,408.7 L123.8,409.1 L123.2,409.4 L123.0,409.5 L122.3,409.8 L121.9,410.1 L121.6,410.3 L120.9,410.7 L120.8,410.8 L120.2,411.1 L119.7,411.4 L119.5,411.6 L118.8,412.0 L118.7,412.1 L118.0,412.5 L117.6,412.8 L117.3,412.9 L116.6,413.3 L116.4,413.5 L115.9,413.8 L115.4,414.1 L115.2,414.3 L114.6,414.8 L114.5,414.9 L113.8,415.4 L113.6,415.5 L113.0,415.9 L112.7,416.2 L112.3,416.5 L111.8,416.8 L111.6,417.1 L111.1,417.5 L110.9,417.7 L110.4,418.2 L110.2,418.4 L109.6,418.9 L109.5,419.0 L108.9,419.6 L108.8,419.7 L108.3,420.2 L108.0,420.5 L107.6,420.9 L107.3,421.2 L106.9,421.6 L106.6,421.9 L106.2,422.3 L105.9,422.7 L105.7,422.9 L105.2,423.5 L105.1,423.6 L104.5,424.2 L104.4,424.3 L103.8,424.8 L103.6,425.0 L103.0,425.6 L103.0,425.7 L102.3,426.3 L102.3,426.3 L101.6,426.9 L101.4,427.0 L100.9,427.4 L100.6,427.7 L100.2,428.1 L100.0,428.4 L99.5,428.9 L99.2,429.0 L98.8,429.4 L98.0,429.7 L98.0,429.7 L97.3,430.2 L97.1,430.4 L96.6,430.9 L96.3,431.1 L95.9,431.2 L95.2,431.1 L94.9,431.1 L94.7,430.4 L94.9,429.7 L95.0,429.0 L95.1,428.4 L95.2,427.9 L95.2,427.7 L95.4,427.0 L95.6,426.3 L95.8,425.7 L95.9,425.2 L96.0,425.0 L96.3,424.3 L96.6,423.6 L96.6,423.6 L96.8,422.9 L97.1,422.3 L97.3,421.8 L97.4,421.6 L97.7,420.9 L98.0,420.2 L98.0,420.1 L98.3,419.6 L98.6,418.9 L98.8,418.4 L98.9,418.2 L99.2,417.5 L99.4,416.8 L99.5,416.7 L99.7,416.2 L99.9,415.5 L100.1,414.8 L100.2,414.7 L100.4,414.1 L100.8,413.5 L100.9,413.2 L101.1,412.8 L101.6,412.1 L101.6,412.0 L102.0,411.4 L102.3,411.0 L102.5,410.8 L103.0,410.1 L103.0,410.0 L103.5,409.4 L103.8,409.0 L103.9,408.7 L104.5,408.0 L104.5,408.0 L105.0,407.4 L105.2,407.2 L105.6,406.7 L105.9,406.3 L106.1,406.0 L106.6,405.4 L106.7,405.3 L107.2,404.7 L107.3,404.6 L107.9,404.0 L108.0,403.9 L108.8,403.3 L108.8,403.3 L109.5,402.7 L109.5,402.6 L110.2,402.1 L110.3,402.0 L110.9,401.5 L111.2,401.3 L111.6,400.9 L112.1,400.6 L112.3,400.4 L113.0,400.0 L113.1,399.9 L113.8,399.6 L114.3,399.2 L114.5,399.2 L115.2,398.8 L115.7,398.6 L115.9,398.5 L116.6,398.1 L117.0,397.9 L117.3,397.6 L117.9,397.2 L118.0,397.1 L118.8,396.6 L118.9,396.5 L119.5,396.1 L119.8,395.9 L120.2,395.5 L120.6,395.2 L120.9,394.8 L121.2,394.5 L121.6,394.1 L121.8,393.8 L122.3,393.4 L122.6,393.1 L123.0,392.8 L123.6,392.5 L123.8,392.3 L124.5,391.8 L124.5,391.8 L125.2,391.3 L125.4,391.1 L125.9,390.7 L126.3,390.4 L126.6,390.2 L127.2,389.8 L127.3,389.6 L128.0,389.1 L128.1,389.1 L128.7,388.5 L128.8,388.4 L129.5,387.9 L129.6,387.7 L130.2,387.2 L130.4,387.1 L130.9,386.6 L131.3,386.4 L131.6,386.2 L132.3,385.7 L132.4,385.7 L133.0,385.3 L133.6,385.0 L133.7,384.9 L134.5,384.5 L134.7,384.3 L135.2,384.0 L135.8,383.7 L135.9,383.6 L136.6,383.2 L137.0,383.0 L137.3,382.8 L138.0,382.3 L138.0,382.3 L138.7,381.7 L138.8,381.6 L139.5,381.2 L139.7,381.0 L140.2,380.7 L140.8,380.3 L140.9,380.2 L141.6,379.7 L141.7,379.6 L142.3,379.2 L142.7,378.9 L143.0,378.7 L143.6,378.3 L143.7,378.2 L144.5,377.7 L144.6,377.6 L145.2,377.1 L145.5,376.9 L145.9,376.6 L146.3,376.2 L146.6,375.9 L147.0,375.5 L147.3,375.0 L147.4,374.9 L147.8,374.2 L148.0,373.8 L148.2,373.5 L148.6,372.8 L148.7,372.6 L149.0,372.2 L149.4,371.5 L149.5,371.5 L149.9,370.8 L150.2,370.6 L150.9,370.1 L150.9,370.1 L151.6,370.0 L152.3,369.9 L153.0,369.9 L153.7,369.8 L154.5,369.8 L155.2,369.8 L155.9,369.7 L156.6,369.7 L157.3,369.7 L158.0,369.7 L158.7,369.7 L159.5,369.7 L160.2,369.7 L160.9,369.7 L161.6,369.7 L162.3,369.7 L163.0,369.7 L163.7,369.8 L164.5,369.8 L165.2,369.8 L165.9,369.9 L166.6,369.9 L167.3,369.9 L168.0,370.0 L168.7,370.0 L169.5,370.0 L170.2,370.0 L170.9,370.1 L171.6,370.1 L172.3,370.1 L173.0,370.0 L173.7,370.0 L174.4,370.0" fill="none" stroke="#ffffff" stroke-opacity="0.9" stroke-width="1.0"/>
<path d="M101.6,424.0 L100.9,424.0 L100.2,424.0 L99.5,423.9 L99.4,423.6 L99.3,422.9 L99.4,422.3 L99.5,422.1 L99.7,421.6 L100.0,420.9 L100.1,420.2 L100.2,420.1 L100.3,419.6 L100.6,418.9 L100.9,418.2 L100.9,418.1 L101.1,417.5 L101.3,416.8 L101.6,416.2 L101.6,416.1 L101.9,415.5 L102.3,414.8 L102.3,414.7 L102.6,414.1 L103.0,413.5 L103.0,413.5 L103.5,412.8 L103.8,412.3 L103.9,412.1 L104.3,411.4 L104.5,411.2 L104.8,410.8 L105.2,410.2 L105.3,410.1 L105.8,409.4 L105.9,409.3 L106.3,408.7 L106.6,408.4 L106.9,408.0 L107.3,407.5 L107.5,407.4 L108.0,406.8 L108.1,406.7 L108.8,406.1 L108.9,406.0 L109.5,405.6 L109.8,405.3 L110.2,405.0 L110.6,404.7 L110.9,404.5 L111.6,404.0 L111.6,404.0 L112.3,403.4 L112.5,403.3 L113.0,402.9 L113.4,402.6 L113.8,402.4 L114.3,402.0 L114.5,401.9 L115.2,401.4 L115.3,401.3 L115.9,400.9 L116.3,400.6 L116.6,400.4 L117.3,400.0 L117.5,399.9 L118.0,399.6 L118.7,399.2 L118.8,399.2 L119.5,398.8 L119.8,398.6 L120.2,398.3 L120.7,397.9 L120.9,397.7 L121.5,397.2 L121.6,397.1 L122.3,396.5 L122.3,396.5 L123.0,396.0 L123.3,395.9 L123.8,395.5 L124.2,395.2 L124.5,394.9 L125.1,394.5 L125.2,394.4 L125.9,393.9 L126.1,393.8 L126.6,393.4 L127.0,393.1 L127.3,392.9 L127.9,392.5 L128.0,392.4 L128.7,391.8 L128.7,391.8 L129.5,391.2 L129.5,391.1 L130.2,390.5 L130.3,390.4 L130.9,389.8 L131.0,389.8 L131.6,389.3 L131.9,389.1 L132.3,388.8 L132.8,388.4 L133.0,388.2 L133.6,387.7 L133.7,387.6 L134.5,387.1 L134.5,387.1 L135.2,386.7 L135.7,386.4 L135.9,386.2 L136.6,385.8 L136.8,385.7 L137.3,385.4 L137.9,385.0 L138.0,384.9 L138.7,384.3 L138.7,384.3 L139.5,383.8 L139.6,383.7 L140.2,383.4 L140.8,383.0 L140.9,383.0 L141.6,382.5 L141.8,382.3 L142.3,381.9 L142.6,381.6 L143.0,381.4 L143.7,381.0 L143.8,381.0 L144.5,380.6 L145.0,380.3 L145.2,380.1 L145.9,379.7 L146.1,379.6 L146.6,379.3 L147.0,378.9 L147.3,378.7 L147.8,378.3 L148.0,378.1 L148.7,377.6 L148.7,377.6 L149.5,377.1 L149.8,376.9 L150.2,376.5 L150.5,376.2 L150.9,375.6 L151.0,375.5 L151.5,374.9 L151.6,374.6 L152.0,374.2 L152.3,373.8 L152.5,373.5 L153.0,373.0 L153.2,372.8 L153.7,372.6 L154.5,372.3 L155.2,372.2 L155.2,372.2 L155.9,372.0 L156.6,371.9 L157.3,371.9 L158.0,371.9 L158.7,372.0 L159.5,372.0 L160.2,372.1 L160.5,372.2 L160.9,372.2 L161.6,372.4 L162.3,372.6 L163.0,372.8 L162.8,373.5 L162.3,373.8 L161.6,374.1 L161.5,374.2 L160.9,374.6 L160.5,374.9 L160.2,375.1 L159.7,375.5 L159.5,375.7 L158.9,376.2 L158.7,376.3 L158.1,376.9 L158.0,377.0 L157.5,377.6 L157.3,377.8 L157.0,378.3 L156.6,378.6 L156.2,378.9 L155.9,379.1 L155.3,379.6 L155.2,379.7 L154.5,380.3 L154.5,380.4 L153.9,381.0 L153.7,381.1 L153.2,381.6 L153.0,381.8 L152.5,382.3 L152.3,382.5 L151.9,383.0 L151.6,383.4 L151.3,383.7 L150.9,384.2 L150.7,384.3 L150.2,384.7 L149.9,385.0 L149.5,385.4 L149.2,385.7 L148.7,386.3 L148.7,386.4 L148.1,387.1 L148.0,387.2 L147.3,387.7 L147.3,387.8 L146.7,388.4 L146.6,388.5 L146.1,389.1 L145.9,389.3 L145.5,389.8 L145.2,390.1 L144.7,390.4 L144.5,390.7 L143.9,391.1 L143.7,391.3 L143.2,391.8 L143.0,392.0 L142.5,392.5 L142.3,392.6 L141.6,393.0 L141.3,393.1 L140.9,393.4 L140.3,393.8 L140.2,393.9 L139.5,394.4 L139.4,394.5 L138.7,395.0 L138.6,395.2 L138.0,395.6 L137.7,395.9 L137.3,396.2 L136.9,396.5 L136.6,396.8 L136.2,397.2 L135.9,397.5 L135.5,397.9 L135.2,398.2 L134.8,398.6 L134.5,398.9 L134.0,399.2 L133.7,399.5 L133.2,399.9 L133.0,400.1 L132.5,400.6 L132.3,400.8 L131.7,401.3 L131.6,401.3 L130.9,401.8 L130.7,402.0 L130.2,402.4 L129.8,402.6 L129.5,402.9 L129.1,403.3 L128.7,403.6 L128.2,404.0 L128.0,404.1 L127.3,404.6 L127.3,404.7 L126.6,405.2 L126.4,405.3 L125.9,405.8 L125.7,406.0 L125.2,406.4 L124.7,406.7 L124.5,406.8 L123.8,407.3 L123.7,407.4 L123.0,407.8 L122.6,408.0 L122.3,408.2 L121.7,408.7 L121.6,408.8 L120.9,409.2 L120.6,409.4 L120.2,409.6 L119.5,410.1 L119.5,410.1 L118.8,410.5 L118.4,410.8 L118.0,411.0 L117.5,411.4 L117.3,411.5 L116.6,412.0 L116.5,412.1 L115.9,412.4 L115.3,412.8 L115.2,412.9 L114.5,413.4 L114.4,413.5 L113.8,414.0 L113.5,414.1 L113.0,414.5 L112.6,414.8 L112.3,415.0 L111.7,415.5 L111.6,415.5 L110.9,416.1 L110.8,416.2 L110.2,416.7 L110.0,416.8 L109.5,417.3 L109.2,417.5 L108.8,418.0 L108.5,418.2 L108.0,418.6 L107.7,418.9 L107.3,419.2 L106.9,419.6 L106.6,419.8 L106.2,420.2 L105.9,420.5 L105.5,420.9 L105.2,421.3 L104.7,421.6 L104.5,421.8 L103.8,422.3 L103.8,422.3 L103.1,422.9 L103.0,423.0 L102.3,423.6 L102.3,423.6 L101.6,424.0" fill="none" stroke="#ffffff" stroke-opacity="0.9" stroke-width="1.0"/>
<path d="M105.2,418.2 L104.5,418.3 L104.4,418.2 L104.1,417.5 L104.0,416.8 L104.3,416.2 L104.5,415.8 L104.6,415.5 L104.9,414.8 L105.2,414.1 L105.2,414.1 L105.7,413.5 L105.9,413.3 L106.2,412.8 L106.6,412.1 L106.6,412.0 L106.9,411.4 L107.3,410.9 L107.4,410.8 L108.0,410.1 L108.0,410.0 L108.6,409.4 L108.8,409.3 L109.3,408.7 L109.5,408.5 L110.1,408.0 L110.2,407.9 L110.9,407.4 L110.9,407.4 L111.6,406.9 L111.9,406.7 L112.3,406.3 L112.7,406.0 L113.0,405.8 L113.7,405.3 L113.8,405.3 L114.5,404.8 L114.7,404.7 L115.2,404.3 L115.5,404.0 L115.9,403.7 L116.3,403.3 L116.6,403.1 L117.3,402.7 L117.5,402.6 L118.0,402.4 L118.7,402.0 L118.8,401.9 L119.5,401.5 L119.8,401.3 L120.2,401.1 L120.8,400.6 L120.9,400.5 L121.6,400.1 L121.9,399.9 L122.3,399.7 L123.0,399.3 L123.2,399.2 L123.8,398.9 L124.2,398.6 L124.5,398.4 L124.9,397.9 L125.2,397.7 L125.9,397.4 L126.3,397.2 L126.6,397.0 L127.3,396.6 L127.4,396.5 L128.0,396.0 L128.4,395.9 L128.7,395.7 L129.3,395.2 L129.5,395.1 L130.2,394.7 L130.4,394.5 L130.9,394.1 L131.6,393.9 L131.9,393.8 L132.3,393.7 L133.0,393.1 L133.0,393.1 L133.4,392.5 L133.7,392.2 L134.5,392.1 L135.2,392.1 L135.9,392.1 L136.6,392.4 L136.6,392.5 L136.6,392.5 L135.9,392.6 L135.2,392.9 L134.9,393.1 L134.6,393.8 L134.5,394.4 L134.4,394.5 L134.3,395.2 L133.7,395.7 L133.4,395.9 L133.0,396.1 L132.6,396.5 L132.3,396.9 L132.2,397.2 L131.9,397.9 L131.6,398.1 L131.1,398.6 L130.9,398.7 L130.2,399.1 L130.0,399.2 L129.5,399.8 L129.3,399.9 L128.9,400.6 L128.7,400.7 L128.1,401.3 L128.0,401.3 L127.3,401.7 L126.9,402.0 L126.6,402.3 L126.3,402.6 L125.9,403.2 L125.8,403.3 L125.2,403.9 L125.0,404.0 L124.5,404.3 L124.0,404.7 L123.8,404.9 L123.3,405.3 L123.0,405.7 L122.8,406.0 L122.3,406.4 L121.7,406.7 L121.6,406.7 L120.9,407.1 L120.6,407.4 L120.2,407.7 L119.7,408.0 L119.5,408.3 L119.0,408.7 L118.8,408.9 L118.0,409.3 L117.8,409.4 L117.3,409.7 L116.8,410.1 L116.6,410.2 L115.9,410.6 L115.7,410.8 L115.2,411.2 L115.0,411.4 L114.5,411.8 L114.1,412.1 L113.8,412.3 L113.0,412.7 L112.8,412.8 L112.3,413.1 L111.9,413.5 L111.6,413.7 L111.3,414.1 L110.9,414.5 L110.4,414.8 L110.2,414.9 L109.5,415.2 L109.0,415.5 L108.8,415.7 L108.3,416.2 L108.0,416.5 L107.7,416.8 L107.3,417.1 L106.6,417.3 L106.2,417.5 L105.9,417.7 L105.2,418.2 L105.2,418.2" fill="none" stroke="#ffffff" stroke-opacity="0.9" stroke-width="1.0"/>
<line x1="31.10" y1="489.70" x2="175.80" y2="355.00" stroke="#2a2a2a" stroke-width="1.1" stroke-dasharray="3.2,2.2"/>
<rect x="31.10" y="328.60" width="144.70" height="26.40" fill="none" stroke="#808080" stroke-width="1"/>
<rect x="175.80" y="355.00" width="30.50" height="134.70" fill="none" stroke="#808080" stroke-width="1"/>
<rect x="31.10" y="355.00" width="144.70" height="134.70" fill="none" stroke="#808080" stroke-width="1"/>
<line x1="49.74" y1="489.70" x2="49.74" y2="492.20" stroke="#808080" stroke-width="0.8"/>
<line x1="49.74" y1="355.00" x2="49.74" y2="357.00" stroke="#808080" stroke-width="0.8"/>
<text x="49.7" y="500.4" font-family='"Liberation Sans", sans-serif' font-size="8.4" text-anchor="middle" fill="#1e1e1e" stroke="#1e1e1e" stroke-width="0.18" style="" textLength="11.2" lengthAdjust="spacingAndGlyphs">−8</text>
<line x1="77.14" y1="489.70" x2="77.14" y2="492.20" stroke="#808080" stroke-width="0.8"/>
<line x1="77.14" y1="355.00" x2="77.14" y2="357.00" stroke="#808080" stroke-width="0.8"/>
<text x="77.1" y="500.4" font-family='"Liberation Sans", sans-serif' font-size="8.4" text-anchor="middle" fill="#1e1e1e" stroke="#1e1e1e" stroke-width="0.18" style="" textLength="11.2" lengthAdjust="spacingAndGlyphs">−6</text>
<line x1="104.55" y1="489.70" x2="104.55" y2="492.20" stroke="#808080" stroke-width="0.8"/>
<line x1="104.55" y1="355.00" x2="104.55" y2="357.00" stroke="#808080" stroke-width="0.8"/>
<text x="104.5" y="500.4" font-family='"Liberation Sans", sans-serif' font-size="8.4" text-anchor="middle" fill="#1e1e1e" stroke="#1e1e1e" stroke-width="0.18" style="" textLength="11.2" lengthAdjust="spacingAndGlyphs">−4</text>
<line x1="131.95" y1="489.70" x2="131.95" y2="492.20" stroke="#808080" stroke-width="0.8"/>
<line x1="131.95" y1="355.00" x2="131.95" y2="357.00" stroke="#808080" stroke-width="0.8"/>
<text x="132.0" y="500.4" font-family='"Liberation Sans", sans-serif' font-size="8.4" text-anchor="middle" fill="#1e1e1e" stroke="#1e1e1e" stroke-width="0.18" style="" textLength="11.2" lengthAdjust="spacingAndGlyphs">−2</text>
<line x1="159.36" y1="489.70" x2="159.36" y2="492.20" stroke="#808080" stroke-width="0.8"/>
<line x1="159.36" y1="355.00" x2="159.36" y2="357.00" stroke="#808080" stroke-width="0.8"/>
<text x="159.4" y="500.4" font-family='"Liberation Sans", sans-serif' font-size="8.4" text-anchor="middle" fill="#1e1e1e" stroke="#1e1e1e" stroke-width="0.18" style="" textLength="4.4" lengthAdjust="spacingAndGlyphs">0</text>
<line x1="28.60" y1="472.81" x2="31.10" y2="472.81" stroke="#808080" stroke-width="0.8"/>
<text x="27.3" y="475.6" font-family='"Liberation Sans", sans-serif' font-size="8.4" text-anchor="end" fill="#1e1e1e" stroke="#1e1e1e" stroke-width="0.18" style="" textLength="11.2" lengthAdjust="spacingAndGlyphs">−8</text>
<line x1="28.60" y1="447.42" x2="31.10" y2="447.42" stroke="#808080" stroke-width="0.8"/>
<text x="27.3" y="450.2" font-family='"Liberation Sans", sans-serif' font-size="8.4" text-anchor="end" fill="#1e1e1e" stroke="#1e1e1e" stroke-width="0.18" style="" textLength="11.2" lengthAdjust="spacingAndGlyphs">−6</text>
<line x1="28.60" y1="422.03" x2="31.10" y2="422.03" stroke="#808080" stroke-width="0.8"/>
<text x="27.3" y="424.8" font-family='"Liberation Sans", sans-serif' font-size="8.4" text-anchor="end" fill="#1e1e1e" stroke="#1e1e1e" stroke-width="0.18" style="" textLength="11.2" lengthAdjust="spacingAndGlyphs">−4</text>
<line x1="28.60" y1="396.64" x2="31.10" y2="396.64" stroke="#808080" stroke-width="0.8"/>
<text x="27.3" y="399.4" font-family='"Liberation Sans", sans-serif' font-size="8.4" text-anchor="end" fill="#1e1e1e" stroke="#1e1e1e" stroke-width="0.18" style="" textLength="11.2" lengthAdjust="spacingAndGlyphs">−2</text>
<line x1="28.60" y1="371.25" x2="31.10" y2="371.25" stroke="#808080" stroke-width="0.8"/>
<text x="27.3" y="374.1" font-family='"Liberation Sans", sans-serif' font-size="8.4" text-anchor="end" fill="#1e1e1e" stroke="#1e1e1e" stroke-width="0.18" style="" textLength="4.4" lengthAdjust="spacingAndGlyphs">0</text>
<line x1="28.60" y1="329.30" x2="31.10" y2="329.30" stroke="#808080" stroke-width="0.8"/>
<line x1="28.60" y1="354.30" x2="31.10" y2="354.30" stroke="#808080" stroke-width="0.8"/>
<line x1="199.40" y1="489.70" x2="199.40" y2="492.20" stroke="#808080" stroke-width="0.8"/>
<path d="M31.1,354.5 C40.7,354.5 77.3,354.6 88.5,354.5 C99.7,354.4 95.8,354.5 98.2,353.6 C100.6,352.7 101.5,351.6 103.1,349.2 C104.7,346.8 106.3,342.4 107.9,339.5 C109.5,336.6 111.2,333.5 112.7,331.8 C114.2,330.1 115.7,329.5 117.1,329.4 C118.5,329.3 119.5,329.8 121.2,331.1 C122.9,332.4 125.1,334.9 127.3,337.1 C129.5,339.3 132.1,342.5 134.5,344.4 C136.9,346.3 138.6,347.5 141.8,348.5 C145.0,349.5 149.9,349.8 153.9,350.4 C157.9,351.0 162.4,351.7 166.0,352.4 C169.6,353.1 174.1,354.1 175.7,354.5" fill="none" stroke="#404040" stroke-width="1.15" stroke-dasharray="3.3,1.8"/>
<path d="M176.2,355.2 C176.2,356.7 175.8,361.8 176.2,364.0 C176.6,366.2 177.6,367.0 178.4,368.2 C179.2,369.4 181.0,370.1 181.2,371.0 C181.4,371.9 180.3,372.8 179.8,373.7 C179.3,374.6 178.3,374.6 178.4,376.5 C178.5,378.4 179.4,381.9 180.6,384.9 C181.8,387.9 183.4,391.9 185.4,394.7 C187.4,397.5 189.8,399.8 192.4,401.7 C195.0,403.6 198.7,404.5 200.8,405.9 C202.9,407.3 205.0,408.8 205.0,410.1 C205.0,411.4 203.4,412.8 200.8,413.7 C198.2,414.6 193.1,415.0 189.6,415.7 C186.1,416.4 181.9,416.5 179.8,417.6 C177.7,418.8 177.6,419.9 177.0,422.6 C176.4,425.3 176.3,422.6 176.2,433.8 C176.1,445.0 176.2,480.4 176.2,489.7" fill="none" stroke="#404040" stroke-width="1.15" stroke-dasharray="4.6,1.4,1.2,1.4"/>
<rect x="36.10" y="334.10" width="52.80" height="14.10" fill="#ffffff" stroke="#dcdcdc" stroke-width="1" rx="2.5"/>
<line x1="39.30" y1="340.60" x2="57.00" y2="340.60" stroke="#333" stroke-width="1.3" stroke-dasharray="3.2,1.6"/>
<text x="64.9" y="344.2" font-family='"Liberation Serif", serif' font-size="9.5" text-anchor="start" fill="#1e1e1e" stroke="#1e1e1e" stroke-width="0.21" style="" textLength="20.1" lengthAdjust="spacingAndGlyphs">SAM</text>
<rect x="180.90" y="340.90" width="53.90" height="13.90" fill="#ffffff" stroke="#dcdcdc" stroke-width="1" rx="2.5"/>
<line x1="183.90" y1="347.20" x2="201.80" y2="347.20" stroke="#333" stroke-width="1.3" stroke-dasharray="4.2,1.2,1,1.2"/>
<text x="209.9" y="350.3" font-family='"Liberation Serif", serif' font-size="9.5" text-anchor="start" fill="#1e1e1e" stroke="#1e1e1e" stroke-width="0.21" style="" textLength="21.5" lengthAdjust="spacingAndGlyphs">GNN</text>
<rect x="214.30" y="355.50" width="4.30" height="134.00" fill="url(#vir)"/>
<line x1="218.60" y1="489.50" x2="221.10" y2="489.50" stroke="#444" stroke-width="0.8"/>
<text x="223.6" y="494.0" font-family='"Liberation Serif", serif' font-size="13" text-anchor="start" fill="#1e1e1e" stroke="#1e1e1e" stroke-width="0.29" style="" textLength="12.2" lengthAdjust="spacingAndGlyphs">10</text>
<text x="236.8" y="489.8" font-family='"Liberation Serif", serif' font-size="9.1" text-anchor="start" fill="#1e1e1e" stroke="#1e1e1e" stroke-width="0.20" style="" textLength="4.0" lengthAdjust="spacingAndGlyphs">0</text>
<line x1="218.60" y1="475.92" x2="220.00" y2="475.92" stroke="#444" stroke-width="0.6"/>
<line x1="218.60" y1="467.97" x2="220.00" y2="467.97" stroke="#444" stroke-width="0.6"/>
<line x1="218.60" y1="462.34" x2="220.00" y2="462.34" stroke="#444" stroke-width="0.6"/>
<line x1="218.60" y1="457.96" x2="220.00" y2="457.96" stroke="#444" stroke-width="0.6"/>
<line x1="218.60" y1="454.39" x2="220.00" y2="454.39" stroke="#444" stroke-width="0.6"/>
<line x1="218.60" y1="451.37" x2="220.00" y2="451.37" stroke="#444" stroke-width="0.6"/>
<line x1="218.60" y1="448.75" x2="220.00" y2="448.75" stroke="#444" stroke-width="0.6"/>
<line x1="218.60" y1="446.45" x2="220.00" y2="446.45" stroke="#444" stroke-width="0.6"/>
<line x1="218.60" y1="444.38" x2="221.10" y2="444.38" stroke="#444" stroke-width="0.8"/>
<text x="223.6" y="448.9" font-family='"Liberation Serif", serif' font-size="13" text-anchor="start" fill="#1e1e1e" stroke="#1e1e1e" stroke-width="0.29" style="" textLength="12.2" lengthAdjust="spacingAndGlyphs">10</text>
<text x="236.8" y="444.7" font-family='"Liberation Serif", serif' font-size="9.1" text-anchor="start" fill="#1e1e1e" stroke="#1e1e1e" stroke-width="0.20" style="" textLength="4.0" lengthAdjust="spacingAndGlyphs">1</text>
<line x1="218.60" y1="430.80" x2="220.00" y2="430.80" stroke="#444" stroke-width="0.6"/>
<line x1="218.60" y1="422.86" x2="220.00" y2="422.86" stroke="#444" stroke-width="0.6"/>
<line x1="218.60" y1="417.22" x2="220.00" y2="417.22" stroke="#444" stroke-width="0.6"/>
<line x1="218.60" y1="412.85" x2="220.00" y2="412.85" stroke="#444" stroke-width="0.6"/>
<line x1="218.60" y1="409.27" x2="220.00" y2="409.27" stroke="#444" stroke-width="0.6"/>
<line x1="218.60" y1="406.25" x2="220.00" y2="406.25" stroke="#444" stroke-width="0.6"/>
<line x1="218.60" y1="403.64" x2="220.00" y2="403.64" stroke="#444" stroke-width="0.6"/>
<line x1="218.60" y1="401.33" x2="220.00" y2="401.33" stroke="#444" stroke-width="0.6"/>
<line x1="218.60" y1="399.26" x2="221.10" y2="399.26" stroke="#444" stroke-width="0.8"/>
<text x="223.6" y="403.8" font-family='"Liberation Serif", serif' font-size="13" text-anchor="start" fill="#1e1e1e" stroke="#1e1e1e" stroke-width="0.29" style="" textLength="12.2" lengthAdjust="spacingAndGlyphs">10</text>
<text x="236.8" y="399.6" font-family='"Liberation Serif", serif' font-size="9.1" text-anchor="start" fill="#1e1e1e" stroke="#1e1e1e" stroke-width="0.20" style="" textLength="4.0" lengthAdjust="spacingAndGlyphs">2</text>
<line x1="218.60" y1="385.68" x2="220.00" y2="385.68" stroke="#444" stroke-width="0.6"/>
<line x1="218.60" y1="377.74" x2="220.00" y2="377.74" stroke="#444" stroke-width="0.6"/>
<line x1="218.60" y1="372.10" x2="220.00" y2="372.10" stroke="#444" stroke-width="0.6"/>
<line x1="218.60" y1="367.73" x2="220.00" y2="367.73" stroke="#444" stroke-width="0.6"/>
<line x1="218.60" y1="364.16" x2="220.00" y2="364.16" stroke="#444" stroke-width="0.6"/>
<line x1="218.60" y1="361.14" x2="220.00" y2="361.14" stroke="#444" stroke-width="0.6"/>
<line x1="218.60" y1="358.52" x2="220.00" y2="358.52" stroke="#444" stroke-width="0.6"/>
<line x1="218.60" y1="356.21" x2="220.00" y2="356.21" stroke="#444" stroke-width="0.6"/>
<text x="55.8" y="324.5" font-family='"Liberation Serif", serif' font-size="14.5" text-anchor="start" fill="#1e1e1e" stroke="#1e1e1e" stroke-width="0.32" style="" textLength="66.1" lengthAdjust="spacingAndGlyphs">SAM-GNN</text>
<text x="127.4" y="324.5" font-family='"Liberation Sans", sans-serif' font-size="12.2" text-anchor="start" fill="#1e1e1e" stroke="#1e1e1e" stroke-width="0.27" style="font-style:italic;" textLength="23.2" lengthAdjust="spacingAndGlyphs">SFR</text>
<text x="76.8" y="513.3" font-family='"Liberation Serif", serif' font-size="14" text-anchor="start" fill="#1e1e1e" stroke="#1e1e1e" stroke-width="0.31" style="" textLength="28.2" lengthAdjust="spacingAndGlyphs">SAM</text>
<text x="108.5" y="513.3" font-family='"Liberation Sans", sans-serif' font-size="12.2" text-anchor="start" fill="#1e1e1e" stroke="#1e1e1e" stroke-width="0.27" style="font-style:italic;" textLength="22.5" lengthAdjust="spacingAndGlyphs">SFR</text>
<g transform="translate(10.0,0) rotate(-90)">
<text x="-449.3" y="0.0" font-family='"Liberation Serif", serif' font-size="14" text-anchor="start" fill="#1e1e1e" stroke="#1e1e1e" stroke-width="0.31" style="" textLength="28.4" lengthAdjust="spacingAndGlyphs">GNN</text>
<text x="-417.8" y="0.0" font-family='"Liberation Sans", sans-serif' font-size="12.2" text-anchor="start" fill="#1e1e1e" stroke="#1e1e1e" stroke-width="0.27" style="font-style:italic;" textLength="22.9" lengthAdjust="spacingAndGlyphs">SFR</text>
</g>
<text x="96.5" y="462.4" font-family='"Liberation Serif", serif' font-size="10.3" text-anchor="start" fill="#1e1e1e" stroke="#1e1e1e" stroke-width="0.23" style="" textLength="76.4" lengthAdjust="spacingAndGlyphs">Bias : 0.025 dex</text>
<text x="96.5" y="471.9" font-family='"Liberation Sans", sans-serif' font-size="10.3" text-anchor="start" fill="#1e1e1e" stroke="#1e1e1e" stroke-width="0.23" style="font-style:italic;">σ</text>
<text x="102.2" y="471.9" font-family='"Liberation Serif", serif' font-size="10.3" text-anchor="start" fill="#1e1e1e" stroke="#1e1e1e" stroke-width="0.23" style="" textLength="56.5" lengthAdjust="spacingAndGlyphs"> : 0.353 dex</text>
<text x="96.5" y="481.4" font-family='"Liberation Serif", serif' font-size="10.3" text-anchor="start" fill="#1e1e1e" stroke="#1e1e1e" stroke-width="0.23" style="" textLength="74.6" lengthAdjust="spacingAndGlyphs">Pearson:  0.936</text>
<g shape-rendering="crispEdges">
<rect x="356.40" y="369.00" width="3.20" height="3.05" fill="#440154"/>
<rect x="397.00" y="369.00" width="3.20" height="3.05" fill="#440154"/>
<rect x="405.70" y="369.00" width="3.20" height="3.05" fill="#2cb17e"/>
<rect x="408.60" y="369.00" width="3.20" height="3.05" fill="#29af7f"/>
<rect x="411.50" y="369.00" width="3.20" height="3.05" fill="#2ab07f"/>
<rect x="414.40" y="369.00" width="3.20" height="3.05" fill="#32b67a"/>
<rect x="417.30" y="369.00" width="3.20" height="3.05" fill="#2fb47c"/>
<rect x="420.20" y="369.00" width="3.20" height="3.05" fill="#27ad81"/>
<rect x="423.10" y="369.00" width="3.20" height="3.05" fill="#25ab82"/>
<rect x="426.00" y="369.00" width="3.20" height="3.05" fill="#34b679"/>
<rect x="428.90" y="369.00" width="3.20" height="3.05" fill="#2eb37c"/>
<rect x="431.80" y="369.00" width="3.00" height="3.05" fill="#35b779"/>
<rect x="330.30" y="371.75" width="3.20" height="3.05" fill="#440154"/>
<rect x="402.80" y="371.75" width="3.20" height="3.05" fill="#453781"/>
<rect x="405.70" y="371.75" width="3.20" height="3.05" fill="#3d4d8a"/>
<rect x="408.60" y="371.75" width="3.20" height="3.05" fill="#29798e"/>
<rect x="411.50" y="371.75" width="3.20" height="3.05" fill="#20928c"/>
<rect x="414.40" y="371.75" width="3.20" height="3.05" fill="#1f9e89"/>
<rect x="417.30" y="371.75" width="3.20" height="3.05" fill="#1f998a"/>
<rect x="420.20" y="371.75" width="3.20" height="3.05" fill="#21918c"/>
<rect x="423.10" y="371.75" width="3.20" height="3.05" fill="#218f8d"/>
<rect x="426.00" y="371.75" width="3.20" height="3.05" fill="#2b748e"/>
<rect x="428.90" y="371.75" width="3.20" height="3.05" fill="#2b748e"/>
<rect x="431.80" y="371.75" width="3.00" height="3.05" fill="#2f6c8e"/>
<rect x="341.90" y="374.50" width="3.20" height="3.05" fill="#440154"/>
<rect x="397.00" y="374.50" width="3.20" height="3.05" fill="#482475"/>
<rect x="399.90" y="374.50" width="3.20" height="3.05" fill="#414487"/>
<rect x="402.80" y="374.50" width="3.20" height="3.05" fill="#482475"/>
<rect x="405.70" y="374.50" width="3.20" height="3.05" fill="#2a768e"/>
<rect x="408.60" y="374.50" width="3.20" height="3.05" fill="#1f9a8a"/>
<rect x="411.50" y="374.50" width="3.20" height="3.05" fill="#21a585"/>
<rect x="414.40" y="374.50" width="3.20" height="3.05" fill="#1fa088"/>
<rect x="417.30" y="374.50" width="3.20" height="3.05" fill="#20928c"/>
<rect x="420.20" y="374.50" width="3.20" height="3.05" fill="#2c718e"/>
<rect x="423.10" y="374.50" width="3.20" height="3.05" fill="#2c718e"/>
<rect x="426.00" y="374.50" width="3.20" height="3.05" fill="#482475"/>
<rect x="428.90" y="374.50" width="3.20" height="3.05" fill="#3a548c"/>
<rect x="431.80" y="374.50" width="3.00" height="3.05" fill="#482475"/>
<rect x="312.90" y="377.25" width="3.20" height="3.05" fill="#440154"/>
<rect x="368.00" y="377.25" width="3.20" height="3.05" fill="#440154"/>
<rect x="385.40" y="377.25" width="3.20" height="3.05" fill="#440154"/>
<rect x="394.10" y="377.25" width="3.20" height="3.05" fill="#440154"/>
<rect x="397.00" y="377.25" width="3.20" height="3.05" fill="#414487"/>
<rect x="399.90" y="377.25" width="3.20" height="3.05" fill="#2a768e"/>
<rect x="402.80" y="377.25" width="3.20" height="3.05" fill="#26818e"/>
<rect x="405.70" y="377.25" width="3.20" height="3.05" fill="#20a486"/>
<rect x="408.60" y="377.25" width="3.20" height="3.05" fill="#25ac82"/>
<rect x="411.50" y="377.25" width="3.20" height="3.05" fill="#1f9f88"/>
<rect x="414.40" y="377.25" width="3.20" height="3.05" fill="#1f978b"/>
<rect x="417.30" y="377.25" width="3.20" height="3.05" fill="#277f8e"/>
<rect x="420.20" y="377.25" width="3.20" height="3.05" fill="#3d4d8a"/>
<rect x="423.10" y="377.25" width="3.20" height="3.05" fill="#414487"/>
<rect x="428.90" y="377.25" width="3.20" height="3.05" fill="#440154"/>
<rect x="431.80" y="377.25" width="3.00" height="3.05" fill="#440154"/>
<rect x="388.30" y="380.00" width="3.20" height="3.05" fill="#482475"/>
<rect x="391.20" y="380.00" width="3.20" height="3.05" fill="#482475"/>
<rect x="394.10" y="380.00" width="3.20" height="3.05" fill="#3a548c"/>
<rect x="397.00" y="380.00" width="3.20" height="3.05" fill="#297b8e"/>
<rect x="399.90" y="380.00" width="3.20" height="3.05" fill="#1f958b"/>
<rect x="402.80" y="380.00" width="3.20" height="3.05" fill="#25ab82"/>
<rect x="405.70" y="380.00" width="3.20" height="3.05" fill="#2fb47c"/>
<rect x="408.60" y="380.00" width="3.20" height="3.05" fill="#1e9c89"/>
<rect x="411.50" y="380.00" width="3.20" height="3.05" fill="#25838e"/>
<rect x="414.40" y="380.00" width="3.20" height="3.05" fill="#26818e"/>
<rect x="417.30" y="380.00" width="3.20" height="3.05" fill="#32648e"/>
<rect x="420.20" y="380.00" width="3.20" height="3.05" fill="#414487"/>
<rect x="423.10" y="380.00" width="3.20" height="3.05" fill="#440154"/>
<rect x="426.00" y="380.00" width="3.20" height="3.05" fill="#453781"/>
<rect x="428.90" y="380.00" width="3.20" height="3.05" fill="#482475"/>
<rect x="333.20" y="382.75" width="3.20" height="3.05" fill="#440154"/>
<rect x="341.90" y="382.75" width="3.20" height="3.05" fill="#440154"/>
<rect x="350.60" y="382.75" width="3.20" height="3.05" fill="#440154"/>
<rect x="376.70" y="382.75" width="3.20" height="3.05" fill="#440154"/>
<rect x="379.60" y="382.75" width="3.20" height="3.05" fill="#440154"/>
<rect x="388.30" y="382.75" width="3.20" height="3.05" fill="#414487"/>
<rect x="391.20" y="382.75" width="3.20" height="3.05" fill="#3d4d8a"/>
<rect x="394.10" y="382.75" width="3.20" height="3.05" fill="#2f6c8e"/>
<rect x="397.00" y="382.75" width="3.20" height="3.05" fill="#1f9f88"/>
<rect x="399.90" y="382.75" width="3.20" height="3.05" fill="#2ab07f"/>
<rect x="402.80" y="382.75" width="3.20" height="3.05" fill="#2eb37c"/>
<rect x="405.70" y="382.75" width="3.20" height="3.05" fill="#22a785"/>
<rect x="408.60" y="382.75" width="3.20" height="3.05" fill="#20928c"/>
<rect x="411.50" y="382.75" width="3.20" height="3.05" fill="#2c718e"/>
<rect x="414.40" y="382.75" width="3.20" height="3.05" fill="#482475"/>
<rect x="417.30" y="382.75" width="3.20" height="3.05" fill="#453781"/>
<rect x="431.80" y="382.75" width="3.00" height="3.05" fill="#440154"/>
<rect x="289.90" y="385.50" width="3.00" height="3.05" fill="#440154"/>
<rect x="333.20" y="385.50" width="3.20" height="3.05" fill="#440154"/>
<rect x="370.90" y="385.50" width="3.20" height="3.05" fill="#440154"/>
<rect x="373.80" y="385.50" width="3.20" height="3.05" fill="#440154"/>
<rect x="376.70" y="385.50" width="3.20" height="3.05" fill="#440154"/>
<rect x="379.60" y="385.50" width="3.20" height="3.05" fill="#453781"/>
<rect x="382.50" y="385.50" width="3.20" height="3.05" fill="#482475"/>
<rect x="385.40" y="385.50" width="3.20" height="3.05" fill="#440154"/>
<rect x="388.30" y="385.50" width="3.20" height="3.05" fill="#31688e"/>
<rect x="391.20" y="385.50" width="3.20" height="3.05" fill="#26818e"/>
<rect x="394.10" y="385.50" width="3.20" height="3.05" fill="#21a585"/>
<rect x="397.00" y="385.50" width="3.20" height="3.05" fill="#35b779"/>
<rect x="399.90" y="385.50" width="3.20" height="3.05" fill="#3dbc74"/>
<rect x="402.80" y="385.50" width="3.20" height="3.05" fill="#1fa287"/>
<rect x="405.70" y="385.50" width="3.20" height="3.05" fill="#218e8d"/>
<rect x="408.60" y="385.50" width="3.20" height="3.05" fill="#25858e"/>
<rect x="411.50" y="385.50" width="3.20" height="3.05" fill="#414487"/>
<rect x="414.40" y="385.50" width="3.20" height="3.05" fill="#482475"/>
<rect x="417.30" y="385.50" width="3.20" height="3.05" fill="#482475"/>
<rect x="420.20" y="385.50" width="3.20" height="3.05" fill="#440154"/>
<rect x="423.10" y="385.50" width="3.20" height="3.05" fill="#440154"/>
<rect x="318.70" y="388.25" width="3.20" height="3.05" fill="#440154"/>
<rect x="362.20" y="388.25" width="3.20" height="3.05" fill="#440154"/>
<rect x="373.80" y="388.25" width="3.20" height="3.05" fill="#440154"/>
<rect x="379.60" y="388.25" width="3.20" height="3.05" fill="#414487"/>
<rect x="382.50" y="388.25" width="3.20" height="3.05" fill="#453781"/>
<rect x="385.40" y="388.25" width="3.20" height="3.05" fill="#2c718e"/>
<rect x="388.30" y="388.25" width="3.20" height="3.05" fill="#218e8d"/>
<rect x="391.20" y="388.25" width="3.20" height="3.05" fill="#24aa83"/>
<rect x="394.10" y="388.25" width="3.20" height="3.05" fill="#44bf70"/>
<rect x="397.00" y="388.25" width="3.20" height="3.05" fill="#4cc26c"/>
<rect x="399.90" y="388.25" width="3.20" height="3.05" fill="#29af7f"/>
<rect x="402.80" y="388.25" width="3.20" height="3.05" fill="#1f948c"/>
<rect x="405.70" y="388.25" width="3.20" height="3.05" fill="#31688e"/>
<rect x="408.60" y="388.25" width="3.20" height="3.05" fill="#34608d"/>
<rect x="411.50" y="388.25" width="3.20" height="3.05" fill="#453781"/>
<rect x="414.40" y="388.25" width="3.20" height="3.05" fill="#440154"/>
<rect x="359.30" y="391.00" width="3.20" height="3.05" fill="#440154"/>
<rect x="370.90" y="391.00" width="3.20" height="3.05" fill="#440154"/>
<rect x="373.80" y="391.00" width="3.20" height="3.05" fill="#440154"/>
<rect x="376.70" y="391.00" width="3.20" height="3.05" fill="#482475"/>
<rect x="379.60" y="391.00" width="3.20" height="3.05" fill="#453781"/>
<rect x="382.50" y="391.00" width="3.20" height="3.05" fill="#26818e"/>
<rect x="385.40" y="391.00" width="3.20" height="3.05" fill="#1f978b"/>
<rect x="388.30" y="391.00" width="3.20" height="3.05" fill="#2db27d"/>
<rect x="391.20" y="391.00" width="3.20" height="3.05" fill="#56c667"/>
<rect x="394.10" y="391.00" width="3.20" height="3.05" fill="#5ac864"/>
<rect x="397.00" y="391.00" width="3.20" height="3.05" fill="#24aa83"/>
<rect x="399.90" y="391.00" width="3.20" height="3.05" fill="#1f968b"/>
<rect x="402.80" y="391.00" width="3.20" height="3.05" fill="#31688e"/>
<rect x="405.70" y="391.00" width="3.20" height="3.05" fill="#3d4d8a"/>
<rect x="408.60" y="391.00" width="3.20" height="3.05" fill="#482475"/>
<rect x="411.50" y="391.00" width="3.20" height="3.05" fill="#414487"/>
<rect x="414.40" y="391.00" width="3.20" height="3.05" fill="#440154"/>
<rect x="324.50" y="393.75" width="3.20" height="3.05" fill="#440154"/>
<rect x="341.90" y="393.75" width="3.20" height="3.05" fill="#440154"/>
<rect x="365.10" y="393.75" width="3.20" height="3.05" fill="#440154"/>
<rect x="370.90" y="393.75" width="3.20" height="3.05" fill="#3d4d8a"/>
<rect x="376.70" y="393.75" width="3.20" height="3.05" fill="#414487"/>
<rect x="379.60" y="393.75" width="3.20" height="3.05" fill="#287d8e"/>
<rect x="382.50" y="393.75" width="3.20" height="3.05" fill="#1f998a"/>
<rect x="385.40" y="393.75" width="3.20" height="3.05" fill="#35b779"/>
<rect x="388.30" y="393.75" width="3.20" height="3.05" fill="#5cc863"/>
<rect x="391.20" y="393.75" width="3.20" height="3.05" fill="#58c765"/>
<rect x="394.10" y="393.75" width="3.20" height="3.05" fill="#25ab82"/>
<rect x="397.00" y="393.75" width="3.20" height="3.05" fill="#20938c"/>
<rect x="399.90" y="393.75" width="3.20" height="3.05" fill="#34608d"/>
<rect x="402.80" y="393.75" width="3.20" height="3.05" fill="#482475"/>
<rect x="405.70" y="393.75" width="3.20" height="3.05" fill="#482475"/>
<rect x="408.60" y="393.75" width="3.20" height="3.05" fill="#440154"/>
<rect x="411.50" y="393.75" width="3.20" height="3.05" fill="#440154"/>
<rect x="428.90" y="393.75" width="3.20" height="3.05" fill="#440154"/>
<rect x="321.60" y="396.50" width="3.20" height="3.05" fill="#440154"/>
<rect x="353.50" y="396.50" width="3.20" height="3.05" fill="#440154"/>
<rect x="365.10" y="396.50" width="3.20" height="3.05" fill="#482475"/>
<rect x="368.00" y="396.50" width="3.20" height="3.05" fill="#440154"/>
<rect x="370.90" y="396.50" width="3.20" height="3.05" fill="#440154"/>
<rect x="373.80" y="396.50" width="3.20" height="3.05" fill="#31688e"/>
<rect x="376.70" y="396.50" width="3.20" height="3.05" fill="#287d8e"/>
<rect x="379.60" y="396.50" width="3.20" height="3.05" fill="#2ab07f"/>
<rect x="382.50" y="396.50" width="3.20" height="3.05" fill="#40bd72"/>
<rect x="385.40" y="396.50" width="3.20" height="3.05" fill="#70cf57"/>
<rect x="388.30" y="396.50" width="3.20" height="3.05" fill="#60ca60"/>
<rect x="391.20" y="396.50" width="3.20" height="3.05" fill="#25ac82"/>
<rect x="394.10" y="396.50" width="3.20" height="3.05" fill="#23888e"/>
<rect x="397.00" y="396.50" width="3.20" height="3.05" fill="#414487"/>
<rect x="399.90" y="396.50" width="3.20" height="3.05" fill="#482475"/>
<rect x="402.80" y="396.50" width="3.20" height="3.05" fill="#482475"/>
<rect x="431.80" y="396.50" width="3.00" height="3.05" fill="#440154"/>
<rect x="347.70" y="399.25" width="3.20" height="3.05" fill="#440154"/>
<rect x="359.30" y="399.25" width="3.20" height="3.05" fill="#482475"/>
<rect x="365.10" y="399.25" width="3.20" height="3.05" fill="#453781"/>
<rect x="368.00" y="399.25" width="3.20" height="3.05" fill="#3d4d8a"/>
<rect x="370.90" y="399.25" width="3.20" height="3.05" fill="#2c718e"/>
<rect x="373.80" y="399.25" width="3.20" height="3.05" fill="#1f9a8a"/>
<rect x="376.70" y="399.25" width="3.20" height="3.05" fill="#31b57b"/>
<rect x="379.60" y="399.25" width="3.20" height="3.05" fill="#60ca60"/>
<rect x="382.50" y="399.25" width="3.20" height="3.05" fill="#7fd34e"/>
<rect x="385.40" y="399.25" width="3.20" height="3.05" fill="#73d056"/>
<rect x="388.30" y="399.25" width="3.20" height="3.05" fill="#21a585"/>
<rect x="391.20" y="399.25" width="3.20" height="3.05" fill="#277f8e"/>
<rect x="394.10" y="399.25" width="3.20" height="3.05" fill="#375b8d"/>
<rect x="397.00" y="399.25" width="3.20" height="3.05" fill="#414487"/>
<rect x="399.90" y="399.25" width="3.20" height="3.05" fill="#440154"/>
<rect x="402.80" y="399.25" width="3.20" height="3.05" fill="#440154"/>
<rect x="356.40" y="402.00" width="3.20" height="3.05" fill="#440154"/>
<rect x="359.30" y="402.00" width="3.20" height="3.05" fill="#453781"/>
<rect x="362.20" y="402.00" width="3.20" height="3.05" fill="#482475"/>
<rect x="365.10" y="402.00" width="3.20" height="3.05" fill="#375b8d"/>
<rect x="368.00" y="402.00" width="3.20" height="3.05" fill="#287d8e"/>
<rect x="370.90" y="402.00" width="3.20" height="3.05" fill="#1fa188"/>
<rect x="373.80" y="402.00" width="3.20" height="3.05" fill="#46c06f"/>
<rect x="376.70" y="402.00" width="3.20" height="3.05" fill="#75d054"/>
<rect x="379.60" y="402.00" width="3.20" height="3.05" fill="#b0dd2f"/>
<rect x="382.50" y="402.00" width="3.20" height="3.05" fill="#75d054"/>
<rect x="385.40" y="402.00" width="3.20" height="3.05" fill="#22a785"/>
<rect x="388.30" y="402.00" width="3.20" height="3.05" fill="#2c718e"/>
<rect x="391.20" y="402.00" width="3.20" height="3.05" fill="#453781"/>
<rect x="394.10" y="402.00" width="3.20" height="3.05" fill="#414487"/>
<rect x="397.00" y="402.00" width="3.20" height="3.05" fill="#440154"/>
<rect x="356.40" y="404.75" width="3.20" height="3.05" fill="#440154"/>
<rect x="359.30" y="404.75" width="3.20" height="3.05" fill="#453781"/>
<rect x="362.20" y="404.75" width="3.20" height="3.05" fill="#453781"/>
<rect x="365.10" y="404.75" width="3.20" height="3.05" fill="#228b8d"/>
<rect x="368.00" y="404.75" width="3.20" height="3.05" fill="#1fa287"/>
<rect x="370.90" y="404.75" width="3.20" height="3.05" fill="#50c46a"/>
<rect x="373.80" y="404.75" width="3.20" height="3.05" fill="#98d83e"/>
<rect x="376.70" y="404.75" width="3.20" height="3.05" fill="#c2df23"/>
<rect x="379.60" y="404.75" width="3.20" height="3.05" fill="#60ca60"/>
<rect x="382.50" y="404.75" width="3.20" height="3.05" fill="#20928c"/>
<rect x="385.40" y="404.75" width="3.20" height="3.05" fill="#3d4d8a"/>
<rect x="388.30" y="404.75" width="3.20" height="3.05" fill="#482475"/>
<rect x="394.10" y="404.75" width="3.20" height="3.05" fill="#440154"/>
<rect x="402.80" y="404.75" width="3.20" height="3.05" fill="#440154"/>
<rect x="405.70" y="404.75" width="3.20" height="3.05" fill="#440154"/>
<rect x="350.60" y="407.50" width="3.20" height="3.05" fill="#440154"/>
<rect x="353.50" y="407.50" width="3.20" height="3.05" fill="#440154"/>
<rect x="356.40" y="407.50" width="3.20" height="3.05" fill="#482475"/>
<rect x="359.30" y="407.50" width="3.20" height="3.05" fill="#3d4d8a"/>
<rect x="362.20" y="407.50" width="3.20" height="3.05" fill="#2e6f8e"/>
<rect x="365.10" y="407.50" width="3.20" height="3.05" fill="#1f9f88"/>
<rect x="368.00" y="407.50" width="3.20" height="3.05" fill="#56c667"/>
<rect x="370.90" y="407.50" width="3.20" height="3.05" fill="#a8db34"/>
<rect x="373.80" y="407.50" width="3.20" height="3.05" fill="#dae319"/>
<rect x="376.70" y="407.50" width="3.20" height="3.05" fill="#56c667"/>
<rect x="379.60" y="407.50" width="3.20" height="3.05" fill="#25858e"/>
<rect x="382.50" y="407.50" width="3.20" height="3.05" fill="#453781"/>
<rect x="385.40" y="407.50" width="3.20" height="3.05" fill="#482475"/>
<rect x="388.30" y="407.50" width="3.20" height="3.05" fill="#482475"/>
<rect x="394.10" y="407.50" width="3.20" height="3.05" fill="#440154"/>
<rect x="402.80" y="407.50" width="3.20" height="3.05" fill="#440154"/>
<rect x="353.50" y="410.25" width="3.20" height="3.05" fill="#482475"/>
<rect x="356.40" y="410.25" width="3.20" height="3.05" fill="#453781"/>
<rect x="359.30" y="410.25" width="3.20" height="3.05" fill="#297b8e"/>
<rect x="362.20" y="410.25" width="3.20" height="3.05" fill="#1f9a8a"/>
<rect x="365.10" y="410.25" width="3.20" height="3.05" fill="#58c765"/>
<rect x="368.00" y="410.25" width="3.20" height="3.05" fill="#a2da37"/>
<rect x="370.90" y="410.25" width="3.20" height="3.05" fill="#dfe318"/>
<rect x="373.80" y="410.25" width="3.20" height="3.05" fill="#3aba76"/>
<rect x="376.70" y="410.25" width="3.20" height="3.05" fill="#375b8d"/>
<rect x="379.60" y="410.25" width="3.20" height="3.05" fill="#414487"/>
<rect x="382.50" y="410.25" width="3.20" height="3.05" fill="#482475"/>
<rect x="388.30" y="410.25" width="3.20" height="3.05" fill="#440154"/>
<rect x="402.80" y="410.25" width="3.20" height="3.05" fill="#440154"/>
<rect x="350.60" y="413.00" width="3.20" height="3.05" fill="#440154"/>
<rect x="353.50" y="413.00" width="3.20" height="3.05" fill="#482475"/>
<rect x="356.40" y="413.00" width="3.20" height="3.05" fill="#440154"/>
<rect x="359.30" y="413.00" width="3.20" height="3.05" fill="#20938c"/>
<rect x="362.20" y="413.00" width="3.20" height="3.05" fill="#3bbb75"/>
<rect x="365.10" y="413.00" width="3.20" height="3.05" fill="#9dd93b"/>
<rect x="368.00" y="413.00" width="3.20" height="3.05" fill="#dde318"/>
<rect x="370.90" y="413.00" width="3.20" height="3.05" fill="#20928c"/>
<rect x="373.80" y="413.00" width="3.20" height="3.05" fill="#3d4d8a"/>
<rect x="376.70" y="413.00" width="3.20" height="3.05" fill="#440154"/>
<rect x="388.30" y="413.00" width="3.20" height="3.05" fill="#440154"/>
<rect x="399.90" y="413.00" width="3.20" height="3.05" fill="#440154"/>
<rect x="353.50" y="415.75" width="3.20" height="3.05" fill="#440154"/>
<rect x="356.40" y="415.75" width="3.20" height="3.05" fill="#32648e"/>
<rect x="359.30" y="415.75" width="3.20" height="3.05" fill="#20a386"/>
<rect x="362.20" y="415.75" width="3.20" height="3.05" fill="#7ad151"/>
<rect x="365.10" y="415.75" width="3.20" height="3.05" fill="#c2df23"/>
<rect x="368.00" y="415.75" width="3.20" height="3.05" fill="#2c718e"/>
<rect x="370.90" y="415.75" width="3.20" height="3.05" fill="#440154"/>
<rect x="391.20" y="415.75" width="3.20" height="3.05" fill="#440154"/>
<rect x="405.70" y="415.75" width="3.20" height="3.05" fill="#440154"/>
<rect x="350.60" y="418.50" width="3.20" height="3.05" fill="#440154"/>
<rect x="353.50" y="418.50" width="3.20" height="3.05" fill="#482475"/>
<rect x="356.40" y="418.50" width="3.20" height="3.05" fill="#26818e"/>
<rect x="359.30" y="418.50" width="3.20" height="3.05" fill="#46c06f"/>
<rect x="362.20" y="418.50" width="3.20" height="3.05" fill="#98d83e"/>
<rect x="365.10" y="418.50" width="3.20" height="3.05" fill="#2f6c8e"/>
<rect x="368.00" y="418.50" width="3.20" height="3.05" fill="#3a548c"/>
<rect x="324.50" y="421.25" width="3.20" height="3.05" fill="#440154"/>
<rect x="333.20" y="421.25" width="3.20" height="3.05" fill="#440154"/>
<rect x="347.70" y="421.25" width="3.20" height="3.05" fill="#440154"/>
<rect x="350.60" y="421.25" width="3.20" height="3.05" fill="#440154"/>
<rect x="353.50" y="421.25" width="3.20" height="3.05" fill="#440154"/>
<rect x="356.40" y="421.25" width="3.20" height="3.05" fill="#1f988b"/>
<rect x="359.30" y="421.25" width="3.20" height="3.05" fill="#60ca60"/>
<rect x="362.20" y="421.25" width="3.20" height="3.05" fill="#26828e"/>
<rect x="365.10" y="421.25" width="3.20" height="3.05" fill="#3d4d8a"/>
<rect x="368.00" y="421.25" width="3.20" height="3.05" fill="#440154"/>
<rect x="333.20" y="424.00" width="3.20" height="3.05" fill="#440154"/>
<rect x="350.60" y="424.00" width="3.20" height="3.05" fill="#453781"/>
<rect x="353.50" y="424.00" width="3.20" height="3.05" fill="#297b8e"/>
<rect x="356.40" y="424.00" width="3.20" height="3.05" fill="#35b779"/>
<rect x="359.30" y="424.00" width="3.20" height="3.05" fill="#287d8e"/>
<rect x="362.20" y="424.00" width="3.20" height="3.05" fill="#414487"/>
<rect x="365.10" y="424.00" width="3.20" height="3.05" fill="#482475"/>
<rect x="344.80" y="426.75" width="3.20" height="3.05" fill="#440154"/>
<rect x="347.70" y="426.75" width="3.20" height="3.05" fill="#414487"/>
<rect x="350.60" y="426.75" width="3.20" height="3.05" fill="#3a548c"/>
<rect x="353.50" y="426.75" width="3.20" height="3.05" fill="#1f988b"/>
<rect x="356.40" y="426.75" width="3.20" height="3.05" fill="#26818e"/>
<rect x="359.30" y="426.75" width="3.20" height="3.05" fill="#482475"/>
<rect x="362.20" y="426.75" width="3.20" height="3.05" fill="#440154"/>
<rect x="341.90" y="429.50" width="3.20" height="3.05" fill="#440154"/>
<rect x="347.70" y="429.50" width="3.20" height="3.05" fill="#440154"/>
<rect x="350.60" y="429.50" width="3.20" height="3.05" fill="#277f8e"/>
<rect x="353.50" y="429.50" width="3.20" height="3.05" fill="#2a768e"/>
<rect x="356.40" y="429.50" width="3.20" height="3.05" fill="#482475"/>
<rect x="359.30" y="429.50" width="3.20" height="3.05" fill="#440154"/>
<rect x="362.20" y="429.50" width="3.20" height="3.05" fill="#440154"/>
<rect x="341.90" y="432.25" width="3.20" height="3.05" fill="#440154"/>
<rect x="344.80" y="432.25" width="3.20" height="3.05" fill="#440154"/>
<rect x="347.70" y="432.25" width="3.20" height="3.05" fill="#3a548c"/>
<rect x="350.60" y="432.25" width="3.20" height="3.05" fill="#31688e"/>
<rect x="353.50" y="432.25" width="3.20" height="3.05" fill="#482475"/>
<rect x="356.40" y="432.25" width="3.20" height="3.05" fill="#453781"/>
<rect x="336.10" y="435.00" width="3.20" height="3.05" fill="#440154"/>
<rect x="344.80" y="435.00" width="3.20" height="3.05" fill="#453781"/>
<rect x="347.70" y="435.00" width="3.20" height="3.05" fill="#3d4d8a"/>
<rect x="350.60" y="435.00" width="3.20" height="3.05" fill="#453781"/>
<rect x="341.90" y="437.75" width="3.20" height="3.05" fill="#482475"/>
<rect x="344.80" y="437.75" width="3.20" height="3.05" fill="#440154"/>
<rect x="347.70" y="437.75" width="3.20" height="3.05" fill="#482475"/>
<rect x="350.60" y="437.75" width="3.20" height="3.05" fill="#440154"/>
<rect x="336.10" y="440.50" width="3.20" height="3.05" fill="#440154"/>
<rect x="339.00" y="440.50" width="3.20" height="3.05" fill="#440154"/>
<rect x="347.70" y="440.50" width="3.20" height="3.05" fill="#440154"/>
<rect x="350.60" y="440.50" width="3.20" height="3.05" fill="#482475"/>
<rect x="350.60" y="448.75" width="3.20" height="3.05" fill="#440154"/>
</g>
<path d="M433.2,373.7 L432.5,373.8 L431.8,373.8 L431.1,373.9 L430.4,374.0 L429.7,374.0 L429.0,374.1 L428.3,374.2 L427.9,374.2 L427.5,374.2 L426.8,374.5 L426.1,374.8 L425.9,374.9 L425.4,375.1 L424.7,375.5 L424.7,375.6 L424.0,376.0 L423.6,376.2 L423.3,376.5 L422.6,376.9 L422.5,377.0 L421.8,377.5 L421.8,377.6 L421.1,378.2 L421.0,378.3 L420.4,378.9 L420.3,378.9 L419.7,379.5 L419.6,379.6 L419.0,380.2 L418.9,380.3 L418.3,380.8 L418.1,381.0 L417.5,381.3 L417.1,381.6 L416.8,381.8 L416.1,382.3 L416.0,382.3 L415.4,382.7 L415.0,383.0 L414.7,383.2 L414.2,383.7 L414.0,383.8 L413.5,384.3 L413.3,384.6 L412.9,385.0 L412.5,385.5 L412.4,385.7 L411.9,386.4 L411.8,386.4 L411.4,387.1 L411.1,387.4 L410.8,387.7 L410.4,388.2 L410.2,388.4 L409.7,388.9 L409.4,389.1 L409.0,389.4 L408.5,389.8 L408.3,389.9 L407.5,390.4 L407.4,390.4 L406.8,390.8 L406.5,391.1 L406.1,391.4 L405.6,391.8 L405.4,391.9 L404.7,392.5 L404.7,392.5 L404.0,393.0 L403.8,393.1 L403.3,393.5 L402.9,393.8 L402.5,394.1 L402.0,394.5 L401.8,394.6 L401.1,395.2 L401.1,395.2 L400.4,395.8 L400.3,395.9 L399.7,396.4 L399.5,396.5 L399.0,397.0 L398.7,397.2 L398.3,397.5 L397.9,397.9 L397.5,398.2 L397.2,398.6 L396.8,399.0 L396.6,399.2 L396.1,399.7 L395.8,399.9 L395.4,400.3 L395.0,400.6 L394.7,400.8 L394.0,401.3 L394.0,401.3 L393.3,401.7 L392.7,402.0 L392.5,402.0 L391.8,402.5 L391.6,402.6 L391.1,403.0 L390.7,403.3 L390.4,403.5 L389.7,404.0 L389.7,404.0 L389.0,404.5 L388.8,404.7 L388.3,405.0 L387.8,405.3 L387.5,405.5 L386.9,406.0 L386.8,406.0 L386.1,406.6 L386.0,406.7 L385.4,407.2 L385.1,407.4 L384.7,407.7 L384.1,408.0 L384.0,408.1 L383.3,408.7 L383.2,408.7 L382.6,409.3 L382.4,409.4 L381.8,409.8 L381.4,410.1 L381.1,410.2 L380.4,410.7 L380.3,410.8 L379.7,411.1 L379.2,411.4 L379.0,411.6 L378.3,412.0 L378.1,412.1 L377.6,412.5 L377.1,412.8 L376.8,412.9 L376.1,413.4 L376.0,413.5 L375.4,413.8 L374.9,414.1 L374.7,414.3 L374.0,414.8 L373.9,414.8 L373.3,415.2 L372.9,415.5 L372.6,415.7 L371.9,416.2 L371.8,416.2 L371.1,416.8 L371.0,416.8 L370.4,417.5 L370.4,417.5 L369.8,418.2 L369.7,418.3 L369.1,418.9 L369.0,419.0 L368.5,419.6 L368.3,419.8 L367.9,420.2 L367.6,420.6 L367.3,420.9 L366.8,421.4 L366.6,421.6 L366.1,422.0 L365.9,422.3 L365.4,422.7 L365.2,422.9 L364.7,423.4 L364.5,423.6 L364.0,424.0 L363.6,424.3 L363.3,424.5 L362.7,425.0 L362.6,425.0 L361.8,425.6 L361.8,425.7 L361.1,426.2 L360.9,426.3 L360.4,426.6 L359.7,427.0 L359.7,427.0 L359.0,427.6 L358.9,427.7 L358.3,428.3 L358.1,428.4 L357.6,428.7 L356.8,429.0 L356.8,429.0 L356.1,429.4 L355.6,429.7 L355.4,429.9 L354.7,430.2 L354.1,429.7 L354.0,429.6 L353.7,429.0 L353.4,428.4 L353.7,427.7 L354.0,427.1 L354.0,427.0 L354.3,426.3 L354.5,425.7 L354.7,425.4 L354.9,425.0 L355.4,424.4 L355.5,424.3 L355.8,423.6 L356.1,422.9 L356.1,422.9 L356.3,422.3 L356.5,421.6 L356.7,420.9 L356.8,420.4 L356.9,420.2 L357.1,419.6 L357.3,418.9 L357.6,418.4 L357.6,418.2 L357.9,417.5 L358.2,416.8 L358.3,416.6 L358.4,416.2 L358.7,415.5 L359.0,414.8 L359.0,414.8 L359.2,414.1 L359.4,413.5 L359.7,412.8 L359.7,412.7 L359.9,412.1 L360.2,411.4 L360.4,411.1 L360.7,410.8 L361.1,410.1 L361.2,410.1 L361.7,409.4 L361.8,409.3 L362.3,408.7 L362.6,408.5 L363.0,408.0 L363.3,407.8 L363.6,407.4 L364.0,407.0 L364.3,406.7 L364.7,406.2 L364.9,406.0 L365.4,405.4 L365.4,405.3 L366.1,404.7 L366.1,404.6 L366.8,404.0 L366.8,404.0 L367.6,403.3 L367.6,403.3 L368.3,402.7 L368.4,402.6 L369.0,402.2 L369.3,402.0 L369.7,401.7 L370.3,401.3 L370.4,401.2 L371.1,400.8 L371.5,400.6 L371.8,400.4 L372.6,400.0 L372.6,399.9 L373.3,399.5 L373.7,399.2 L374.0,399.1 L374.7,398.7 L374.9,398.6 L375.4,398.3 L376.0,397.9 L376.1,397.8 L376.8,397.3 L376.9,397.2 L377.6,396.8 L377.9,396.5 L378.3,396.3 L378.8,395.9 L379.0,395.7 L379.7,395.2 L379.7,395.1 L380.3,394.5 L380.4,394.4 L381.0,393.8 L381.1,393.7 L381.8,393.1 L381.8,393.1 L382.5,392.5 L382.6,392.5 L383.2,391.8 L383.3,391.8 L384.0,391.2 L384.1,391.1 L384.7,390.7 L385.1,390.4 L385.4,390.2 L386.1,389.8 L386.1,389.8 L386.8,389.4 L387.3,389.1 L387.5,388.9 L388.3,388.4 L388.3,388.4 L389.0,387.9 L389.2,387.7 L389.7,387.3 L390.0,387.1 L390.4,386.7 L390.8,386.4 L391.1,386.2 L391.7,385.7 L391.8,385.6 L392.5,385.0 L392.6,385.0 L393.3,384.5 L393.5,384.3 L394.0,384.0 L394.5,383.7 L394.7,383.5 L395.4,383.0 L395.4,383.0 L396.1,382.4 L396.2,382.3 L396.8,381.8 L397.0,381.6 L397.5,381.2 L397.8,381.0 L398.3,380.5 L398.6,380.3 L399.0,380.0 L399.6,379.6 L399.7,379.5 L400.4,379.0 L400.5,378.9 L401.1,378.5 L401.5,378.3 L401.8,378.1 L402.5,377.8 L403.0,377.6 L403.3,377.5 L404.0,377.1 L404.4,376.9 L404.7,376.7 L405.4,376.2 L405.4,376.2 L406.0,375.5 L406.1,375.4 L406.4,374.9 L406.8,374.2 L406.8,374.0 L407.1,373.5 L407.4,372.8 L407.5,372.5 L407.8,372.2 L408.2,371.5 L408.3,371.4 L408.7,370.8 L409.0,370.6 L409.7,370.1 L409.7,370.1 L410.4,370.0 L411.1,369.9 L411.8,369.9 L412.5,369.8 L413.3,369.8 L414.0,369.7 L414.7,369.7 L415.4,369.7 L416.1,369.7 L416.8,369.7 L417.5,369.7 L418.3,369.7 L419.0,369.7 L419.7,369.7 L420.4,369.8 L421.1,369.8 L421.8,369.8 L422.5,369.8 L423.3,369.8 L424.0,369.9 L424.7,369.9 L425.4,369.9 L426.1,369.9 L426.8,369.9 L427.5,369.9 L428.3,369.9 L429.0,369.9 L429.7,369.9 L430.4,369.9 L431.1,369.9 L431.8,369.9 L432.5,369.9 L433.2,369.9" fill="none" stroke="#ffffff" stroke-opacity="0.9" stroke-width="1.0"/>
<path d="M361.1,423.6 L360.4,423.9 L359.7,423.7 L359.6,423.6 L359.0,423.2 L358.8,422.9 L358.7,422.3 L358.9,421.6 L359.0,420.9 L359.0,420.6 L359.0,420.2 L359.2,419.6 L359.4,418.9 L359.7,418.2 L359.7,418.1 L359.9,417.5 L360.1,416.8 L360.4,416.2 L360.4,416.1 L360.7,415.5 L361.0,414.8 L361.1,414.6 L361.3,414.1 L361.7,413.5 L361.8,413.2 L362.1,412.8 L362.5,412.1 L362.6,412.0 L362.9,411.4 L363.3,411.0 L363.5,410.8 L364.0,410.3 L364.2,410.1 L364.7,409.5 L364.8,409.4 L365.4,408.7 L365.4,408.7 L366.0,408.0 L366.1,407.9 L366.6,407.4 L366.8,407.1 L367.2,406.7 L367.6,406.3 L367.9,406.0 L368.3,405.6 L368.6,405.3 L369.0,405.0 L369.3,404.7 L369.7,404.3 L370.2,404.0 L370.4,403.8 L371.0,403.3 L371.1,403.2 L371.8,402.8 L372.0,402.6 L372.6,402.3 L373.1,402.0 L373.3,401.8 L374.0,401.3 L374.1,401.3 L374.7,400.8 L375.0,400.6 L375.4,400.3 L376.1,399.9 L376.1,399.9 L376.8,399.5 L377.3,399.2 L377.6,399.0 L378.3,398.6 L378.3,398.6 L379.0,398.1 L379.2,397.9 L379.7,397.5 L380.1,397.2 L380.4,397.0 L381.0,396.5 L381.1,396.4 L381.8,395.9 L381.9,395.9 L382.6,395.4 L382.8,395.2 L383.3,394.8 L383.6,394.5 L384.0,394.2 L384.5,393.8 L384.7,393.6 L385.3,393.1 L385.4,393.1 L386.1,392.5 L386.1,392.5 L386.8,392.0 L387.1,391.8 L387.5,391.5 L388.2,391.1 L388.3,391.1 L389.0,390.5 L389.1,390.4 L389.7,389.9 L389.9,389.8 L390.4,389.5 L390.9,389.1 L391.1,389.0 L391.8,388.5 L391.9,388.4 L392.5,387.9 L392.8,387.7 L393.3,387.4 L393.8,387.1 L394.0,386.9 L394.7,386.4 L394.7,386.4 L395.4,385.9 L395.7,385.7 L396.1,385.4 L396.7,385.0 L396.8,384.9 L397.5,384.3 L397.5,384.3 L398.2,383.7 L398.3,383.6 L399.0,383.1 L399.2,383.0 L399.7,382.6 L400.1,382.3 L400.4,382.1 L400.8,381.6 L401.1,381.4 L401.8,381.0 L401.9,381.0 L402.5,380.7 L403.3,380.3 L403.4,380.3 L404.0,380.0 L404.7,379.6 L404.7,379.6 L405.4,379.2 L405.8,378.9 L406.1,378.7 L406.8,378.3 L406.8,378.2 L407.5,377.8 L407.9,377.6 L408.3,377.4 L408.8,376.9 L409.0,376.7 L409.4,376.2 L409.7,375.7 L409.8,375.5 L410.1,374.9 L410.4,374.3 L410.5,374.2 L410.9,373.5 L411.1,373.3 L411.6,372.8 L411.8,372.7 L412.5,372.4 L413.2,372.2 L413.3,372.2 L414.0,372.1 L414.7,372.0 L415.4,371.9 L416.1,371.8 L416.8,371.9 L417.5,372.0 L418.3,372.0 L419.0,372.2 L419.0,372.2 L419.7,372.3 L420.4,372.6 L421.1,372.8 L421.2,372.8 L421.1,373.5 L421.1,373.5 L420.4,373.9 L420.0,374.2 L419.7,374.5 L419.3,374.9 L419.0,375.2 L418.7,375.5 L418.3,375.9 L418.0,376.2 L417.5,376.6 L417.3,376.9 L416.8,377.4 L416.7,377.6 L416.2,378.3 L416.1,378.3 L415.4,378.9 L415.4,378.9 L414.7,379.3 L414.1,379.6 L414.0,379.7 L413.3,380.2 L413.1,380.3 L412.5,380.8 L412.4,381.0 L411.8,381.5 L411.7,381.6 L411.1,382.3 L411.1,382.3 L410.6,383.0 L410.4,383.3 L410.1,383.7 L409.7,384.3 L409.7,384.3 L409.0,385.0 L408.9,385.0 L408.3,385.7 L408.3,385.7 L407.6,386.4 L407.5,386.4 L406.9,387.1 L406.8,387.1 L406.1,387.6 L406.0,387.7 L405.4,388.3 L405.3,388.4 L404.7,389.0 L404.6,389.1 L404.0,389.8 L404.0,389.8 L403.3,390.3 L403.1,390.4 L402.5,391.0 L402.4,391.1 L401.8,391.7 L401.7,391.8 L401.1,392.4 L401.0,392.5 L400.4,392.9 L400.1,393.1 L399.7,393.5 L399.3,393.8 L399.0,394.1 L398.5,394.5 L398.3,394.7 L397.8,395.2 L397.5,395.4 L396.9,395.9 L396.8,395.9 L396.2,396.5 L396.1,396.6 L395.4,397.2 L395.4,397.2 L394.7,397.9 L394.7,397.9 L394.0,398.5 L393.9,398.6 L393.3,399.1 L393.0,399.2 L392.5,399.6 L392.2,399.9 L391.8,400.2 L391.4,400.6 L391.1,400.8 L390.4,401.3 L390.4,401.3 L389.7,401.7 L389.4,402.0 L389.0,402.3 L388.5,402.6 L388.3,402.9 L387.8,403.3 L387.5,403.5 L386.9,404.0 L386.8,404.0 L386.1,404.5 L385.9,404.7 L385.4,405.0 L385.0,405.3 L384.7,405.6 L384.2,406.0 L384.0,406.2 L383.3,406.7 L383.3,406.7 L382.6,407.3 L382.4,407.4 L381.8,407.8 L381.6,408.0 L381.1,408.4 L380.8,408.7 L380.4,409.0 L379.8,409.4 L379.7,409.5 L379.0,409.9 L378.7,410.1 L378.3,410.4 L377.7,410.8 L377.6,410.9 L376.8,411.4 L376.8,411.4 L376.1,411.9 L375.9,412.1 L375.4,412.4 L374.7,412.8 L374.7,412.8 L374.0,413.3 L373.7,413.5 L373.3,413.8 L372.8,414.1 L372.6,414.3 L371.8,414.8 L371.8,414.8 L371.1,415.3 L370.8,415.5 L370.4,415.8 L370.0,416.2 L369.7,416.5 L369.3,416.8 L369.0,417.1 L368.5,417.5 L368.3,417.8 L367.8,418.2 L367.6,418.5 L367.2,418.9 L366.8,419.2 L366.4,419.6 L366.1,419.8 L365.7,420.2 L365.4,420.5 L364.9,420.9 L364.7,421.1 L364.2,421.6 L364.0,421.8 L363.3,422.3 L363.3,422.3 L362.6,422.7 L362.2,422.9 L361.8,423.2 L361.2,423.6 L361.1,423.6" fill="none" stroke="#ffffff" stroke-opacity="0.9" stroke-width="1.0"/>
<path d="M364.0,418.7 L363.3,418.8 L362.9,418.2 L362.7,417.5 L362.8,416.8 L363.0,416.2 L363.3,415.5 L363.3,415.4 L363.5,414.8 L363.8,414.1 L364.0,413.9 L364.4,413.5 L364.7,413.2 L365.0,412.8 L365.4,412.1 L365.4,412.1 L365.9,411.4 L366.1,411.2 L366.6,410.8 L366.8,410.5 L367.3,410.1 L367.6,409.8 L367.9,409.4 L368.3,408.9 L368.4,408.7 L369.0,408.1 L369.1,408.0 L369.7,407.5 L369.8,407.4 L370.4,406.8 L370.6,406.7 L371.1,406.2 L371.3,406.0 L371.8,405.6 L372.1,405.3 L372.6,405.0 L373.1,404.7 L373.3,404.5 L374.0,404.0 L374.0,404.0 L374.7,403.4 L374.8,403.3 L375.4,402.9 L375.9,402.6 L376.1,402.5 L376.8,402.1 L377.1,402.0 L377.6,401.6 L378.0,401.3 L378.3,401.1 L379.0,400.6 L379.0,400.6 L379.7,400.2 L380.2,399.9 L380.4,399.8 L381.1,399.3 L381.3,399.2 L381.8,399.0 L382.5,398.6 L382.6,398.5 L383.3,397.9 L383.3,397.9 L384.0,397.4 L384.6,397.2 L384.7,397.2 L385.4,396.8 L385.8,396.5 L386.1,396.3 L386.6,395.9 L386.8,395.6 L387.4,395.2 L387.5,395.1 L388.3,394.8 L388.7,394.5 L389.0,394.3 L389.6,393.8 L389.7,393.7 L390.4,393.5 L390.9,393.1 L391.1,393.0 L391.5,392.5 L391.8,392.3 L392.5,391.8 L392.5,391.8 L393.3,391.6 L394.0,391.4 L394.7,391.1 L394.7,391.1 L395.3,390.4 L395.4,390.3 L396.0,390.4 L396.1,390.7 L396.2,391.1 L396.2,391.8 L396.1,392.2 L396.1,392.5 L395.4,393.0 L395.0,393.1 L394.7,393.3 L394.0,393.8 L394.0,393.9 L393.7,394.5 L393.4,395.2 L393.3,395.3 L392.6,395.9 L392.5,395.9 L391.8,396.3 L391.5,396.5 L391.1,397.0 L391.0,397.2 L390.6,397.9 L390.4,398.1 L389.8,398.6 L389.7,398.6 L389.0,399.0 L388.7,399.2 L388.3,399.8 L388.2,399.9 L387.8,400.6 L387.5,400.8 L386.9,401.3 L386.8,401.4 L386.1,401.8 L385.9,402.0 L385.4,402.4 L385.2,402.6 L384.7,403.3 L384.7,403.3 L384.0,403.9 L383.8,404.0 L383.3,404.3 L382.7,404.7 L382.6,404.8 L382.0,405.3 L381.8,405.5 L381.5,406.0 L381.1,406.3 L380.5,406.7 L380.4,406.8 L379.7,407.3 L379.5,407.4 L379.0,407.9 L378.8,408.0 L378.3,408.6 L378.2,408.7 L377.6,409.1 L377.1,409.4 L376.8,409.5 L376.1,410.0 L376.0,410.1 L375.4,410.6 L375.2,410.8 L374.7,411.1 L374.4,411.4 L374.0,411.7 L373.3,412.1 L373.3,412.1 L372.6,412.6 L372.1,412.8 L371.8,412.9 L371.1,413.4 L371.0,413.5 L370.4,414.1 L370.4,414.1 L369.7,414.7 L369.6,414.8 L369.0,415.1 L368.3,415.5 L368.3,415.5 L367.6,416.1 L367.5,416.2 L367.0,416.8 L366.8,417.0 L366.1,417.5 L366.0,417.5 L365.4,417.7 L364.7,418.1 L364.5,418.2 L364.0,418.7" fill="none" stroke="#ffffff" stroke-opacity="0.9" stroke-width="1.0"/>
<line x1="289.90" y1="489.70" x2="434.50" y2="354.80" stroke="#2a2a2a" stroke-width="1.1" stroke-dasharray="3.2,2.2"/>
<rect x="289.90" y="328.60" width="144.60" height="26.20" fill="none" stroke="#808080" stroke-width="1"/>
<rect x="434.50" y="354.80" width="30.80" height="134.90" fill="none" stroke="#808080" stroke-width="1"/>
<rect x="289.90" y="354.80" width="144.60" height="134.90" fill="none" stroke="#808080" stroke-width="1"/>
<line x1="308.71" y1="489.70" x2="308.71" y2="492.20" stroke="#808080" stroke-width="0.8"/>
<line x1="308.71" y1="354.80" x2="308.71" y2="356.80" stroke="#808080" stroke-width="0.8"/>
<text x="308.7" y="502.9" font-family='"Liberation Serif", serif' font-size="12.5" text-anchor="middle" fill="#1e1e1e" stroke="#1e1e1e" stroke-width="0.27" style="" textLength="15.3" lengthAdjust="spacingAndGlyphs">−8</text>
<line x1="335.96" y1="489.70" x2="335.96" y2="492.20" stroke="#808080" stroke-width="0.8"/>
<line x1="335.96" y1="354.80" x2="335.96" y2="356.80" stroke="#808080" stroke-width="0.8"/>
<text x="336.0" y="502.9" font-family='"Liberation Serif", serif' font-size="12.5" text-anchor="middle" fill="#1e1e1e" stroke="#1e1e1e" stroke-width="0.27" style="" textLength="15.3" lengthAdjust="spacingAndGlyphs">−6</text>
<line x1="363.22" y1="489.70" x2="363.22" y2="492.20" stroke="#808080" stroke-width="0.8"/>
<line x1="363.22" y1="354.80" x2="363.22" y2="356.80" stroke="#808080" stroke-width="0.8"/>
<text x="363.2" y="502.9" font-family='"Liberation Serif", serif' font-size="12.5" text-anchor="middle" fill="#1e1e1e" stroke="#1e1e1e" stroke-width="0.27" style="" textLength="15.3" lengthAdjust="spacingAndGlyphs">−4</text>
<line x1="390.48" y1="489.70" x2="390.48" y2="492.20" stroke="#808080" stroke-width="0.8"/>
<line x1="390.48" y1="354.80" x2="390.48" y2="356.80" stroke="#808080" stroke-width="0.8"/>
<text x="390.5" y="502.9" font-family='"Liberation Serif", serif' font-size="12.5" text-anchor="middle" fill="#1e1e1e" stroke="#1e1e1e" stroke-width="0.27" style="" textLength="15.3" lengthAdjust="spacingAndGlyphs">−2</text>
<line x1="417.74" y1="489.70" x2="417.74" y2="492.20" stroke="#808080" stroke-width="0.8"/>
<line x1="417.74" y1="354.80" x2="417.74" y2="356.80" stroke="#808080" stroke-width="0.8"/>
<text x="417.7" y="502.9" font-family='"Liberation Serif", serif' font-size="12.5" text-anchor="middle" fill="#1e1e1e" stroke="#1e1e1e" stroke-width="0.27" style="" textLength="6.1" lengthAdjust="spacingAndGlyphs">0</text>
<line x1="287.40" y1="472.79" x2="289.90" y2="472.79" stroke="#808080" stroke-width="0.8"/>
<text x="285.6" y="477.0" font-family='"Liberation Serif", serif' font-size="12.5" text-anchor="end" fill="#1e1e1e" stroke="#1e1e1e" stroke-width="0.27" style="" textLength="15.3" lengthAdjust="spacingAndGlyphs">−8</text>
<line x1="287.40" y1="447.36" x2="289.90" y2="447.36" stroke="#808080" stroke-width="0.8"/>
<text x="285.6" y="451.6" font-family='"Liberation Serif", serif' font-size="12.5" text-anchor="end" fill="#1e1e1e" stroke="#1e1e1e" stroke-width="0.27" style="" textLength="15.3" lengthAdjust="spacingAndGlyphs">−6</text>
<line x1="287.40" y1="421.93" x2="289.90" y2="421.93" stroke="#808080" stroke-width="0.8"/>
<text x="285.6" y="426.1" font-family='"Liberation Serif", serif' font-size="12.5" text-anchor="end" fill="#1e1e1e" stroke="#1e1e1e" stroke-width="0.27" style="" textLength="15.3" lengthAdjust="spacingAndGlyphs">−4</text>
<line x1="287.40" y1="396.50" x2="289.90" y2="396.50" stroke="#808080" stroke-width="0.8"/>
<text x="285.6" y="400.7" font-family='"Liberation Serif", serif' font-size="12.5" text-anchor="end" fill="#1e1e1e" stroke="#1e1e1e" stroke-width="0.27" style="" textLength="15.3" lengthAdjust="spacingAndGlyphs">−2</text>
<line x1="287.40" y1="371.07" x2="289.90" y2="371.07" stroke="#808080" stroke-width="0.8"/>
<text x="285.6" y="375.3" font-family='"Liberation Serif", serif' font-size="12.5" text-anchor="end" fill="#1e1e1e" stroke="#1e1e1e" stroke-width="0.27" style="" textLength="6.1" lengthAdjust="spacingAndGlyphs">0</text>
<line x1="287.40" y1="329.30" x2="289.90" y2="329.30" stroke="#808080" stroke-width="0.8"/>
<line x1="287.40" y1="354.30" x2="289.90" y2="354.30" stroke="#808080" stroke-width="0.8"/>
<line x1="458.20" y1="489.70" x2="458.20" y2="492.20" stroke="#808080" stroke-width="0.8"/>
<path d="M289.9,354.5 C299.5,354.5 336.1,354.6 347.3,354.5 C358.5,354.4 354.6,354.5 357.0,353.6 C359.4,352.7 360.3,351.6 361.9,349.2 C363.5,346.8 365.1,342.4 366.7,339.5 C368.3,336.6 370.0,333.5 371.5,331.8 C373.0,330.1 374.5,329.5 375.9,329.4 C377.3,329.3 378.3,329.8 380.0,331.1 C381.7,332.4 383.9,334.9 386.1,337.1 C388.3,339.3 390.9,342.5 393.3,344.4 C395.7,346.3 397.4,347.5 400.6,348.5 C403.8,349.5 408.7,349.8 412.7,350.4 C416.7,351.0 421.2,351.7 424.8,352.4 C428.4,353.1 432.9,354.1 434.5,354.5" fill="none" stroke="#404040" stroke-width="1.15" stroke-dasharray="3.3,1.8"/>
<path d="M435.0,355.2 C435.0,356.7 434.6,361.8 435.0,364.0 C435.4,366.2 436.4,367.0 437.2,368.2 C438.0,369.4 439.8,370.1 440.0,371.0 C440.2,371.9 439.1,372.8 438.6,373.7 C438.1,374.6 437.1,374.6 437.2,376.5 C437.3,378.4 438.2,381.9 439.4,384.9 C440.6,387.9 442.2,391.9 444.2,394.7 C446.2,397.5 448.6,399.8 451.2,401.7 C453.8,403.6 457.5,404.5 459.6,405.9 C461.7,407.3 463.8,408.8 463.8,410.1 C463.8,411.4 462.2,412.8 459.6,413.7 C457.0,414.6 451.9,415.0 448.4,415.7 C444.9,416.4 440.7,416.5 438.6,417.6 C436.5,418.8 436.4,419.9 435.8,422.6 C435.2,425.3 435.1,422.6 435.0,433.8 C434.9,445.0 435.0,480.4 435.0,489.7" fill="none" stroke="#404040" stroke-width="1.15" stroke-dasharray="4.6,1.4,1.2,1.4"/>
<rect x="294.80" y="334.10" width="52.70" height="13.70" fill="#ffffff" stroke="#dcdcdc" stroke-width="1" rx="2.5"/>
<line x1="298.00" y1="340.60" x2="315.70" y2="340.60" stroke="#333" stroke-width="1.3" stroke-dasharray="3.2,1.6"/>
<text x="323.6" y="344.2" font-family='"Liberation Serif", serif' font-size="9.5" text-anchor="start" fill="#1e1e1e" stroke="#1e1e1e" stroke-width="0.21" style="" textLength="20.1" lengthAdjust="spacingAndGlyphs">SAM</text>
<rect x="439.70" y="340.90" width="53.00" height="13.90" fill="#ffffff" stroke="#dcdcdc" stroke-width="1" rx="2.5"/>
<line x1="442.70" y1="347.20" x2="460.60" y2="347.20" stroke="#333" stroke-width="1.3" stroke-dasharray="4.2,1.2,1,1.2"/>
<text x="468.7" y="350.3" font-family='"Liberation Serif", serif' font-size="9.5" text-anchor="start" fill="#1e1e1e" stroke="#1e1e1e" stroke-width="0.21" style="" textLength="21.5" lengthAdjust="spacingAndGlyphs">GNN</text>
<rect x="473.20" y="355.50" width="4.60" height="134.00" fill="url(#vir)"/>
<line x1="477.80" y1="489.50" x2="480.30" y2="489.50" stroke="#444" stroke-width="0.8"/>
<text x="482.8" y="494.0" font-family='"Liberation Serif", serif' font-size="13" text-anchor="start" fill="#1e1e1e" stroke="#1e1e1e" stroke-width="0.29" style="" textLength="12.2" lengthAdjust="spacingAndGlyphs">10</text>
<text x="496.0" y="489.8" font-family='"Liberation Serif", serif' font-size="9.1" text-anchor="start" fill="#1e1e1e" stroke="#1e1e1e" stroke-width="0.20" style="" textLength="4.0" lengthAdjust="spacingAndGlyphs">0</text>
<line x1="477.80" y1="476.01" x2="479.20" y2="476.01" stroke="#444" stroke-width="0.6"/>
<line x1="477.80" y1="468.12" x2="479.20" y2="468.12" stroke="#444" stroke-width="0.6"/>
<line x1="477.80" y1="462.52" x2="479.20" y2="462.52" stroke="#444" stroke-width="0.6"/>
<line x1="477.80" y1="458.17" x2="479.20" y2="458.17" stroke="#444" stroke-width="0.6"/>
<line x1="477.80" y1="454.63" x2="479.20" y2="454.63" stroke="#444" stroke-width="0.6"/>
<line x1="477.80" y1="451.63" x2="479.20" y2="451.63" stroke="#444" stroke-width="0.6"/>
<line x1="477.80" y1="449.03" x2="479.20" y2="449.03" stroke="#444" stroke-width="0.6"/>
<line x1="477.80" y1="446.73" x2="479.20" y2="446.73" stroke="#444" stroke-width="0.6"/>
<line x1="477.80" y1="444.68" x2="480.30" y2="444.68" stroke="#444" stroke-width="0.8"/>
<text x="482.8" y="449.2" font-family='"Liberation Serif", serif' font-size="13" text-anchor="start" fill="#1e1e1e" stroke="#1e1e1e" stroke-width="0.29" style="" textLength="12.2" lengthAdjust="spacingAndGlyphs">10</text>
<text x="496.0" y="445.0" font-family='"Liberation Serif", serif' font-size="9.1" text-anchor="start" fill="#1e1e1e" stroke="#1e1e1e" stroke-width="0.20" style="" textLength="4.0" lengthAdjust="spacingAndGlyphs">1</text>
<line x1="477.80" y1="431.19" x2="479.20" y2="431.19" stroke="#444" stroke-width="0.6"/>
<line x1="477.80" y1="423.30" x2="479.20" y2="423.30" stroke="#444" stroke-width="0.6"/>
<line x1="477.80" y1="417.70" x2="479.20" y2="417.70" stroke="#444" stroke-width="0.6"/>
<line x1="477.80" y1="413.36" x2="479.20" y2="413.36" stroke="#444" stroke-width="0.6"/>
<line x1="477.80" y1="409.81" x2="479.20" y2="409.81" stroke="#444" stroke-width="0.6"/>
<line x1="477.80" y1="406.81" x2="479.20" y2="406.81" stroke="#444" stroke-width="0.6"/>
<line x1="477.80" y1="404.21" x2="479.20" y2="404.21" stroke="#444" stroke-width="0.6"/>
<line x1="477.80" y1="401.92" x2="479.20" y2="401.92" stroke="#444" stroke-width="0.6"/>
<line x1="477.80" y1="399.87" x2="480.30" y2="399.87" stroke="#444" stroke-width="0.8"/>
<text x="482.8" y="404.4" font-family='"Liberation Serif", serif' font-size="13" text-anchor="start" fill="#1e1e1e" stroke="#1e1e1e" stroke-width="0.29" style="" textLength="12.2" lengthAdjust="spacingAndGlyphs">10</text>
<text x="496.0" y="400.2" font-family='"Liberation Serif", serif' font-size="9.1" text-anchor="start" fill="#1e1e1e" stroke="#1e1e1e" stroke-width="0.20" style="" textLength="4.0" lengthAdjust="spacingAndGlyphs">2</text>
<line x1="477.80" y1="386.38" x2="479.20" y2="386.38" stroke="#444" stroke-width="0.6"/>
<line x1="477.80" y1="378.49" x2="479.20" y2="378.49" stroke="#444" stroke-width="0.6"/>
<line x1="477.80" y1="372.89" x2="479.20" y2="372.89" stroke="#444" stroke-width="0.6"/>
<line x1="477.80" y1="368.54" x2="479.20" y2="368.54" stroke="#444" stroke-width="0.6"/>
<line x1="477.80" y1="364.99" x2="479.20" y2="364.99" stroke="#444" stroke-width="0.6"/>
<line x1="477.80" y1="361.99" x2="479.20" y2="361.99" stroke="#444" stroke-width="0.6"/>
<line x1="477.80" y1="359.39" x2="479.20" y2="359.39" stroke="#444" stroke-width="0.6"/>
<line x1="477.80" y1="357.10" x2="479.20" y2="357.10" stroke="#444" stroke-width="0.6"/>
<text x="306.0" y="324.0" font-family='"Liberation Serif", serif' font-size="14.5" text-anchor="start" fill="#1e1e1e" stroke="#1e1e1e" stroke-width="0.32" style="" textLength="65.8" lengthAdjust="spacingAndGlyphs">SAM-GNN</text>
<text x="377.3" y="324.0" font-family='"Liberation Sans", sans-serif' font-size="12.2" text-anchor="start" fill="#1e1e1e" stroke="#1e1e1e" stroke-width="0.27" style="font-style:italic;" textLength="22.8" lengthAdjust="spacingAndGlyphs">SFR</text>
<text x="402.4" y="325.9" font-family='"Liberation Sans", sans-serif' font-size="10.5" text-anchor="start" fill="#1e1e1e" stroke="#1e1e1e" stroke-width="0.23" style="" textLength="16.0" lengthAdjust="spacingAndGlyphs">100</text>
<text x="327.1" y="516.6" font-family='"Liberation Serif", serif' font-size="14" text-anchor="start" fill="#1e1e1e" stroke="#1e1e1e" stroke-width="0.31" style="" textLength="28.0" lengthAdjust="spacingAndGlyphs">SAM</text>
<text x="358.7" y="516.6" font-family='"Liberation Sans", sans-serif' font-size="12.2" text-anchor="start" fill="#1e1e1e" stroke="#1e1e1e" stroke-width="0.27" style="font-style:italic;" textLength="22.5" lengthAdjust="spacingAndGlyphs">SFR</text>
<text x="382.8" y="518.5" font-family='"Liberation Sans", sans-serif' font-size="10.5" text-anchor="start" fill="#1e1e1e" stroke="#1e1e1e" stroke-width="0.23" style="" textLength="14.8" lengthAdjust="spacingAndGlyphs">100</text>
<g transform="translate(263.9,0) rotate(-90)">
<text x="-457.0" y="0.0" font-family='"Liberation Serif", serif' font-size="14" text-anchor="start" fill="#1e1e1e" stroke="#1e1e1e" stroke-width="0.31" style="" textLength="27.0" lengthAdjust="spacingAndGlyphs">GNN</text>
<text x="-426.7" y="0.0" font-family='"Liberation Sans", sans-serif' font-size="12.2" text-anchor="start" fill="#1e1e1e" stroke="#1e1e1e" stroke-width="0.27" style="font-style:italic;" textLength="22.1" lengthAdjust="spacingAndGlyphs">SFR</text>
<text x="-402.1" y="1.9" font-family='"Liberation Sans", sans-serif' font-size="10.5" text-anchor="start" fill="#1e1e1e" stroke="#1e1e1e" stroke-width="0.23" style="" textLength="14.7" lengthAdjust="spacingAndGlyphs">100</text>
</g>
<text x="355.3" y="462.4" font-family='"Liberation Serif", serif' font-size="10.3" text-anchor="start" fill="#1e1e1e" stroke="#1e1e1e" stroke-width="0.23" style="" textLength="76.7" lengthAdjust="spacingAndGlyphs">Bias : 0.022 dex</text>
<text x="355.3" y="471.9" font-family='"Liberation Sans", sans-serif' font-size="10.3" text-anchor="start" fill="#1e1e1e" stroke="#1e1e1e" stroke-width="0.23" style="font-style:italic;">σ</text>
<text x="361.0" y="471.9" font-family='"Liberation Serif", serif' font-size="10.3" text-anchor="start" fill="#1e1e1e" stroke="#1e1e1e" stroke-width="0.23" style="" textLength="56.5" lengthAdjust="spacingAndGlyphs"> : 0.347 dex</text>
<text x="355.3" y="481.4" font-family='"Liberation Serif", serif' font-size="10.3" text-anchor="start" fill="#1e1e1e" stroke="#1e1e1e" stroke-width="0.23" style="" textLength="74.7" lengthAdjust="spacingAndGlyphs">Pearson:  0.938</text>
<g shape-rendering="crispEdges">
<rect x="666.20" y="355.00" width="3.25" height="0.50" fill="#482173"/>
<rect x="683.90" y="355.00" width="3.25" height="0.50" fill="#440154"/>
<rect x="686.85" y="355.00" width="3.25" height="0.50" fill="#433e85"/>
<rect x="689.80" y="355.00" width="3.25" height="0.50" fill="#440154"/>
<rect x="692.75" y="355.00" width="1.25" height="0.50" fill="#440154"/>
<rect x="686.85" y="355.20" width="3.25" height="3.10" fill="#433e85"/>
<rect x="689.80" y="355.20" width="3.25" height="3.10" fill="#482173"/>
<rect x="692.75" y="355.20" width="1.25" height="3.10" fill="#433e85"/>
<rect x="680.95" y="358.00" width="3.25" height="3.10" fill="#433e85"/>
<rect x="686.85" y="358.00" width="3.25" height="3.10" fill="#46327e"/>
<rect x="689.80" y="358.00" width="3.25" height="3.10" fill="#46327e"/>
<rect x="692.75" y="358.00" width="1.25" height="3.10" fill="#46327e"/>
<rect x="672.10" y="360.80" width="3.25" height="3.10" fill="#440154"/>
<rect x="678.00" y="360.80" width="3.25" height="3.10" fill="#482173"/>
<rect x="680.95" y="360.80" width="3.25" height="3.10" fill="#440154"/>
<rect x="683.90" y="360.80" width="3.25" height="3.10" fill="#46327e"/>
<rect x="686.85" y="360.80" width="3.25" height="3.10" fill="#482173"/>
<rect x="689.80" y="360.80" width="3.25" height="3.10" fill="#440154"/>
<rect x="692.75" y="360.80" width="1.25" height="3.10" fill="#404688"/>
<rect x="669.15" y="363.60" width="3.25" height="3.10" fill="#440154"/>
<rect x="672.10" y="363.60" width="3.25" height="3.10" fill="#482173"/>
<rect x="675.05" y="363.60" width="3.25" height="3.10" fill="#482173"/>
<rect x="678.00" y="363.60" width="3.25" height="3.10" fill="#46327e"/>
<rect x="680.95" y="363.60" width="3.25" height="3.10" fill="#440154"/>
<rect x="683.90" y="363.60" width="3.25" height="3.10" fill="#46327e"/>
<rect x="686.85" y="363.60" width="3.25" height="3.10" fill="#482173"/>
<rect x="689.80" y="363.60" width="3.25" height="3.10" fill="#433e85"/>
<rect x="692.75" y="363.60" width="1.25" height="3.10" fill="#440154"/>
<rect x="663.25" y="366.40" width="3.25" height="3.10" fill="#440154"/>
<rect x="672.10" y="366.40" width="3.25" height="3.10" fill="#482173"/>
<rect x="675.05" y="366.40" width="3.25" height="3.10" fill="#46327e"/>
<rect x="678.00" y="366.40" width="3.25" height="3.10" fill="#482173"/>
<rect x="680.95" y="366.40" width="3.25" height="3.10" fill="#482173"/>
<rect x="683.90" y="366.40" width="3.25" height="3.10" fill="#46327e"/>
<rect x="686.85" y="366.40" width="3.25" height="3.10" fill="#482173"/>
<rect x="692.75" y="366.40" width="1.25" height="3.10" fill="#440154"/>
<rect x="660.30" y="369.20" width="3.25" height="3.10" fill="#482173"/>
<rect x="663.25" y="369.20" width="3.25" height="3.10" fill="#482173"/>
<rect x="666.20" y="369.20" width="3.25" height="3.10" fill="#482173"/>
<rect x="669.15" y="369.20" width="3.25" height="3.10" fill="#46327e"/>
<rect x="672.10" y="369.20" width="3.25" height="3.10" fill="#433e85"/>
<rect x="675.05" y="369.20" width="3.25" height="3.10" fill="#433e85"/>
<rect x="680.95" y="369.20" width="3.25" height="3.10" fill="#404688"/>
<rect x="686.85" y="369.20" width="3.25" height="3.10" fill="#46327e"/>
<rect x="689.80" y="369.20" width="3.25" height="3.10" fill="#440154"/>
<rect x="660.30" y="372.00" width="3.25" height="3.10" fill="#482173"/>
<rect x="663.25" y="372.00" width="3.25" height="3.10" fill="#46327e"/>
<rect x="666.20" y="372.00" width="3.25" height="3.10" fill="#482173"/>
<rect x="672.10" y="372.00" width="3.25" height="3.10" fill="#404688"/>
<rect x="675.05" y="372.00" width="3.25" height="3.10" fill="#440154"/>
<rect x="678.00" y="372.00" width="3.25" height="3.10" fill="#482173"/>
<rect x="680.95" y="372.00" width="3.25" height="3.10" fill="#440154"/>
<rect x="683.90" y="372.00" width="3.25" height="3.10" fill="#433e85"/>
<rect x="686.85" y="372.00" width="3.25" height="3.10" fill="#440154"/>
<rect x="689.80" y="372.00" width="3.25" height="3.10" fill="#440154"/>
<rect x="651.45" y="374.80" width="3.25" height="3.10" fill="#440154"/>
<rect x="657.35" y="374.80" width="3.25" height="3.10" fill="#482173"/>
<rect x="660.30" y="374.80" width="3.25" height="3.10" fill="#482173"/>
<rect x="663.25" y="374.80" width="3.25" height="3.10" fill="#404688"/>
<rect x="666.20" y="374.80" width="3.25" height="3.10" fill="#482173"/>
<rect x="669.15" y="374.80" width="3.25" height="3.10" fill="#482173"/>
<rect x="672.10" y="374.80" width="3.25" height="3.10" fill="#404688"/>
<rect x="675.05" y="374.80" width="3.25" height="3.10" fill="#482173"/>
<rect x="678.00" y="374.80" width="3.25" height="3.10" fill="#440154"/>
<rect x="680.95" y="374.80" width="3.25" height="3.10" fill="#482173"/>
<rect x="654.40" y="377.60" width="3.25" height="3.10" fill="#440154"/>
<rect x="657.35" y="377.60" width="3.25" height="3.10" fill="#440154"/>
<rect x="660.30" y="377.60" width="3.25" height="3.10" fill="#433e85"/>
<rect x="663.25" y="377.60" width="3.25" height="3.10" fill="#3d4d8a"/>
<rect x="666.20" y="377.60" width="3.25" height="3.10" fill="#433e85"/>
<rect x="669.15" y="377.60" width="3.25" height="3.10" fill="#482173"/>
<rect x="672.10" y="377.60" width="3.25" height="3.10" fill="#404688"/>
<rect x="675.05" y="377.60" width="3.25" height="3.10" fill="#404688"/>
<rect x="678.00" y="377.60" width="3.25" height="3.10" fill="#440154"/>
<rect x="680.95" y="377.60" width="3.25" height="3.10" fill="#440154"/>
<rect x="683.90" y="377.60" width="3.25" height="3.10" fill="#482173"/>
<rect x="648.50" y="380.40" width="3.25" height="3.10" fill="#46327e"/>
<rect x="651.45" y="380.40" width="3.25" height="3.10" fill="#440154"/>
<rect x="654.40" y="380.40" width="3.25" height="3.10" fill="#482173"/>
<rect x="660.30" y="380.40" width="3.25" height="3.10" fill="#46327e"/>
<rect x="663.25" y="380.40" width="3.25" height="3.10" fill="#482173"/>
<rect x="666.20" y="380.40" width="3.25" height="3.10" fill="#433e85"/>
<rect x="669.15" y="380.40" width="3.25" height="3.10" fill="#433e85"/>
<rect x="672.10" y="380.40" width="3.25" height="3.10" fill="#404688"/>
<rect x="675.05" y="380.40" width="3.25" height="3.10" fill="#46327e"/>
<rect x="678.00" y="380.40" width="3.25" height="3.10" fill="#46327e"/>
<rect x="651.45" y="383.20" width="3.25" height="3.10" fill="#482173"/>
<rect x="654.40" y="383.20" width="3.25" height="3.10" fill="#46327e"/>
<rect x="657.35" y="383.20" width="3.25" height="3.10" fill="#482173"/>
<rect x="660.30" y="383.20" width="3.25" height="3.10" fill="#3b528b"/>
<rect x="663.25" y="383.20" width="3.25" height="3.10" fill="#355f8d"/>
<rect x="669.15" y="383.20" width="3.25" height="3.10" fill="#46327e"/>
<rect x="672.10" y="383.20" width="3.25" height="3.10" fill="#46327e"/>
<rect x="675.05" y="383.20" width="3.25" height="3.10" fill="#440154"/>
<rect x="678.00" y="383.20" width="3.25" height="3.10" fill="#440154"/>
<rect x="651.45" y="386.00" width="3.25" height="3.10" fill="#46327e"/>
<rect x="654.40" y="386.00" width="3.25" height="3.10" fill="#482173"/>
<rect x="657.35" y="386.00" width="3.25" height="3.10" fill="#433e85"/>
<rect x="660.30" y="386.00" width="3.25" height="3.10" fill="#440154"/>
<rect x="663.25" y="386.00" width="3.25" height="3.10" fill="#46327e"/>
<rect x="666.20" y="386.00" width="3.25" height="3.10" fill="#46327e"/>
<rect x="669.15" y="386.00" width="3.25" height="3.10" fill="#482173"/>
<rect x="672.10" y="386.00" width="3.25" height="3.10" fill="#440154"/>
<rect x="645.55" y="388.80" width="3.25" height="3.10" fill="#440154"/>
<rect x="648.50" y="388.80" width="3.25" height="3.10" fill="#3d4d8a"/>
<rect x="651.45" y="388.80" width="3.25" height="3.10" fill="#3b528b"/>
<rect x="654.40" y="388.80" width="3.25" height="3.10" fill="#355f8d"/>
<rect x="657.35" y="388.80" width="3.25" height="3.10" fill="#3d4d8a"/>
<rect x="660.30" y="388.80" width="3.25" height="3.10" fill="#433e85"/>
<rect x="663.25" y="388.80" width="3.25" height="3.10" fill="#404688"/>
<rect x="666.20" y="388.80" width="3.25" height="3.10" fill="#482173"/>
<rect x="669.15" y="388.80" width="3.25" height="3.10" fill="#440154"/>
<rect x="672.10" y="388.80" width="3.25" height="3.10" fill="#440154"/>
<rect x="633.75" y="391.60" width="3.25" height="3.10" fill="#440154"/>
<rect x="642.60" y="391.60" width="3.25" height="3.10" fill="#433e85"/>
<rect x="645.55" y="391.60" width="3.25" height="3.10" fill="#3d4d8a"/>
<rect x="648.50" y="391.60" width="3.25" height="3.10" fill="#433e85"/>
<rect x="651.45" y="391.60" width="3.25" height="3.10" fill="#46327e"/>
<rect x="654.40" y="391.60" width="3.25" height="3.10" fill="#46327e"/>
<rect x="657.35" y="391.60" width="3.25" height="3.10" fill="#440154"/>
<rect x="660.30" y="391.60" width="3.25" height="3.10" fill="#46327e"/>
<rect x="663.25" y="391.60" width="3.25" height="3.10" fill="#440154"/>
<rect x="666.20" y="391.60" width="3.25" height="3.10" fill="#482173"/>
<rect x="669.15" y="391.60" width="3.25" height="3.10" fill="#440154"/>
<rect x="672.10" y="391.60" width="3.25" height="3.10" fill="#482173"/>
<rect x="683.90" y="391.60" width="3.25" height="3.10" fill="#440154"/>
<rect x="636.70" y="394.40" width="3.25" height="3.10" fill="#46327e"/>
<rect x="639.65" y="394.40" width="3.25" height="3.10" fill="#404688"/>
<rect x="642.60" y="394.40" width="3.25" height="3.10" fill="#375b8d"/>
<rect x="645.55" y="394.40" width="3.25" height="3.10" fill="#375b8d"/>
<rect x="648.50" y="394.40" width="3.25" height="3.10" fill="#38588c"/>
<rect x="651.45" y="394.40" width="3.25" height="3.10" fill="#33628d"/>
<rect x="654.40" y="394.40" width="3.25" height="3.10" fill="#46327e"/>
<rect x="657.35" y="394.40" width="3.25" height="3.10" fill="#375b8d"/>
<rect x="660.30" y="394.40" width="3.25" height="3.10" fill="#404688"/>
<rect x="663.25" y="394.40" width="3.25" height="3.10" fill="#440154"/>
<rect x="669.15" y="394.40" width="3.25" height="3.10" fill="#440154"/>
<rect x="678.00" y="394.40" width="3.25" height="3.10" fill="#440154"/>
<rect x="633.75" y="397.20" width="3.25" height="3.10" fill="#440154"/>
<rect x="636.70" y="397.20" width="3.25" height="3.10" fill="#440154"/>
<rect x="639.65" y="397.20" width="3.25" height="3.10" fill="#3b528b"/>
<rect x="642.60" y="397.20" width="3.25" height="3.10" fill="#355f8d"/>
<rect x="645.55" y="397.20" width="3.25" height="3.10" fill="#404688"/>
<rect x="648.50" y="397.20" width="3.25" height="3.10" fill="#482173"/>
<rect x="651.45" y="397.20" width="3.25" height="3.10" fill="#46327e"/>
<rect x="654.40" y="397.20" width="3.25" height="3.10" fill="#3b528b"/>
<rect x="657.35" y="397.20" width="3.25" height="3.10" fill="#440154"/>
<rect x="660.30" y="397.20" width="3.25" height="3.10" fill="#440154"/>
<rect x="666.20" y="397.20" width="3.25" height="3.10" fill="#440154"/>
<rect x="633.75" y="400.00" width="3.25" height="3.10" fill="#440154"/>
<rect x="636.70" y="400.00" width="3.25" height="3.10" fill="#3d4d8a"/>
<rect x="639.65" y="400.00" width="3.25" height="3.10" fill="#482173"/>
<rect x="642.60" y="400.00" width="3.25" height="3.10" fill="#32658e"/>
<rect x="645.55" y="400.00" width="3.25" height="3.10" fill="#355f8d"/>
<rect x="648.50" y="400.00" width="3.25" height="3.10" fill="#355f8d"/>
<rect x="651.45" y="400.00" width="3.25" height="3.10" fill="#433e85"/>
<rect x="654.40" y="400.00" width="3.25" height="3.10" fill="#482173"/>
<rect x="666.20" y="400.00" width="3.25" height="3.10" fill="#440154"/>
<rect x="607.20" y="402.80" width="3.25" height="3.10" fill="#440154"/>
<rect x="630.80" y="402.80" width="3.25" height="3.10" fill="#440154"/>
<rect x="633.75" y="402.80" width="3.25" height="3.10" fill="#355f8d"/>
<rect x="636.70" y="402.80" width="3.25" height="3.10" fill="#32658e"/>
<rect x="639.65" y="402.80" width="3.25" height="3.10" fill="#482173"/>
<rect x="642.60" y="402.80" width="3.25" height="3.10" fill="#355f8d"/>
<rect x="645.55" y="402.80" width="3.25" height="3.10" fill="#3b528b"/>
<rect x="648.50" y="402.80" width="3.25" height="3.10" fill="#482173"/>
<rect x="651.45" y="402.80" width="3.25" height="3.10" fill="#440154"/>
<rect x="654.40" y="402.80" width="3.25" height="3.10" fill="#440154"/>
<rect x="666.20" y="402.80" width="3.25" height="3.10" fill="#440154"/>
<rect x="621.95" y="405.60" width="3.25" height="3.10" fill="#440154"/>
<rect x="630.80" y="405.60" width="3.25" height="3.10" fill="#404688"/>
<rect x="633.75" y="405.60" width="3.25" height="3.10" fill="#3b528b"/>
<rect x="636.70" y="405.60" width="3.25" height="3.10" fill="#38588c"/>
<rect x="639.65" y="405.60" width="3.25" height="3.10" fill="#404688"/>
<rect x="642.60" y="405.60" width="3.25" height="3.10" fill="#33628d"/>
<rect x="645.55" y="405.60" width="3.25" height="3.10" fill="#38588c"/>
<rect x="648.50" y="405.60" width="3.25" height="3.10" fill="#482173"/>
<rect x="651.45" y="405.60" width="3.25" height="3.10" fill="#440154"/>
<rect x="654.40" y="405.60" width="3.25" height="3.10" fill="#440154"/>
<rect x="678.00" y="405.60" width="3.25" height="3.10" fill="#440154"/>
<rect x="610.15" y="408.40" width="3.25" height="3.10" fill="#440154"/>
<rect x="613.10" y="408.40" width="3.25" height="3.10" fill="#440154"/>
<rect x="621.95" y="408.40" width="3.25" height="3.10" fill="#482173"/>
<rect x="627.85" y="408.40" width="3.25" height="3.10" fill="#433e85"/>
<rect x="630.80" y="408.40" width="3.25" height="3.10" fill="#355f8d"/>
<rect x="633.75" y="408.40" width="3.25" height="3.10" fill="#32658e"/>
<rect x="636.70" y="408.40" width="3.25" height="3.10" fill="#2d718e"/>
<rect x="639.65" y="408.40" width="3.25" height="3.10" fill="#38588c"/>
<rect x="642.60" y="408.40" width="3.25" height="3.10" fill="#38588c"/>
<rect x="645.55" y="408.40" width="3.25" height="3.10" fill="#3d4d8a"/>
<rect x="648.50" y="408.40" width="3.25" height="3.10" fill="#482173"/>
<rect x="651.45" y="408.40" width="3.25" height="3.10" fill="#482173"/>
<rect x="686.85" y="408.40" width="3.25" height="3.10" fill="#440154"/>
<rect x="604.25" y="411.20" width="3.25" height="3.10" fill="#440154"/>
<rect x="613.10" y="411.20" width="3.25" height="3.10" fill="#440154"/>
<rect x="616.05" y="411.20" width="3.25" height="3.10" fill="#440154"/>
<rect x="619.00" y="411.20" width="3.25" height="3.10" fill="#440154"/>
<rect x="621.95" y="411.20" width="3.25" height="3.10" fill="#440154"/>
<rect x="624.90" y="411.20" width="3.25" height="3.10" fill="#433e85"/>
<rect x="627.85" y="411.20" width="3.25" height="3.10" fill="#31688e"/>
<rect x="630.80" y="411.20" width="3.25" height="3.10" fill="#33628d"/>
<rect x="633.75" y="411.20" width="3.25" height="3.10" fill="#2c718e"/>
<rect x="636.70" y="411.20" width="3.25" height="3.10" fill="#38588c"/>
<rect x="639.65" y="411.20" width="3.25" height="3.10" fill="#38588c"/>
<rect x="642.60" y="411.20" width="3.25" height="3.10" fill="#46327e"/>
<rect x="645.55" y="411.20" width="3.25" height="3.10" fill="#433e85"/>
<rect x="616.05" y="414.00" width="3.25" height="3.10" fill="#440154"/>
<rect x="619.00" y="414.00" width="3.25" height="3.10" fill="#440154"/>
<rect x="621.95" y="414.00" width="3.25" height="3.10" fill="#3b528b"/>
<rect x="624.90" y="414.00" width="3.25" height="3.10" fill="#33628d"/>
<rect x="627.85" y="414.00" width="3.25" height="3.10" fill="#2f6c8e"/>
<rect x="630.80" y="414.00" width="3.25" height="3.10" fill="#2c738e"/>
<rect x="633.75" y="414.00" width="3.25" height="3.10" fill="#2c738e"/>
<rect x="636.70" y="414.00" width="3.25" height="3.10" fill="#2e6f8e"/>
<rect x="639.65" y="414.00" width="3.25" height="3.10" fill="#404688"/>
<rect x="642.60" y="414.00" width="3.25" height="3.10" fill="#46327e"/>
<rect x="645.55" y="414.00" width="3.25" height="3.10" fill="#440154"/>
<rect x="669.15" y="414.00" width="3.25" height="3.10" fill="#440154"/>
<rect x="604.25" y="416.80" width="3.25" height="3.10" fill="#440154"/>
<rect x="607.20" y="416.80" width="3.25" height="3.10" fill="#482173"/>
<rect x="610.15" y="416.80" width="3.25" height="3.10" fill="#482173"/>
<rect x="613.10" y="416.80" width="3.25" height="3.10" fill="#433e85"/>
<rect x="616.05" y="416.80" width="3.25" height="3.10" fill="#375b8d"/>
<rect x="619.00" y="416.80" width="3.25" height="3.10" fill="#355f8d"/>
<rect x="621.95" y="416.80" width="3.25" height="3.10" fill="#2d718e"/>
<rect x="624.90" y="416.80" width="3.25" height="3.10" fill="#2d718e"/>
<rect x="627.85" y="416.80" width="3.25" height="3.10" fill="#277f8e"/>
<rect x="630.80" y="416.80" width="3.25" height="3.10" fill="#2d718e"/>
<rect x="633.75" y="416.80" width="3.25" height="3.10" fill="#31688e"/>
<rect x="636.70" y="416.80" width="3.25" height="3.10" fill="#3b528b"/>
<rect x="639.65" y="416.80" width="3.25" height="3.10" fill="#3d4d8a"/>
<rect x="642.60" y="416.80" width="3.25" height="3.10" fill="#440154"/>
<rect x="601.30" y="419.60" width="3.25" height="3.10" fill="#440154"/>
<rect x="607.20" y="419.60" width="3.25" height="3.10" fill="#482173"/>
<rect x="610.15" y="419.60" width="3.25" height="3.10" fill="#375b8d"/>
<rect x="613.10" y="419.60" width="3.25" height="3.10" fill="#31688e"/>
<rect x="616.05" y="419.60" width="3.25" height="3.10" fill="#2a788e"/>
<rect x="619.00" y="419.60" width="3.25" height="3.10" fill="#2c718e"/>
<rect x="621.95" y="419.60" width="3.25" height="3.10" fill="#2b758e"/>
<rect x="624.90" y="419.60" width="3.25" height="3.10" fill="#277e8e"/>
<rect x="627.85" y="419.60" width="3.25" height="3.10" fill="#306a8e"/>
<rect x="630.80" y="419.60" width="3.25" height="3.10" fill="#32658e"/>
<rect x="633.75" y="419.60" width="3.25" height="3.10" fill="#2d718e"/>
<rect x="636.70" y="419.60" width="3.25" height="3.10" fill="#404688"/>
<rect x="639.65" y="419.60" width="3.25" height="3.10" fill="#440154"/>
<rect x="645.55" y="419.60" width="3.25" height="3.10" fill="#440154"/>
<rect x="601.30" y="422.40" width="3.25" height="3.10" fill="#440154"/>
<rect x="604.25" y="422.40" width="3.25" height="3.10" fill="#433e85"/>
<rect x="607.20" y="422.40" width="3.25" height="3.10" fill="#2c718e"/>
<rect x="610.15" y="422.40" width="3.25" height="3.10" fill="#2b758e"/>
<rect x="613.10" y="422.40" width="3.25" height="3.10" fill="#2e6f8e"/>
<rect x="616.05" y="422.40" width="3.25" height="3.10" fill="#25848e"/>
<rect x="619.00" y="422.40" width="3.25" height="3.10" fill="#277f8e"/>
<rect x="621.95" y="422.40" width="3.25" height="3.10" fill="#2a778e"/>
<rect x="624.90" y="422.40" width="3.25" height="3.10" fill="#2c738e"/>
<rect x="627.85" y="422.40" width="3.25" height="3.10" fill="#31688e"/>
<rect x="630.80" y="422.40" width="3.25" height="3.10" fill="#31688e"/>
<rect x="633.75" y="422.40" width="3.25" height="3.10" fill="#433e85"/>
<rect x="639.65" y="422.40" width="3.25" height="3.10" fill="#440154"/>
<rect x="645.55" y="422.40" width="3.25" height="3.10" fill="#440154"/>
<rect x="648.50" y="422.40" width="3.25" height="3.10" fill="#440154"/>
<rect x="589.50" y="425.20" width="3.25" height="3.10" fill="#440154"/>
<rect x="592.45" y="425.20" width="3.25" height="3.10" fill="#440154"/>
<rect x="595.40" y="425.20" width="3.25" height="3.10" fill="#440154"/>
<rect x="598.35" y="425.20" width="3.25" height="3.10" fill="#440154"/>
<rect x="601.30" y="425.20" width="3.25" height="3.10" fill="#46327e"/>
<rect x="604.25" y="425.20" width="3.25" height="3.10" fill="#31688e"/>
<rect x="607.20" y="425.20" width="3.25" height="3.10" fill="#297b8e"/>
<rect x="610.15" y="425.20" width="3.25" height="3.10" fill="#31688e"/>
<rect x="613.10" y="425.20" width="3.25" height="3.10" fill="#26818e"/>
<rect x="616.05" y="425.20" width="3.25" height="3.10" fill="#25848e"/>
<rect x="619.00" y="425.20" width="3.25" height="3.10" fill="#277e8e"/>
<rect x="621.95" y="425.20" width="3.25" height="3.10" fill="#31688e"/>
<rect x="624.90" y="425.20" width="3.25" height="3.10" fill="#2b758e"/>
<rect x="627.85" y="425.20" width="3.25" height="3.10" fill="#3b528b"/>
<rect x="630.80" y="425.20" width="3.25" height="3.10" fill="#3d4d8a"/>
<rect x="636.70" y="425.20" width="3.25" height="3.10" fill="#440154"/>
<rect x="592.45" y="428.00" width="3.25" height="3.10" fill="#482173"/>
<rect x="595.40" y="428.00" width="3.25" height="3.10" fill="#482173"/>
<rect x="598.35" y="428.00" width="3.25" height="3.10" fill="#404688"/>
<rect x="601.30" y="428.00" width="3.25" height="3.10" fill="#306a8e"/>
<rect x="604.25" y="428.00" width="3.25" height="3.10" fill="#2a778e"/>
<rect x="607.20" y="428.00" width="3.25" height="3.10" fill="#2d718e"/>
<rect x="610.15" y="428.00" width="3.25" height="3.10" fill="#26828e"/>
<rect x="613.10" y="428.00" width="3.25" height="3.10" fill="#24868e"/>
<rect x="616.05" y="428.00" width="3.25" height="3.10" fill="#2a778e"/>
<rect x="619.00" y="428.00" width="3.25" height="3.10" fill="#27808e"/>
<rect x="621.95" y="428.00" width="3.25" height="3.10" fill="#2c738e"/>
<rect x="624.90" y="428.00" width="3.25" height="3.10" fill="#38588c"/>
<rect x="627.85" y="428.00" width="3.25" height="3.10" fill="#2d718e"/>
<rect x="630.80" y="428.00" width="3.25" height="3.10" fill="#46327e"/>
<rect x="636.70" y="428.00" width="3.25" height="3.10" fill="#482173"/>
<rect x="589.50" y="430.80" width="3.25" height="3.10" fill="#440154"/>
<rect x="592.45" y="430.80" width="3.25" height="3.10" fill="#433e85"/>
<rect x="595.40" y="430.80" width="3.25" height="3.10" fill="#404688"/>
<rect x="598.35" y="430.80" width="3.25" height="3.10" fill="#355f8d"/>
<rect x="601.30" y="430.80" width="3.25" height="3.10" fill="#31688e"/>
<rect x="604.25" y="430.80" width="3.25" height="3.10" fill="#287c8e"/>
<rect x="607.20" y="430.80" width="3.25" height="3.10" fill="#26828e"/>
<rect x="610.15" y="430.80" width="3.25" height="3.10" fill="#26818e"/>
<rect x="613.10" y="430.80" width="3.25" height="3.10" fill="#26818e"/>
<rect x="616.05" y="430.80" width="3.25" height="3.10" fill="#287c8e"/>
<rect x="619.00" y="430.80" width="3.25" height="3.10" fill="#2b758e"/>
<rect x="621.95" y="430.80" width="3.25" height="3.10" fill="#2d718e"/>
<rect x="624.90" y="430.80" width="3.25" height="3.10" fill="#2e6f8e"/>
<rect x="627.85" y="430.80" width="3.25" height="3.10" fill="#38588c"/>
<rect x="630.80" y="430.80" width="3.25" height="3.10" fill="#482173"/>
<rect x="633.75" y="430.80" width="3.25" height="3.10" fill="#433e85"/>
<rect x="586.55" y="433.60" width="3.25" height="3.10" fill="#482173"/>
<rect x="589.50" y="433.60" width="3.25" height="3.10" fill="#482173"/>
<rect x="592.45" y="433.60" width="3.25" height="3.10" fill="#33628d"/>
<rect x="595.40" y="433.60" width="3.25" height="3.10" fill="#33628d"/>
<rect x="598.35" y="433.60" width="3.25" height="3.10" fill="#27808e"/>
<rect x="601.30" y="433.60" width="3.25" height="3.10" fill="#287c8e"/>
<rect x="604.25" y="433.60" width="3.25" height="3.10" fill="#228d8d"/>
<rect x="607.20" y="433.60" width="3.25" height="3.10" fill="#228d8d"/>
<rect x="610.15" y="433.60" width="3.25" height="3.10" fill="#24878e"/>
<rect x="613.10" y="433.60" width="3.25" height="3.10" fill="#297b8e"/>
<rect x="616.05" y="433.60" width="3.25" height="3.10" fill="#297a8e"/>
<rect x="619.00" y="433.60" width="3.25" height="3.10" fill="#306a8e"/>
<rect x="621.95" y="433.60" width="3.25" height="3.10" fill="#355f8d"/>
<rect x="624.90" y="433.60" width="3.25" height="3.10" fill="#375b8d"/>
<rect x="627.85" y="433.60" width="3.25" height="3.10" fill="#433e85"/>
<rect x="633.75" y="433.60" width="3.25" height="3.10" fill="#440154"/>
<rect x="580.65" y="436.40" width="3.25" height="3.10" fill="#440154"/>
<rect x="586.55" y="436.40" width="3.25" height="3.10" fill="#440154"/>
<rect x="589.50" y="436.40" width="3.25" height="3.10" fill="#38588c"/>
<rect x="592.45" y="436.40" width="3.25" height="3.10" fill="#2d718e"/>
<rect x="595.40" y="436.40" width="3.25" height="3.10" fill="#277e8e"/>
<rect x="598.35" y="436.40" width="3.25" height="3.10" fill="#23888e"/>
<rect x="601.30" y="436.40" width="3.25" height="3.10" fill="#21908d"/>
<rect x="604.25" y="436.40" width="3.25" height="3.10" fill="#24868e"/>
<rect x="607.20" y="436.40" width="3.25" height="3.10" fill="#24868e"/>
<rect x="610.15" y="436.40" width="3.25" height="3.10" fill="#277f8e"/>
<rect x="613.10" y="436.40" width="3.25" height="3.10" fill="#297b8e"/>
<rect x="616.05" y="436.40" width="3.25" height="3.10" fill="#2f6c8e"/>
<rect x="619.00" y="436.40" width="3.25" height="3.10" fill="#375b8d"/>
<rect x="621.95" y="436.40" width="3.25" height="3.10" fill="#3b528b"/>
<rect x="624.90" y="436.40" width="3.25" height="3.10" fill="#482173"/>
<rect x="630.80" y="436.40" width="3.25" height="3.10" fill="#482173"/>
<rect x="669.15" y="436.40" width="3.25" height="3.10" fill="#440154"/>
<rect x="580.65" y="439.20" width="3.25" height="3.10" fill="#440154"/>
<rect x="583.60" y="439.20" width="3.25" height="3.10" fill="#482173"/>
<rect x="586.55" y="439.20" width="3.25" height="3.10" fill="#46327e"/>
<rect x="589.50" y="439.20" width="3.25" height="3.10" fill="#2c718e"/>
<rect x="592.45" y="439.20" width="3.25" height="3.10" fill="#23888e"/>
<rect x="595.40" y="439.20" width="3.25" height="3.10" fill="#20928c"/>
<rect x="598.35" y="439.20" width="3.25" height="3.10" fill="#1f958b"/>
<rect x="601.30" y="439.20" width="3.25" height="3.10" fill="#1f9f88"/>
<rect x="604.25" y="439.20" width="3.25" height="3.10" fill="#23888e"/>
<rect x="607.20" y="439.20" width="3.25" height="3.10" fill="#26828e"/>
<rect x="610.15" y="439.20" width="3.25" height="3.10" fill="#2c738e"/>
<rect x="613.10" y="439.20" width="3.25" height="3.10" fill="#375b8d"/>
<rect x="616.05" y="439.20" width="3.25" height="3.10" fill="#3b528b"/>
<rect x="619.00" y="439.20" width="3.25" height="3.10" fill="#482173"/>
<rect x="621.95" y="439.20" width="3.25" height="3.10" fill="#440154"/>
<rect x="630.80" y="439.20" width="3.25" height="3.10" fill="#440154"/>
<rect x="574.75" y="442.00" width="3.25" height="3.10" fill="#440154"/>
<rect x="577.70" y="442.00" width="3.25" height="3.10" fill="#440154"/>
<rect x="580.65" y="442.00" width="3.25" height="3.10" fill="#46327e"/>
<rect x="583.60" y="442.00" width="3.25" height="3.10" fill="#46327e"/>
<rect x="586.55" y="442.00" width="3.25" height="3.10" fill="#297b8e"/>
<rect x="589.50" y="442.00" width="3.25" height="3.10" fill="#21908d"/>
<rect x="592.45" y="442.00" width="3.25" height="3.10" fill="#1f9a8a"/>
<rect x="595.40" y="442.00" width="3.25" height="3.10" fill="#1fa188"/>
<rect x="598.35" y="442.00" width="3.25" height="3.10" fill="#1f9f88"/>
<rect x="601.30" y="442.00" width="3.25" height="3.10" fill="#20928c"/>
<rect x="604.25" y="442.00" width="3.25" height="3.10" fill="#297b8e"/>
<rect x="607.20" y="442.00" width="3.25" height="3.10" fill="#32658e"/>
<rect x="610.15" y="442.00" width="3.25" height="3.10" fill="#355f8d"/>
<rect x="613.10" y="442.00" width="3.25" height="3.10" fill="#482173"/>
<rect x="619.00" y="442.00" width="3.25" height="3.10" fill="#440154"/>
<rect x="621.95" y="442.00" width="3.25" height="3.10" fill="#482173"/>
<rect x="560.00" y="444.80" width="3.25" height="3.10" fill="#440154"/>
<rect x="577.70" y="444.80" width="3.25" height="3.10" fill="#482173"/>
<rect x="580.65" y="444.80" width="3.25" height="3.10" fill="#32658e"/>
<rect x="583.60" y="444.80" width="3.25" height="3.10" fill="#2a788e"/>
<rect x="586.55" y="444.80" width="3.25" height="3.10" fill="#20928c"/>
<rect x="589.50" y="444.80" width="3.25" height="3.10" fill="#1fa188"/>
<rect x="592.45" y="444.80" width="3.25" height="3.10" fill="#22a785"/>
<rect x="595.40" y="444.80" width="3.25" height="3.10" fill="#24aa83"/>
<rect x="598.35" y="444.80" width="3.25" height="3.10" fill="#1f948c"/>
<rect x="601.30" y="444.80" width="3.25" height="3.10" fill="#24878e"/>
<rect x="604.25" y="444.80" width="3.25" height="3.10" fill="#375b8d"/>
<rect x="607.20" y="444.80" width="3.25" height="3.10" fill="#46327e"/>
<rect x="610.15" y="444.80" width="3.25" height="3.10" fill="#46327e"/>
<rect x="613.10" y="444.80" width="3.25" height="3.10" fill="#440154"/>
<rect x="616.05" y="444.80" width="3.25" height="3.10" fill="#440154"/>
<rect x="624.90" y="444.80" width="3.25" height="3.10" fill="#440154"/>
<rect x="568.85" y="447.60" width="3.25" height="3.10" fill="#440154"/>
<rect x="571.80" y="447.60" width="3.25" height="3.10" fill="#440154"/>
<rect x="574.75" y="447.60" width="3.25" height="3.10" fill="#440154"/>
<rect x="577.70" y="447.60" width="3.25" height="3.10" fill="#33628d"/>
<rect x="580.65" y="447.60" width="3.25" height="3.10" fill="#277e8e"/>
<rect x="583.60" y="447.60" width="3.25" height="3.10" fill="#1f988b"/>
<rect x="586.55" y="447.60" width="3.25" height="3.10" fill="#21a585"/>
<rect x="589.50" y="447.60" width="3.25" height="3.10" fill="#2cb17e"/>
<rect x="592.45" y="447.60" width="3.25" height="3.10" fill="#29af7f"/>
<rect x="595.40" y="447.60" width="3.25" height="3.10" fill="#1fa287"/>
<rect x="598.35" y="447.60" width="3.25" height="3.10" fill="#228c8d"/>
<rect x="601.30" y="447.60" width="3.25" height="3.10" fill="#2b758e"/>
<rect x="604.25" y="447.60" width="3.25" height="3.10" fill="#433e85"/>
<rect x="607.20" y="447.60" width="3.25" height="3.10" fill="#482173"/>
<rect x="619.00" y="447.60" width="3.25" height="3.10" fill="#440154"/>
<rect x="568.85" y="450.40" width="3.25" height="3.10" fill="#440154"/>
<rect x="571.80" y="450.40" width="3.25" height="3.10" fill="#46327e"/>
<rect x="574.75" y="450.40" width="3.25" height="3.10" fill="#2e6f8e"/>
<rect x="577.70" y="450.40" width="3.25" height="3.10" fill="#23888e"/>
<rect x="580.65" y="450.40" width="3.25" height="3.10" fill="#1e9c89"/>
<rect x="583.60" y="450.40" width="3.25" height="3.10" fill="#31b57b"/>
<rect x="586.55" y="450.40" width="3.25" height="3.10" fill="#44bf70"/>
<rect x="589.50" y="450.40" width="3.25" height="3.10" fill="#38b977"/>
<rect x="592.45" y="450.40" width="3.25" height="3.10" fill="#22a785"/>
<rect x="595.40" y="450.40" width="3.25" height="3.10" fill="#21918c"/>
<rect x="598.35" y="450.40" width="3.25" height="3.10" fill="#277f8e"/>
<rect x="601.30" y="450.40" width="3.25" height="3.10" fill="#433e85"/>
<rect x="604.25" y="450.40" width="3.25" height="3.10" fill="#46327e"/>
<rect x="562.95" y="453.20" width="3.25" height="3.10" fill="#46327e"/>
<rect x="568.85" y="453.20" width="3.25" height="3.10" fill="#440154"/>
<rect x="571.80" y="453.20" width="3.25" height="3.10" fill="#2c738e"/>
<rect x="574.75" y="453.20" width="3.25" height="3.10" fill="#228d8d"/>
<rect x="577.70" y="453.20" width="3.25" height="3.10" fill="#25ac82"/>
<rect x="580.65" y="453.20" width="3.25" height="3.10" fill="#40bd72"/>
<rect x="583.60" y="453.20" width="3.25" height="3.10" fill="#5ec962"/>
<rect x="586.55" y="453.20" width="3.25" height="3.10" fill="#50c46a"/>
<rect x="589.50" y="453.20" width="3.25" height="3.10" fill="#23a983"/>
<rect x="592.45" y="453.20" width="3.25" height="3.10" fill="#228c8d"/>
<rect x="595.40" y="453.20" width="3.25" height="3.10" fill="#27808e"/>
<rect x="598.35" y="453.20" width="3.25" height="3.10" fill="#355f8d"/>
<rect x="601.30" y="453.20" width="3.25" height="3.10" fill="#440154"/>
<rect x="604.25" y="453.20" width="3.25" height="3.10" fill="#440154"/>
<rect x="607.20" y="453.20" width="3.25" height="3.10" fill="#440154"/>
<rect x="636.70" y="453.20" width="3.25" height="3.10" fill="#440154"/>
<rect x="560.00" y="456.00" width="3.25" height="3.10" fill="#482173"/>
<rect x="562.95" y="456.00" width="3.25" height="3.10" fill="#482173"/>
<rect x="565.90" y="456.00" width="3.25" height="3.10" fill="#433e85"/>
<rect x="568.85" y="456.00" width="3.25" height="3.10" fill="#33628d"/>
<rect x="571.80" y="456.00" width="3.25" height="3.10" fill="#21908d"/>
<rect x="574.75" y="456.00" width="3.25" height="3.10" fill="#2fb47c"/>
<rect x="577.70" y="456.00" width="3.25" height="3.10" fill="#56c667"/>
<rect x="580.65" y="456.00" width="3.25" height="3.10" fill="#75d054"/>
<rect x="583.60" y="456.00" width="3.25" height="3.10" fill="#67cc5c"/>
<rect x="586.55" y="456.00" width="3.25" height="3.10" fill="#28ae80"/>
<rect x="589.50" y="456.00" width="3.25" height="3.10" fill="#25858e"/>
<rect x="592.45" y="456.00" width="3.25" height="3.10" fill="#2c738e"/>
<rect x="595.40" y="456.00" width="3.25" height="3.10" fill="#482173"/>
<rect x="598.35" y="456.00" width="3.25" height="3.10" fill="#440154"/>
<rect x="601.30" y="456.00" width="3.25" height="3.10" fill="#482173"/>
<rect x="604.25" y="456.00" width="3.25" height="3.10" fill="#440154"/>
<rect x="560.00" y="458.80" width="3.25" height="3.10" fill="#482173"/>
<rect x="562.95" y="458.80" width="3.25" height="3.10" fill="#433e85"/>
<rect x="565.90" y="458.80" width="3.25" height="3.10" fill="#297b8e"/>
<rect x="568.85" y="458.80" width="3.25" height="3.10" fill="#1f9f88"/>
<rect x="571.80" y="458.80" width="3.25" height="3.10" fill="#38b977"/>
<rect x="574.75" y="458.80" width="3.25" height="3.10" fill="#63cb5f"/>
<rect x="577.70" y="458.80" width="3.25" height="3.10" fill="#95d840"/>
<rect x="580.65" y="458.80" width="3.25" height="3.10" fill="#7ad151"/>
<rect x="583.60" y="458.80" width="3.25" height="3.10" fill="#28ae80"/>
<rect x="586.55" y="458.80" width="3.25" height="3.10" fill="#287c8e"/>
<rect x="589.50" y="458.80" width="3.25" height="3.10" fill="#433e85"/>
<rect x="592.45" y="458.80" width="3.25" height="3.10" fill="#46327e"/>
<rect x="595.40" y="458.80" width="3.25" height="3.10" fill="#482173"/>
<rect x="598.35" y="458.80" width="3.25" height="3.10" fill="#440154"/>
<rect x="601.30" y="458.80" width="3.25" height="3.10" fill="#440154"/>
<rect x="554.10" y="461.60" width="3.25" height="3.10" fill="#440154"/>
<rect x="557.05" y="461.60" width="3.25" height="3.10" fill="#440154"/>
<rect x="560.00" y="461.60" width="3.25" height="3.10" fill="#433e85"/>
<rect x="562.95" y="461.60" width="3.25" height="3.10" fill="#287c8e"/>
<rect x="565.90" y="461.60" width="3.25" height="3.10" fill="#1fa088"/>
<rect x="568.85" y="461.60" width="3.25" height="3.10" fill="#46c06f"/>
<rect x="571.80" y="461.60" width="3.25" height="3.10" fill="#84d44b"/>
<rect x="574.75" y="461.60" width="3.25" height="3.10" fill="#a8db34"/>
<rect x="577.70" y="461.60" width="3.25" height="3.10" fill="#86d549"/>
<rect x="580.65" y="461.60" width="3.25" height="3.10" fill="#23a983"/>
<rect x="583.60" y="461.60" width="3.25" height="3.10" fill="#2d718e"/>
<rect x="586.55" y="461.60" width="3.25" height="3.10" fill="#3d4d8a"/>
<rect x="589.50" y="461.60" width="3.25" height="3.10" fill="#433e85"/>
<rect x="592.45" y="461.60" width="3.25" height="3.10" fill="#440154"/>
<rect x="595.40" y="461.60" width="3.25" height="3.10" fill="#440154"/>
<rect x="616.05" y="461.60" width="3.25" height="3.10" fill="#440154"/>
<rect x="557.05" y="464.40" width="3.25" height="3.10" fill="#440154"/>
<rect x="560.00" y="464.40" width="3.25" height="3.10" fill="#277f8e"/>
<rect x="562.95" y="464.40" width="3.25" height="3.10" fill="#20a386"/>
<rect x="565.90" y="464.40" width="3.25" height="3.10" fill="#52c569"/>
<rect x="568.85" y="464.40" width="3.25" height="3.10" fill="#93d741"/>
<rect x="571.80" y="464.40" width="3.25" height="3.10" fill="#bddf26"/>
<rect x="574.75" y="464.40" width="3.25" height="3.10" fill="#98d83e"/>
<rect x="577.70" y="464.40" width="3.25" height="3.10" fill="#22a785"/>
<rect x="580.65" y="464.40" width="3.25" height="3.10" fill="#306a8e"/>
<rect x="583.60" y="464.40" width="3.25" height="3.10" fill="#482173"/>
<rect x="586.55" y="464.40" width="3.25" height="3.10" fill="#482173"/>
<rect x="589.50" y="464.40" width="3.25" height="3.10" fill="#440154"/>
<rect x="592.45" y="464.40" width="3.25" height="3.10" fill="#440154"/>
<rect x="554.10" y="467.20" width="3.25" height="3.10" fill="#440154"/>
<rect x="557.05" y="467.20" width="3.25" height="3.10" fill="#26828e"/>
<rect x="560.00" y="467.20" width="3.25" height="3.10" fill="#1f9f88"/>
<rect x="562.95" y="467.20" width="3.25" height="3.10" fill="#4ec36b"/>
<rect x="565.90" y="467.20" width="3.25" height="3.10" fill="#8bd646"/>
<rect x="568.85" y="467.20" width="3.25" height="3.10" fill="#d0e11c"/>
<rect x="571.80" y="467.20" width="3.25" height="3.10" fill="#a2da37"/>
<rect x="574.75" y="467.20" width="3.25" height="3.10" fill="#1fa187"/>
<rect x="577.70" y="467.20" width="3.25" height="3.10" fill="#482173"/>
<rect x="580.65" y="467.20" width="3.25" height="3.10" fill="#46327e"/>
<rect x="672.10" y="467.20" width="3.25" height="3.10" fill="#440154"/>
<rect x="549.10" y="470.00" width="2.35" height="3.10" fill="#482173"/>
<rect x="551.15" y="470.00" width="3.25" height="3.10" fill="#440154"/>
<rect x="554.10" y="470.00" width="3.25" height="3.10" fill="#355f8d"/>
<rect x="557.05" y="470.00" width="3.25" height="3.10" fill="#1fa188"/>
<rect x="560.00" y="470.00" width="3.25" height="3.10" fill="#4cc26c"/>
<rect x="562.95" y="470.00" width="3.25" height="3.10" fill="#93d741"/>
<rect x="565.90" y="470.00" width="3.25" height="3.10" fill="#cae11f"/>
<rect x="568.85" y="470.00" width="3.25" height="3.10" fill="#9bd93c"/>
<rect x="571.80" y="470.00" width="3.25" height="3.10" fill="#1e9c89"/>
<rect x="574.75" y="470.00" width="3.25" height="3.10" fill="#3d4d8a"/>
<rect x="577.70" y="470.00" width="3.25" height="3.10" fill="#433e85"/>
<rect x="551.15" y="472.80" width="3.25" height="3.10" fill="#482173"/>
<rect x="554.10" y="472.80" width="3.25" height="3.10" fill="#228d8d"/>
<rect x="557.05" y="472.80" width="3.25" height="3.10" fill="#42be71"/>
<rect x="560.00" y="472.80" width="3.25" height="3.10" fill="#95d840"/>
<rect x="562.95" y="472.80" width="3.25" height="3.10" fill="#cde11d"/>
<rect x="565.90" y="472.80" width="3.25" height="3.10" fill="#95d840"/>
<rect x="568.85" y="472.80" width="3.25" height="3.10" fill="#277f8e"/>
<rect x="571.80" y="472.80" width="3.25" height="3.10" fill="#46327e"/>
<rect x="574.75" y="472.80" width="3.25" height="3.10" fill="#482173"/>
<rect x="577.70" y="472.80" width="3.25" height="3.10" fill="#440154"/>
<rect x="549.10" y="475.60" width="2.35" height="3.10" fill="#440154"/>
<rect x="551.15" y="475.60" width="3.25" height="3.10" fill="#297a8e"/>
<rect x="554.10" y="475.60" width="3.25" height="3.10" fill="#26ad81"/>
<rect x="557.05" y="475.60" width="3.25" height="3.10" fill="#86d549"/>
<rect x="560.00" y="475.60" width="3.25" height="3.10" fill="#cae11f"/>
<rect x="562.95" y="475.60" width="3.25" height="3.10" fill="#86d549"/>
<rect x="565.90" y="475.60" width="3.25" height="3.10" fill="#26818e"/>
<rect x="568.85" y="475.60" width="3.25" height="3.10" fill="#482173"/>
<rect x="571.80" y="475.60" width="3.25" height="3.10" fill="#440154"/>
<rect x="580.65" y="475.60" width="3.25" height="3.10" fill="#440154"/>
<rect x="549.10" y="478.40" width="2.35" height="3.10" fill="#404688"/>
<rect x="551.15" y="478.40" width="3.25" height="3.10" fill="#228b8d"/>
<rect x="554.10" y="478.40" width="3.25" height="3.10" fill="#5ec962"/>
<rect x="557.05" y="478.40" width="3.25" height="3.10" fill="#b5de2b"/>
<rect x="560.00" y="478.40" width="3.25" height="3.10" fill="#69cd5b"/>
<rect x="562.95" y="478.40" width="3.25" height="3.10" fill="#38588c"/>
<rect x="565.90" y="478.40" width="3.25" height="3.10" fill="#46327e"/>
<rect x="598.35" y="478.40" width="3.25" height="3.10" fill="#440154"/>
<rect x="630.80" y="478.40" width="3.25" height="3.10" fill="#440154"/>
<rect x="549.10" y="481.20" width="2.35" height="3.10" fill="#46327e"/>
<rect x="551.15" y="481.20" width="3.25" height="3.10" fill="#2cb17e"/>
<rect x="554.10" y="481.20" width="3.25" height="3.10" fill="#3b528b"/>
<rect x="557.05" y="481.20" width="3.25" height="3.10" fill="#433e85"/>
<rect x="560.00" y="481.20" width="3.25" height="3.10" fill="#433e85"/>
<rect x="562.95" y="481.20" width="3.25" height="3.10" fill="#440154"/>
<rect x="549.10" y="484.00" width="2.35" height="3.10" fill="#2e6f8e"/>
<rect x="551.15" y="484.00" width="3.25" height="3.10" fill="#482173"/>
<rect x="554.10" y="484.00" width="3.25" height="3.10" fill="#440154"/>
<rect x="560.00" y="484.00" width="3.25" height="3.10" fill="#440154"/>
<rect x="562.95" y="484.00" width="3.25" height="3.10" fill="#440154"/>
<rect x="565.90" y="484.00" width="3.25" height="3.10" fill="#440154"/>
<rect x="568.85" y="484.00" width="3.25" height="3.10" fill="#440154"/>
<rect x="586.55" y="484.00" width="3.25" height="3.10" fill="#440154"/>
<rect x="549.10" y="486.80" width="2.35" height="3.10" fill="#375b8d"/>
<rect x="551.15" y="486.80" width="3.25" height="3.10" fill="#46327e"/>
<rect x="549.10" y="489.60" width="2.35" height="0.40" fill="#440154"/>
</g>
<path d="M553.3,483.6 L552.6,483.9 L551.9,483.8 L551.1,483.6 L550.7,483.4 L550.4,483.2 L550.1,482.7 L550.2,482.0 L550.3,481.3 L550.4,480.7 L550.4,480.0 L550.4,480.0 L550.7,479.3 L551.1,478.6 L551.1,478.6 L551.5,477.9 L551.9,477.2 L551.9,477.2 L552.3,476.5 L552.6,476.2 L552.8,475.8 L553.2,475.1 L553.3,475.0 L553.6,474.5 L554.0,473.8 L554.0,473.8 L554.5,473.1 L554.8,472.6 L554.9,472.4 L555.4,471.7 L555.5,471.6 L556.0,471.0 L556.2,470.7 L556.5,470.3 L556.9,469.8 L557.1,469.6 L557.6,468.9 L557.7,468.9 L558.2,468.2 L558.4,468.0 L558.8,467.6 L559.1,467.2 L559.5,466.9 L559.8,466.4 L560.1,466.2 L560.6,465.5 L560.6,465.5 L561.1,464.8 L561.3,464.5 L561.7,464.1 L562.0,463.7 L562.3,463.4 L562.7,462.9 L562.9,462.7 L563.5,462.0 L563.5,462.0 L564.1,461.4 L564.2,461.3 L564.9,460.7 L564.9,460.6 L565.7,460.0 L565.7,460.0 L566.4,459.4 L566.6,459.3 L567.1,458.9 L567.6,458.6 L567.8,458.5 L568.6,458.0 L568.7,457.9 L569.3,457.6 L569.8,457.2 L570.0,457.1 L570.7,456.6 L570.8,456.5 L571.5,455.9 L571.5,455.8 L572.2,455.2 L572.2,455.1 L572.9,454.5 L572.9,454.4 L573.5,453.8 L573.6,453.6 L574.3,453.1 L574.4,453.0 L575.1,452.4 L575.1,452.4 L575.8,451.8 L575.9,451.7 L576.6,451.3 L576.9,451.0 L577.3,450.7 L577.8,450.3 L578.0,450.2 L578.7,449.6 L578.7,449.6 L579.5,449.0 L579.5,448.9 L580.2,448.3 L580.2,448.3 L580.9,447.6 L581.0,447.6 L581.6,446.9 L581.7,446.9 L582.4,446.2 L582.4,446.2 L583.1,445.7 L583.4,445.5 L583.8,445.2 L584.5,444.8 L584.5,444.8 L585.3,444.3 L585.5,444.1 L586.0,443.8 L586.4,443.4 L586.7,443.2 L587.3,442.7 L587.4,442.6 L588.2,442.0 L588.2,442.0 L588.9,441.4 L589.0,441.4 L589.6,440.7 L589.7,440.7 L590.3,440.0 L590.4,439.9 L590.8,439.3 L591.1,439.0 L591.5,438.6 L591.8,438.3 L592.1,437.9 L592.5,437.5 L592.8,437.2 L593.3,436.7 L593.4,436.5 L594.0,435.8 L594.0,435.8 L594.7,435.3 L595.0,435.2 L595.4,434.8 L596.0,434.5 L596.2,434.3 L596.9,433.8 L597.0,433.8 L597.6,433.4 L598.1,433.1 L598.3,432.9 L599.1,432.4 L599.1,432.4 L599.8,432.0 L600.2,431.7 L600.5,431.5 L601.2,431.0 L601.2,430.9 L601.9,430.3 L602.0,430.3 L602.6,429.6 L602.7,429.5 L603.4,429.0 L603.5,428.9 L604.2,428.4 L604.3,428.3 L604.9,427.7 L605.0,427.6 L605.5,426.9 L605.6,426.8 L606.3,426.2 L606.4,426.2 L607.1,425.7 L607.3,425.5 L607.8,425.1 L608.1,424.8 L608.5,424.3 L608.7,424.1 L609.2,423.8 L609.8,423.4 L610.0,423.3 L610.7,422.9 L610.9,422.7 L611.4,422.4 L612.0,422.1 L612.1,422.0 L612.9,421.6 L613.2,421.4 L613.6,421.2 L614.3,420.8 L614.5,420.7 L615.0,420.5 L615.8,420.2 L616.5,420.0 L616.5,420.0 L617.2,419.7 L618.0,419.5 L618.6,419.3 L618.7,419.3 L619.4,419.1 L620.1,418.8 L620.6,418.6 L620.9,418.5 L621.6,418.2 L622.2,417.9 L622.3,417.9 L623.0,417.5 L623.7,417.2 L623.8,417.2 L624.5,416.8 L624.9,416.5 L625.2,416.4 L625.9,415.9 L625.9,415.8 L626.7,415.3 L626.9,415.2 L627.4,414.9 L628.1,414.5 L628.1,414.4 L628.9,413.9 L629.0,413.8 L629.6,413.3 L629.9,413.1 L630.3,412.8 L630.9,412.4 L631.0,412.3 L631.8,411.7 L631.8,411.7 L632.5,411.1 L632.6,411.0 L633.2,410.7 L633.6,410.3 L633.9,410.1 L634.4,409.6 L634.7,409.4 L635.2,409.0 L635.4,408.7 L636.1,408.6 L636.8,408.5 L637.6,408.4 L638.3,408.4 L638.9,409.0 L639.0,409.0 L639.6,409.6 L639.6,410.3 L639.5,411.0 L639.4,411.7 L639.4,412.4 L639.2,413.1 L639.0,413.8 L639.0,413.9 L638.9,414.5 L638.8,415.2 L638.5,415.9 L638.3,416.2 L638.0,416.5 L637.6,417.2 L637.6,417.3 L637.2,417.9 L636.8,418.3 L636.5,418.6 L636.1,419.1 L635.9,419.3 L635.4,420.0 L635.4,420.0 L634.8,420.7 L634.7,420.8 L633.9,421.3 L633.9,421.4 L633.2,421.9 L633.0,422.1 L632.5,422.7 L632.4,422.7 L631.8,423.4 L631.8,423.4 L631.1,424.1 L631.0,424.2 L630.5,424.8 L630.3,425.1 L630.0,425.5 L629.7,426.2 L629.6,426.5 L629.4,426.9 L629.2,427.6 L629.0,428.3 L628.9,428.8 L628.8,428.9 L628.5,429.6 L628.1,430.2 L628.0,430.3 L627.7,431.0 L627.4,431.7 L627.4,431.7 L627.0,432.4 L626.7,432.7 L626.2,433.1 L625.9,433.3 L625.2,433.8 L625.2,433.8 L624.5,434.4 L624.4,434.5 L623.8,435.0 L623.6,435.2 L623.0,435.4 L622.3,435.8 L622.2,435.8 L621.6,436.2 L621.0,436.5 L620.9,436.6 L620.1,437.1 L620.0,437.2 L619.4,437.6 L619.0,437.9 L618.7,438.1 L618.0,438.4 L617.5,438.6 L617.2,438.7 L616.5,439.1 L616.1,439.3 L615.8,439.5 L615.0,439.9 L614.9,440.0 L614.3,440.4 L614.0,440.7 L613.6,440.9 L612.9,441.4 L612.9,441.4 L612.1,441.9 L612.0,442.0 L611.4,442.5 L611.0,442.7 L610.7,442.9 L610.0,443.4 L610.0,443.4 L609.2,443.8 L608.7,444.1 L608.5,444.3 L607.8,444.8 L607.7,444.8 L607.1,445.4 L606.9,445.5 L606.3,446.0 L606.2,446.2 L605.6,446.8 L605.6,446.9 L605.0,447.6 L604.9,447.7 L604.5,448.3 L604.2,448.7 L604.0,448.9 L603.4,449.6 L603.4,449.7 L602.8,450.3 L602.7,450.5 L602.2,451.0 L602.0,451.3 L601.7,451.7 L601.2,452.2 L601.1,452.4 L600.5,453.0 L600.4,453.1 L599.8,453.7 L599.7,453.8 L599.1,454.3 L598.9,454.5 L598.3,454.9 L598.0,455.1 L597.6,455.4 L597.0,455.8 L596.9,455.9 L596.2,456.4 L596.0,456.5 L595.4,456.9 L595.1,457.2 L594.7,457.5 L594.2,457.9 L594.0,458.1 L593.3,458.6 L593.2,458.6 L592.5,459.1 L592.2,459.3 L591.8,459.5 L591.1,460.0 L591.1,460.0 L590.4,460.6 L590.3,460.7 L589.6,461.3 L589.5,461.4 L588.9,461.8 L588.6,462.0 L588.2,462.3 L587.6,462.7 L587.4,462.9 L586.7,463.4 L586.6,463.4 L586.0,463.8 L585.4,464.1 L585.3,464.2 L584.5,464.7 L584.4,464.8 L583.8,465.2 L583.5,465.5 L583.1,465.8 L582.5,466.2 L582.4,466.3 L581.6,466.9 L581.6,466.9 L580.9,467.4 L580.7,467.6 L580.2,468.0 L579.8,468.2 L579.5,468.5 L579.0,468.9 L578.7,469.3 L578.4,469.6 L578.0,470.1 L577.8,470.3 L577.3,470.8 L577.0,471.0 L576.6,471.4 L576.2,471.7 L575.8,472.0 L575.4,472.4 L575.1,472.6 L574.4,473.1 L574.4,473.1 L573.6,473.6 L573.3,473.8 L572.9,474.1 L572.4,474.5 L572.2,474.6 L571.6,475.1 L571.5,475.2 L570.7,475.7 L570.6,475.8 L570.0,476.2 L569.7,476.5 L569.3,476.9 L568.9,477.2 L568.6,477.5 L568.1,477.9 L567.8,478.1 L567.2,478.6 L567.1,478.7 L566.4,479.2 L566.3,479.3 L565.7,479.8 L565.4,480.0 L564.9,480.3 L564.4,480.7 L564.2,480.8 L563.5,481.2 L563.3,481.3 L562.7,481.6 L562.0,481.9 L561.7,482.0 L561.3,482.2 L560.6,482.3 L559.8,482.4 L559.1,482.5 L558.4,482.6 L557.7,482.7 L557.7,482.7 L556.9,482.9 L556.2,483.0 L555.5,483.1 L554.8,483.2 L554.0,483.4 L554.0,483.4 L553.3,483.6" fill="none" stroke="#ffffff" stroke-opacity="0.9" stroke-width="1.0"/>
<path d="M558.4,479.3 L558.4,479.3 L557.7,478.6 L557.7,478.5 L557.3,477.9 L557.0,477.2 L557.3,476.5 L557.7,475.8 L557.7,475.8 L558.0,475.1 L558.3,474.5 L558.4,474.4 L558.9,473.8 L559.1,473.5 L559.5,473.1 L559.8,472.7 L560.1,472.4 L560.6,471.8 L560.6,471.7 L561.2,471.0 L561.3,470.9 L562.0,470.3 L562.0,470.3 L562.7,469.6 L562.7,469.6 L563.3,468.9 L563.5,468.8 L564.0,468.2 L564.2,468.0 L564.7,467.6 L564.9,467.4 L565.5,466.9 L565.7,466.7 L566.1,466.2 L566.4,465.9 L566.8,465.5 L567.1,465.2 L567.6,464.8 L567.8,464.6 L568.5,464.1 L568.6,464.1 L569.3,463.4 L569.3,463.4 L570.0,462.7 L570.0,462.7 L570.7,462.3 L571.1,462.0 L571.5,461.8 L572.1,461.4 L572.2,461.3 L572.9,460.7 L572.9,460.7 L573.6,460.1 L573.9,460.0 L574.4,459.7 L574.9,459.3 L575.1,459.2 L575.8,458.6 L575.8,458.6 L576.6,458.0 L576.7,457.9 L577.3,457.5 L577.7,457.2 L578.0,457.0 L578.7,456.5 L578.7,456.5 L579.5,456.0 L579.8,455.8 L580.2,455.7 L580.9,455.2 L581.0,455.1 L581.6,454.7 L582.0,454.5 L582.4,454.3 L583.1,454.0 L583.7,453.8 L583.8,453.7 L584.5,453.3 L585.1,453.1 L585.3,453.0 L586.0,452.9 L586.7,452.9 L587.4,452.7 L588.2,453.1 L588.2,453.1 L588.3,453.8 L588.3,454.5 L588.2,454.6 L587.5,455.1 L587.4,455.2 L586.8,455.8 L586.7,455.9 L586.4,456.5 L586.1,457.2 L586.0,457.3 L585.5,457.9 L585.3,458.1 L584.7,458.6 L584.5,458.7 L584.0,459.3 L583.8,459.5 L583.5,460.0 L583.1,460.4 L582.8,460.7 L582.4,461.1 L582.0,461.4 L581.6,461.6 L581.2,462.0 L580.9,462.3 L580.6,462.7 L580.2,463.1 L579.9,463.4 L579.5,463.8 L579.0,464.1 L578.7,464.3 L578.2,464.8 L578.0,465.0 L577.6,465.5 L577.3,465.8 L576.9,466.2 L576.6,466.5 L576.1,466.9 L575.8,467.1 L575.3,467.6 L575.1,467.7 L574.7,468.2 L574.4,468.6 L574.1,468.9 L573.6,469.3 L573.2,469.6 L572.9,469.9 L572.3,470.3 L572.2,470.4 L571.6,471.0 L571.5,471.1 L570.8,471.7 L570.7,471.8 L570.0,472.2 L569.7,472.4 L569.3,472.7 L568.8,473.1 L568.6,473.3 L568.2,473.8 L567.8,474.1 L567.5,474.5 L567.1,474.8 L566.5,475.1 L566.4,475.2 L565.7,475.8 L565.6,475.8 L564.9,476.5 L564.9,476.5 L564.2,477.2 L564.1,477.2 L563.5,477.5 L562.7,477.9 L562.7,477.9 L562.0,478.3 L561.6,478.6 L561.3,478.8 L560.6,478.9 L559.8,479.0 L559.1,479.2 L558.5,479.3 L558.4,479.3" fill="none" stroke="#ffffff" stroke-opacity="0.9" stroke-width="1.0"/>
<line x1="549.10" y1="489.70" x2="693.70" y2="355.00" stroke="#2a2a2a" stroke-width="1.1" stroke-dasharray="3.2,2.2"/>
<rect x="549.10" y="328.60" width="144.60" height="26.40" fill="none" stroke="#808080" stroke-width="1"/>
<rect x="693.70" y="355.00" width="30.40" height="134.70" fill="none" stroke="#808080" stroke-width="1"/>
<rect x="549.10" y="355.00" width="144.60" height="134.70" fill="none" stroke="#808080" stroke-width="1"/>
<line x1="567.20" y1="489.70" x2="567.20" y2="492.20" stroke="#808080" stroke-width="0.8"/>
<line x1="567.20" y1="355.00" x2="567.20" y2="357.00" stroke="#808080" stroke-width="0.8"/>
<text x="567.2" y="502.8" font-family='"Liberation Serif", serif' font-size="13" text-anchor="middle" fill="#1e1e1e" stroke="#1e1e1e" stroke-width="0.29" style="" textLength="6.4" lengthAdjust="spacingAndGlyphs">5</text>
<line x1="595.31" y1="489.70" x2="595.31" y2="492.20" stroke="#808080" stroke-width="0.8"/>
<line x1="595.31" y1="355.00" x2="595.31" y2="357.00" stroke="#808080" stroke-width="0.8"/>
<text x="595.3" y="502.8" font-family='"Liberation Serif", serif' font-size="13" text-anchor="middle" fill="#1e1e1e" stroke="#1e1e1e" stroke-width="0.29" style="" textLength="6.4" lengthAdjust="spacingAndGlyphs">6</text>
<line x1="623.42" y1="489.70" x2="623.42" y2="492.20" stroke="#808080" stroke-width="0.8"/>
<line x1="623.42" y1="355.00" x2="623.42" y2="357.00" stroke="#808080" stroke-width="0.8"/>
<text x="623.4" y="502.8" font-family='"Liberation Serif", serif' font-size="13" text-anchor="middle" fill="#1e1e1e" stroke="#1e1e1e" stroke-width="0.29" style="" textLength="6.4" lengthAdjust="spacingAndGlyphs">7</text>
<line x1="651.53" y1="489.70" x2="651.53" y2="492.20" stroke="#808080" stroke-width="0.8"/>
<line x1="651.53" y1="355.00" x2="651.53" y2="357.00" stroke="#808080" stroke-width="0.8"/>
<text x="651.5" y="502.8" font-family='"Liberation Serif", serif' font-size="13" text-anchor="middle" fill="#1e1e1e" stroke="#1e1e1e" stroke-width="0.29" style="" textLength="6.4" lengthAdjust="spacingAndGlyphs">8</text>
<line x1="679.64" y1="489.70" x2="679.64" y2="492.20" stroke="#808080" stroke-width="0.8"/>
<line x1="679.64" y1="355.00" x2="679.64" y2="357.00" stroke="#808080" stroke-width="0.8"/>
<text x="679.6" y="502.8" font-family='"Liberation Serif", serif' font-size="13" text-anchor="middle" fill="#1e1e1e" stroke="#1e1e1e" stroke-width="0.29" style="" textLength="6.4" lengthAdjust="spacingAndGlyphs">9</text>
<line x1="546.60" y1="472.96" x2="549.10" y2="472.96" stroke="#808080" stroke-width="0.8"/>
<text x="543.8" y="476.7" font-family='"Liberation Serif", serif' font-size="13" text-anchor="end" fill="#1e1e1e" stroke="#1e1e1e" stroke-width="0.29" style="" textLength="6.4" lengthAdjust="spacingAndGlyphs">5</text>
<line x1="546.60" y1="446.60" x2="549.10" y2="446.60" stroke="#808080" stroke-width="0.8"/>
<text x="543.8" y="450.3" font-family='"Liberation Serif", serif' font-size="13" text-anchor="end" fill="#1e1e1e" stroke="#1e1e1e" stroke-width="0.29" style="" textLength="6.4" lengthAdjust="spacingAndGlyphs">6</text>
<line x1="546.60" y1="420.24" x2="549.10" y2="420.24" stroke="#808080" stroke-width="0.8"/>
<text x="543.8" y="423.9" font-family='"Liberation Serif", serif' font-size="13" text-anchor="end" fill="#1e1e1e" stroke="#1e1e1e" stroke-width="0.29" style="" textLength="6.4" lengthAdjust="spacingAndGlyphs">7</text>
<line x1="546.60" y1="393.88" x2="549.10" y2="393.88" stroke="#808080" stroke-width="0.8"/>
<text x="543.8" y="397.6" font-family='"Liberation Serif", serif' font-size="13" text-anchor="end" fill="#1e1e1e" stroke="#1e1e1e" stroke-width="0.29" style="" textLength="6.4" lengthAdjust="spacingAndGlyphs">8</text>
<line x1="546.60" y1="367.52" x2="549.10" y2="367.52" stroke="#808080" stroke-width="0.8"/>
<text x="543.8" y="371.2" font-family='"Liberation Serif", serif' font-size="13" text-anchor="end" fill="#1e1e1e" stroke="#1e1e1e" stroke-width="0.29" style="" textLength="6.4" lengthAdjust="spacingAndGlyphs">9</text>
<line x1="546.60" y1="329.30" x2="549.10" y2="329.30" stroke="#808080" stroke-width="0.8"/>
<line x1="546.60" y1="354.30" x2="549.10" y2="354.30" stroke="#808080" stroke-width="0.8"/>
<line x1="712.00" y1="489.70" x2="712.00" y2="492.20" stroke="#808080" stroke-width="0.8"/>
<path d="M549.1,354.0 C549.8,353.8 551.8,354.0 553.3,352.8 C554.8,351.6 556.5,349.6 558.1,346.8 C559.7,344.0 561.5,338.8 563.0,335.9 C564.5,333.0 565.9,329.8 567.3,329.4 C568.7,329.0 569.9,331.2 571.4,333.5 C572.9,335.8 574.5,340.5 576.3,343.2 C578.1,345.9 579.7,348.2 582.3,349.7 C584.9,351.2 586.0,351.5 592.0,352.1 C598.0,352.7 601.6,353.0 618.6,353.3 C635.6,353.6 681.2,353.9 693.7,354.0" fill="none" stroke="#404040" stroke-width="1.15" stroke-dasharray="3.3,1.8"/>
<path d="M693.6,355.2 C693.6,368.3 693.4,417.9 693.6,433.8 C693.8,449.7 694.3,446.6 695.0,450.6 C695.7,454.6 696.2,455.5 697.8,457.6 C699.4,459.7 702.0,461.5 704.8,463.2 C707.6,464.9 711.8,466.5 714.6,467.9 C717.4,469.3 721.4,470.3 721.6,471.5 C721.8,472.7 718.8,474.0 716.0,475.2 C713.2,476.4 707.8,477.2 704.8,478.5 C701.8,479.8 699.4,481.3 697.8,482.7 C696.2,484.1 695.7,485.7 695.0,486.9 C694.3,488.1 693.8,489.2 693.6,489.7" fill="none" stroke="#404040" stroke-width="1.15" stroke-dasharray="4.6,1.4,1.2,1.4"/>
<rect x="635.00" y="334.10" width="52.90" height="14.70" fill="#ffffff" stroke="#dcdcdc" stroke-width="1" rx="2.5"/>
<line x1="638.20" y1="340.10" x2="655.90" y2="340.10" stroke="#333" stroke-width="1.3" stroke-dasharray="3.2,1.6"/>
<text x="663.8" y="343.2" font-family='"Liberation Serif", serif' font-size="9.5" text-anchor="start" fill="#1e1e1e" stroke="#1e1e1e" stroke-width="0.21" style="" textLength="20.1" lengthAdjust="spacingAndGlyphs">SAM</text>
<rect x="698.40" y="340.90" width="53.20" height="13.90" fill="#ffffff" stroke="#dcdcdc" stroke-width="1" rx="2.5"/>
<line x1="701.40" y1="347.20" x2="719.30" y2="347.20" stroke="#333" stroke-width="1.3" stroke-dasharray="4.2,1.2,1,1.2"/>
<text x="727.4" y="350.3" font-family='"Liberation Serif", serif' font-size="9.5" text-anchor="start" fill="#1e1e1e" stroke="#1e1e1e" stroke-width="0.21" style="" textLength="21.5" lengthAdjust="spacingAndGlyphs">GNN</text>
<rect x="731.70" y="355.50" width="4.60" height="134.00" fill="url(#vir)"/>
<line x1="736.30" y1="489.50" x2="738.80" y2="489.50" stroke="#444" stroke-width="0.8"/>
<text x="741.3" y="494.0" font-family='"Liberation Serif", serif' font-size="13" text-anchor="start" fill="#1e1e1e" stroke="#1e1e1e" stroke-width="0.29" style="" textLength="12.2" lengthAdjust="spacingAndGlyphs">10</text>
<text x="754.5" y="489.8" font-family='"Liberation Serif", serif' font-size="9.1" text-anchor="start" fill="#1e1e1e" stroke="#1e1e1e" stroke-width="0.20" style="" textLength="4.0" lengthAdjust="spacingAndGlyphs">0</text>
<line x1="736.30" y1="477.46" x2="737.70" y2="477.46" stroke="#444" stroke-width="0.6"/>
<line x1="736.30" y1="470.42" x2="737.70" y2="470.42" stroke="#444" stroke-width="0.6"/>
<line x1="736.30" y1="465.42" x2="737.70" y2="465.42" stroke="#444" stroke-width="0.6"/>
<line x1="736.30" y1="461.54" x2="737.70" y2="461.54" stroke="#444" stroke-width="0.6"/>
<line x1="736.30" y1="458.37" x2="737.70" y2="458.37" stroke="#444" stroke-width="0.6"/>
<line x1="736.30" y1="455.70" x2="737.70" y2="455.70" stroke="#444" stroke-width="0.6"/>
<line x1="736.30" y1="453.38" x2="737.70" y2="453.38" stroke="#444" stroke-width="0.6"/>
<line x1="736.30" y1="451.33" x2="737.70" y2="451.33" stroke="#444" stroke-width="0.6"/>
<line x1="736.30" y1="449.50" x2="738.80" y2="449.50" stroke="#444" stroke-width="0.8"/>
<text x="741.3" y="454.0" font-family='"Liberation Serif", serif' font-size="13" text-anchor="start" fill="#1e1e1e" stroke="#1e1e1e" stroke-width="0.29" style="" textLength="12.2" lengthAdjust="spacingAndGlyphs">10</text>
<text x="754.5" y="449.8" font-family='"Liberation Serif", serif' font-size="9.1" text-anchor="start" fill="#1e1e1e" stroke="#1e1e1e" stroke-width="0.20" style="" textLength="4.0" lengthAdjust="spacingAndGlyphs">1</text>
<line x1="736.30" y1="437.46" x2="737.70" y2="437.46" stroke="#444" stroke-width="0.6"/>
<line x1="736.30" y1="430.42" x2="737.70" y2="430.42" stroke="#444" stroke-width="0.6"/>
<line x1="736.30" y1="425.42" x2="737.70" y2="425.42" stroke="#444" stroke-width="0.6"/>
<line x1="736.30" y1="421.54" x2="737.70" y2="421.54" stroke="#444" stroke-width="0.6"/>
<line x1="736.30" y1="418.37" x2="737.70" y2="418.37" stroke="#444" stroke-width="0.6"/>
<line x1="736.30" y1="415.70" x2="737.70" y2="415.70" stroke="#444" stroke-width="0.6"/>
<line x1="736.30" y1="413.38" x2="737.70" y2="413.38" stroke="#444" stroke-width="0.6"/>
<line x1="736.30" y1="411.33" x2="737.70" y2="411.33" stroke="#444" stroke-width="0.6"/>
<line x1="736.30" y1="409.50" x2="738.80" y2="409.50" stroke="#444" stroke-width="0.8"/>
<text x="741.3" y="414.0" font-family='"Liberation Serif", serif' font-size="13" text-anchor="start" fill="#1e1e1e" stroke="#1e1e1e" stroke-width="0.29" style="" textLength="12.2" lengthAdjust="spacingAndGlyphs">10</text>
<text x="754.5" y="409.8" font-family='"Liberation Serif", serif' font-size="9.1" text-anchor="start" fill="#1e1e1e" stroke="#1e1e1e" stroke-width="0.20" style="" textLength="4.0" lengthAdjust="spacingAndGlyphs">2</text>
<line x1="736.30" y1="397.46" x2="737.70" y2="397.46" stroke="#444" stroke-width="0.6"/>
<line x1="736.30" y1="390.42" x2="737.70" y2="390.42" stroke="#444" stroke-width="0.6"/>
<line x1="736.30" y1="385.42" x2="737.70" y2="385.42" stroke="#444" stroke-width="0.6"/>
<line x1="736.30" y1="381.54" x2="737.70" y2="381.54" stroke="#444" stroke-width="0.6"/>
<line x1="736.30" y1="378.37" x2="737.70" y2="378.37" stroke="#444" stroke-width="0.6"/>
<line x1="736.30" y1="375.70" x2="737.70" y2="375.70" stroke="#444" stroke-width="0.6"/>
<line x1="736.30" y1="373.38" x2="737.70" y2="373.38" stroke="#444" stroke-width="0.6"/>
<line x1="736.30" y1="371.33" x2="737.70" y2="371.33" stroke="#444" stroke-width="0.6"/>
<line x1="736.30" y1="369.50" x2="738.80" y2="369.50" stroke="#444" stroke-width="0.8"/>
<text x="741.3" y="374.0" font-family='"Liberation Serif", serif' font-size="13" text-anchor="start" fill="#1e1e1e" stroke="#1e1e1e" stroke-width="0.29" style="" textLength="12.2" lengthAdjust="spacingAndGlyphs">10</text>
<text x="754.5" y="369.8" font-family='"Liberation Serif", serif' font-size="9.1" text-anchor="start" fill="#1e1e1e" stroke="#1e1e1e" stroke-width="0.20" style="" textLength="4.0" lengthAdjust="spacingAndGlyphs">3</text>
<line x1="736.30" y1="357.46" x2="737.70" y2="357.46" stroke="#444" stroke-width="0.6"/>
<text x="573.3" y="324.0" font-family='"Liberation Serif", serif' font-size="14.5" text-anchor="start" fill="#1e1e1e" stroke="#1e1e1e" stroke-width="0.32" style="" textLength="66.2" lengthAdjust="spacingAndGlyphs">SAM-GNN</text>
<text x="645.0" y="324.0" font-family='"Liberation Sans", sans-serif' font-size="12.5" text-anchor="start" fill="#1e1e1e" stroke="#1e1e1e" stroke-width="0.27" style="font-style:italic;" textLength="10.8" lengthAdjust="spacingAndGlyphs">M</text>
<text x="656.1" y="326.0" font-family='"Liberation Sans", sans-serif' font-size="9" text-anchor="start" fill="#1e1e1e" stroke="#1e1e1e" stroke-width="0.20" style="font-style:italic;" textLength="12.5" lengthAdjust="spacingAndGlyphs">BH</text>
<text x="593.8" y="516.6" font-family='"Liberation Serif", serif' font-size="14" text-anchor="start" fill="#1e1e1e" stroke="#1e1e1e" stroke-width="0.31" style="" textLength="28.2" lengthAdjust="spacingAndGlyphs">SAM</text>
<text x="626.0" y="516.6" font-family='"Liberation Sans", sans-serif' font-size="12.2" text-anchor="start" fill="#1e1e1e" stroke="#1e1e1e" stroke-width="0.27" style="font-style:italic;" textLength="9.8" lengthAdjust="spacingAndGlyphs">M</text>
<text x="636.2" y="518.6" font-family='"Liberation Sans", sans-serif' font-size="9" text-anchor="start" fill="#1e1e1e" stroke="#1e1e1e" stroke-width="0.20" style="font-style:italic;" textLength="11.5" lengthAdjust="spacingAndGlyphs">BH</text>
<g transform="translate(531.0,0) rotate(-90)">
<text x="-450.6" y="0.0" font-family='"Liberation Serif", serif' font-size="14" text-anchor="start" fill="#1e1e1e" stroke="#1e1e1e" stroke-width="0.31" style="" textLength="28.7" lengthAdjust="spacingAndGlyphs">GNN</text>
<text x="-416.9" y="0.0" font-family='"Liberation Sans", sans-serif' font-size="12.2" text-anchor="start" fill="#1e1e1e" stroke="#1e1e1e" stroke-width="0.27" style="font-style:italic;" textLength="9.6" lengthAdjust="spacingAndGlyphs">M</text>
<text x="-406.5" y="2.0" font-family='"Liberation Sans", sans-serif' font-size="9" text-anchor="start" fill="#1e1e1e" stroke="#1e1e1e" stroke-width="0.20" style="font-style:italic;" textLength="11.3" lengthAdjust="spacingAndGlyphs">BH</text>
</g>
<text x="563.5" y="368.5" font-family='"Liberation Serif", serif' font-size="10.3" text-anchor="start" fill="#1e1e1e" stroke="#1e1e1e" stroke-width="0.23" style="" textLength="79.6" lengthAdjust="spacingAndGlyphs">Bias : -0.001 dex</text>
<text x="563.5" y="378.1" font-family='"Liberation Sans", sans-serif' font-size="10.3" text-anchor="start" fill="#1e1e1e" stroke="#1e1e1e" stroke-width="0.23" style="font-style:italic;">σ</text>
<text x="569.2" y="378.1" font-family='"Liberation Serif", serif' font-size="10.3" text-anchor="start" fill="#1e1e1e" stroke="#1e1e1e" stroke-width="0.23" style="" textLength="56.8" lengthAdjust="spacingAndGlyphs"> : 0.127 dex</text>
<text x="563.5" y="387.3" font-family='"Liberation Serif", serif' font-size="10.3" text-anchor="start" fill="#1e1e1e" stroke="#1e1e1e" stroke-width="0.23" style="" textLength="74.3" lengthAdjust="spacingAndGlyphs">Pearson:  0.975</text>
</svg>
</body></html>
